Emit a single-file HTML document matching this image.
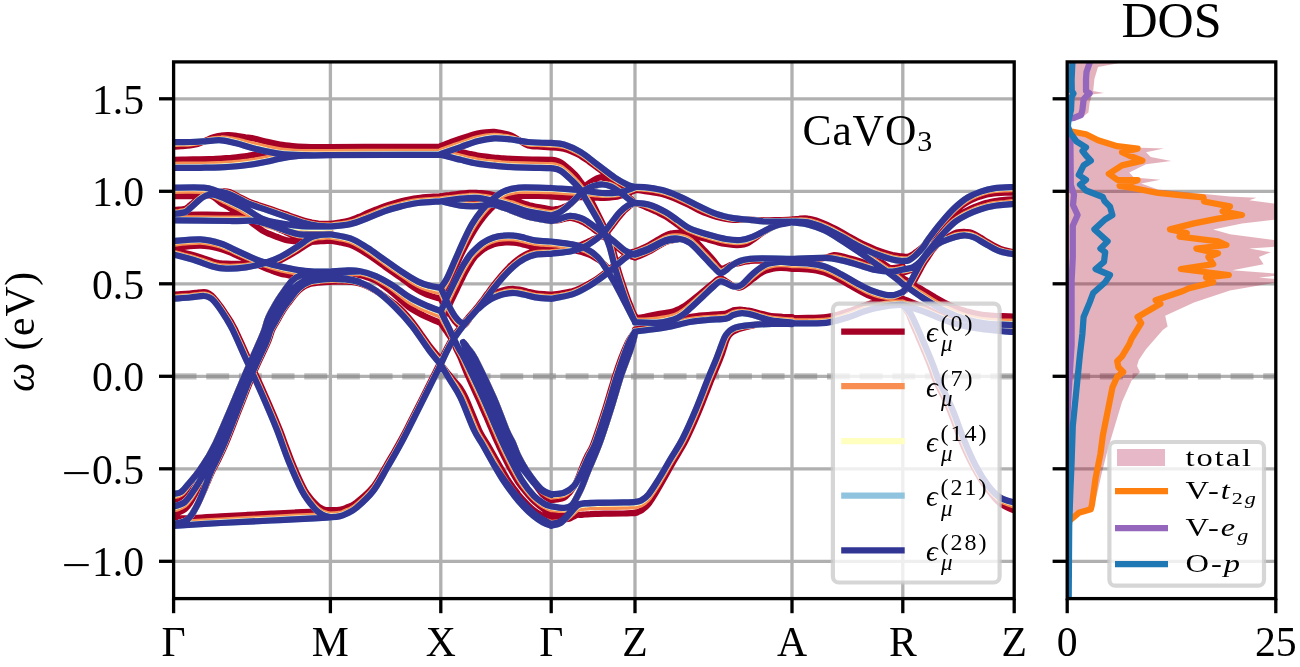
<!DOCTYPE html>
<html lang="en"><head><meta charset="utf-8"><title>CaVO3 band structure and DOS</title>
<style>html,body{margin:0;padding:0;background:#fff}body{width:1300px;height:667px;overflow:hidden}svg{display:block}text{font-family:"Liberation Serif","DejaVu Serif",serif;fill:#000}</style></head><body>
<svg width="1300" height="667" viewBox="0 0 1300 667">
<rect width="1300" height="667" fill="#fff"/>
<defs><clipPath id="ca"><rect x="173.6" y="61.9" width="840.6" height="536.7"/></clipPath><clipPath id="cd"><rect x="1067.2" y="61.9" width="208.6" height="536.7"/></clipPath></defs>
<g stroke="#b0b0b0" stroke-width="3.30" fill="none">
<line x1="330.4" y1="61.9" x2="330.4" y2="598.6"/>
<line x1="440.8" y1="61.9" x2="440.8" y2="598.6"/>
<line x1="551.2" y1="61.9" x2="551.2" y2="598.6"/>
<line x1="635.0" y1="61.9" x2="635.0" y2="598.6"/>
<line x1="792.0" y1="61.9" x2="792.0" y2="598.6"/>
<line x1="902.8" y1="61.9" x2="902.8" y2="598.6"/>
<line x1="173.6" y1="98.8" x2="1014.2" y2="98.8"/>
<line x1="1067.2" y1="98.8" x2="1275.8" y2="98.8"/>
<line x1="173.6" y1="191.3" x2="1014.2" y2="191.3"/>
<line x1="1067.2" y1="191.3" x2="1275.8" y2="191.3"/>
<line x1="173.6" y1="283.8" x2="1014.2" y2="283.8"/>
<line x1="1067.2" y1="283.8" x2="1275.8" y2="283.8"/>
<line x1="173.6" y1="468.8" x2="1014.2" y2="468.8"/>
<line x1="1067.2" y1="468.8" x2="1275.8" y2="468.8"/>
<line x1="173.6" y1="561.3" x2="1014.2" y2="561.3"/>
<line x1="1067.2" y1="561.3" x2="1275.8" y2="561.3"/>
</g>
<line x1="173.6" y1="376.3" x2="1014.2" y2="376.3" stroke="#b0b0b0" stroke-width="3.30"/>
<line x1="1067.2" y1="376.3" x2="1275.8" y2="376.3" stroke="#b0b0b0" stroke-width="3.30"/>
<line x1="173.6" y1="376.3" x2="1014.2" y2="376.3" stroke="#808080" stroke-opacity="0.5" stroke-width="6.25" stroke-dasharray="22.9 9.77"/>
<g clip-path="url(#ca)" fill="none" stroke-linejoin="round" stroke-linecap="round" stroke-width="6.25">
<path stroke="#a50026" d="M173.6 146.8C174.8 146.7 178.1 146.5 180.9 146.2C183.6 146.0 187.2 145.8 190.0 145.4C192.8 145.0 195.0 144.6 197.5 143.9C200.0 143.1 202.4 142.0 205.0 140.9C207.6 139.8 210.3 138.3 212.9 137.4C215.6 136.5 218.3 135.8 221.0 135.5C223.7 135.1 226.2 135.0 228.9 135.1C231.5 135.2 234.2 135.6 237.0 136.0C239.8 136.4 242.4 136.9 245.4 137.4C248.4 137.8 251.4 138.0 255.0 138.8C258.6 139.6 262.9 141.0 267.1 141.9C271.2 142.9 275.8 143.9 280.0 144.6C284.2 145.3 288.3 145.7 292.5 146.1C296.6 146.5 300.5 146.7 305.0 146.9C309.5 147.1 315.0 147.1 319.3 147.1C323.5 147.1 328.5 147.1 330.4 147.1 M173.6 159.8C175.6 159.8 181.1 159.7 185.5 159.6C189.9 159.6 195.8 159.4 200.0 159.4C204.2 159.3 207.5 159.2 211.0 159.1C214.5 158.9 217.7 158.8 221.0 158.6C224.3 158.4 227.7 158.1 230.9 157.9C234.0 157.6 237.2 157.3 240.0 156.9C242.8 156.6 245.4 156.2 247.9 155.9C250.4 155.5 252.7 155.1 255.0 154.7C257.3 154.3 259.5 154.0 261.7 153.6C263.9 153.2 265.9 152.8 268.0 152.4C270.1 152.1 272.1 151.7 274.1 151.5C276.1 151.3 278.0 151.4 280.0 151.2C282.0 151.0 283.9 150.4 285.9 150.0C287.9 149.6 290.0 149.3 292.0 149.0C294.0 148.7 295.5 148.6 297.7 148.4C299.8 148.2 301.5 148.2 305.0 148.0C308.5 147.8 314.3 147.6 318.5 147.5C322.7 147.3 328.4 147.2 330.4 147.1 M173.6 196.2C176.0 196.2 182.9 196.0 188.0 196.0C193.1 196.0 200.1 196.4 204.0 196.2C207.9 196.0 209.4 194.9 211.6 194.5C213.8 194.1 215.1 194.3 217.0 193.8C218.9 193.3 221.0 191.6 223.2 191.4C225.3 191.1 227.4 191.4 230.0 192.3C232.6 193.2 235.8 195.1 238.9 196.7C242.0 198.2 245.4 200.1 248.6 201.5C251.8 202.9 254.8 203.8 257.9 204.9C261.0 205.9 264.1 206.9 267.2 207.9C270.3 208.9 273.4 210.0 276.5 211.1C279.6 212.2 282.7 213.2 285.8 214.3C288.9 215.4 292.3 216.7 295.3 217.7C298.4 218.8 301.6 219.9 304.3 220.7C307.0 221.5 309.4 222.0 311.7 222.5C314.0 222.9 316.0 223.2 318.3 223.5C320.6 223.7 323.2 223.8 325.2 223.8C327.2 223.9 329.5 223.9 330.4 223.9 M173.6 210.0C174.5 210.0 177.0 209.9 178.8 209.7C180.6 209.5 183.2 209.4 184.6 209.0C186.0 208.7 186.6 208.2 187.4 207.6C188.2 207.1 188.7 206.5 189.5 205.8C190.3 205.2 191.1 204.5 192.0 203.9C192.8 203.2 193.6 202.5 194.4 201.8C195.2 201.1 196.0 200.3 196.8 199.7C197.6 199.0 198.4 198.3 199.2 197.7C200.0 197.1 200.8 196.5 201.6 196.0C202.5 195.5 203.3 194.9 204.1 194.6C204.9 194.4 205.7 194.6 206.5 194.6C207.4 194.7 208.2 194.8 209.0 195.0C209.8 195.2 210.5 195.4 211.4 195.8C212.2 196.2 213.0 196.6 214.0 197.3C215.0 198.0 216.1 198.8 217.2 199.8C218.4 200.7 219.7 202.1 221.0 203.0C222.3 203.9 223.8 204.6 225.3 205.4C226.8 206.3 228.4 207.2 230.0 208.2C231.6 209.1 233.4 210.1 235.0 211.1C236.7 212.1 238.5 213.1 240.0 214.1C241.5 215.1 242.6 215.8 244.1 216.9C245.5 217.9 246.7 218.7 248.6 220.1C250.5 221.5 252.9 223.6 255.2 225.3C257.5 227.1 260.2 229.1 262.5 230.6C264.8 232.0 266.9 232.9 269.2 233.9C271.5 234.9 273.7 235.7 276.5 236.8C279.3 237.8 282.7 239.2 285.8 240.0C288.8 240.7 292.3 240.8 295.0 241.2C297.7 241.5 299.5 241.7 301.8 241.8C304.2 241.9 305.9 241.9 309.0 241.8C312.1 241.7 317.0 241.4 320.6 241.2C324.1 241.0 328.8 240.7 330.4 240.6 M173.6 215.3C178.1 215.2 191.0 214.7 200.4 214.7C209.8 214.6 222.7 214.8 230.0 215.0C237.3 215.2 240.3 215.2 244.2 215.6C248.0 216.0 250.3 216.7 253.0 217.4C255.7 218.1 257.9 219.0 260.3 220.0C262.6 221.0 264.3 222.1 267.0 223.4C269.7 224.7 273.3 226.4 276.4 227.9C279.5 229.3 283.0 230.9 285.8 232.1C288.6 233.4 290.7 234.3 293.0 235.2C295.3 236.1 297.4 236.8 299.6 237.4C301.8 238.0 304.1 238.3 306.4 238.6C308.7 238.9 310.9 239.0 313.6 239.2C316.3 239.5 320.1 239.8 322.9 240.0C325.7 240.3 329.1 240.5 330.4 240.6 M173.6 248.0C175.6 247.8 181.3 247.0 185.8 246.6C190.3 246.1 196.3 245.5 200.5 245.6C204.7 245.6 207.9 246.2 211.3 246.7C214.7 247.3 217.8 248.1 220.8 249.0C223.8 249.9 226.6 251.0 229.5 252.2C232.3 253.3 234.9 254.6 237.7 255.8C240.5 257.0 243.7 258.2 246.5 259.4C249.4 260.6 252.3 262.1 254.7 263.2C257.1 264.3 258.9 265.2 260.8 266.1C262.8 266.9 264.5 267.7 266.5 268.5C268.5 269.3 270.7 270.1 272.9 271.0C275.2 271.8 277.4 272.7 280.0 273.4C282.6 274.1 285.4 274.6 288.3 275.2C291.1 275.8 294.1 276.7 297.0 276.8C299.9 276.9 302.7 276.1 305.5 275.9C308.4 275.7 311.0 275.5 314.0 275.5C317.0 275.5 320.5 275.6 323.3 275.6C326.0 275.6 329.2 275.5 330.4 275.5 M173.6 250.5C175.2 250.9 179.8 251.9 183.4 252.8C187.1 253.6 191.9 254.7 195.4 255.7C198.9 256.7 201.5 257.7 204.4 258.7C207.2 259.6 209.9 260.7 212.3 261.4C214.7 262.1 216.6 262.6 218.9 263.0C221.2 263.3 223.1 263.5 225.9 263.6C228.7 263.7 232.4 263.8 235.7 263.8C239.1 263.8 242.9 263.8 246.2 263.6C249.5 263.4 252.7 262.7 255.8 262.8C258.9 262.8 262.0 263.8 264.8 263.9C267.6 264.0 270.0 264.1 272.5 263.5C275.0 262.9 277.3 261.7 280.0 260.4C282.7 259.2 285.8 257.4 288.6 255.8C291.4 254.2 294.4 252.4 297.0 250.8C299.6 249.2 302.0 247.5 304.3 246.1C306.5 244.7 308.7 243.3 310.6 242.4C312.5 241.5 313.9 241.2 315.5 240.9C317.1 240.6 318.3 240.6 320.0 240.5C321.7 240.4 324.1 240.4 325.8 240.4C327.5 240.5 329.6 240.6 330.4 240.6 M173.6 294.6C174.8 294.5 178.2 294.3 180.9 294.1C183.7 294.0 187.2 293.8 190.0 293.5C192.8 293.2 195.3 292.8 197.6 292.6C199.9 292.3 202.2 292.0 203.9 292.0C205.6 292.0 206.6 292.5 207.6 292.9C208.6 293.2 209.2 293.8 210.0 294.3C210.8 294.8 211.4 295.3 212.1 295.9C212.7 296.5 213.2 297.1 214.0 298.0C214.8 298.9 215.6 300.0 216.6 301.2C217.6 302.5 218.7 304.0 220.0 305.7C221.3 307.4 222.8 309.6 224.2 311.6C225.6 313.7 227.2 316.2 228.4 318.0C229.6 319.8 230.2 320.7 231.4 322.7C232.5 324.7 233.5 326.4 235.3 330.0C237.0 333.6 239.5 339.2 241.9 344.4C244.3 349.7 247.1 355.9 249.6 361.5C252.2 367.1 254.6 372.2 257.2 377.8C259.7 383.2 262.2 388.7 264.7 394.5C267.3 400.3 270.0 406.5 272.5 412.4C275.0 418.3 277.6 424.4 279.8 430.0C282.0 435.6 283.8 440.7 285.7 445.8C287.7 451.0 289.3 455.8 291.4 461.0C293.5 466.2 295.9 472.0 298.2 476.9C300.4 481.8 302.8 486.9 304.9 490.5C307.0 494.2 309.0 496.6 310.9 499.0C312.8 501.4 314.8 503.2 316.4 504.7C318.0 506.2 319.3 507.2 320.6 508.0C321.9 508.8 323.1 509.2 324.3 509.6C325.5 510.0 326.7 510.1 327.8 510.2C328.8 510.3 330.0 510.2 330.4 510.2 M173.6 499.9C174.1 499.7 175.5 499.5 176.8 499.0C178.0 498.4 179.6 497.9 181.0 496.7C182.4 495.5 183.7 494.0 185.1 492.0C186.5 490.0 188.0 487.3 189.5 484.9C191.0 482.5 192.4 480.3 194.1 477.8C195.8 475.3 197.6 473.0 199.7 470.0C201.8 467.0 203.9 464.4 206.5 459.9C209.2 455.4 211.8 451.3 215.7 443.0C219.6 434.7 225.4 421.0 230.2 409.9C235.0 398.7 240.7 385.0 244.5 376.0C248.3 367.0 250.8 361.6 253.2 356.1C255.6 350.6 257.5 346.5 259.0 343.0C260.5 339.5 261.5 337.4 262.4 335.2C263.3 333.0 263.8 331.9 264.4 330.0C265.0 328.1 265.6 326.0 266.2 324.0C266.8 322.0 267.3 320.1 268.2 318.0C269.1 315.9 270.3 313.6 271.4 311.4C272.5 309.2 273.9 306.9 275.0 305.0C276.1 303.1 277.1 301.5 278.2 299.7C279.3 298.0 280.4 296.5 281.8 294.4C283.2 292.3 285.1 289.5 286.8 287.3C288.5 285.0 290.5 282.4 292.0 280.8C293.5 279.2 294.6 278.3 296.0 277.5C297.4 276.6 298.6 276.0 300.4 275.6C302.2 275.1 304.4 274.9 306.7 274.8C309.0 274.7 311.4 274.7 314.0 274.8C316.6 275.0 319.4 275.4 322.1 275.7C324.9 276.0 327.8 276.7 330.4 276.8C333.0 276.9 335.4 276.5 337.9 276.3C340.3 276.1 342.5 275.9 345.0 275.8C347.5 275.7 350.5 275.6 352.9 275.6C355.2 275.5 357.9 275.5 358.9 275.5 M173.6 514.0C174.4 513.7 176.7 513.3 178.5 512.5C180.3 511.7 182.7 510.9 184.6 509.4C186.5 507.8 188.1 505.7 189.7 503.4C191.3 501.0 192.9 497.9 194.4 495.2C195.9 492.5 197.3 489.7 198.6 487.2C199.9 484.6 201.3 481.7 202.2 479.9C203.1 478.2 203.2 478.1 203.9 476.7C204.6 475.3 205.1 474.1 206.5 471.4C207.9 468.7 209.9 465.0 212.3 460.3C214.7 455.5 217.3 451.4 221.0 443.0C224.7 434.6 230.0 421.0 234.5 409.9C239.0 398.7 244.3 385.0 248.0 376.0C251.7 367.0 254.2 361.6 256.6 356.1C259.0 350.6 261.0 346.5 262.5 343.0C264.0 339.5 264.8 337.2 265.6 335.1C266.5 332.9 266.8 331.7 267.5 330.0C268.2 328.3 268.9 326.7 269.6 325.0C270.4 323.3 271.1 321.9 272.0 320.0C272.9 318.1 274.1 315.9 275.2 313.7C276.4 311.5 277.7 309.2 279.0 307.0C280.3 304.8 281.8 302.4 283.3 300.3C284.8 298.1 286.4 295.9 288.0 294.0C289.6 292.1 291.1 290.4 292.8 288.8C294.4 287.2 296.2 285.8 298.0 284.5C299.8 283.2 301.6 282.0 303.7 281.1C305.8 280.1 307.8 279.2 310.6 278.6C313.4 278.0 317.1 277.6 320.4 277.4C323.7 277.1 327.5 277.0 330.4 277.0C333.3 277.0 335.6 277.1 338.1 277.4C340.5 277.6 342.5 277.9 345.0 278.3C347.5 278.7 350.5 279.4 352.9 280.0C355.2 280.5 357.9 281.2 358.9 281.5 M173.6 524.0C174.5 523.8 176.9 523.4 178.7 522.9C180.6 522.4 183.1 521.8 184.6 521.2C186.1 520.6 186.8 520.2 187.8 519.3C188.8 518.5 189.6 517.7 190.6 516.3C191.6 514.9 192.9 513.0 194.1 510.9C195.3 508.9 196.5 506.6 197.7 504.1C198.9 501.6 200.1 498.9 201.4 496.1C202.7 493.4 204.1 490.3 205.3 487.5C206.5 484.7 207.4 482.3 208.7 479.4C209.9 476.5 211.3 473.3 212.9 470.0C214.5 466.7 216.2 464.1 218.4 459.6C220.6 455.1 222.5 451.3 226.0 443.0C229.5 434.7 234.7 421.0 239.1 409.9C243.5 398.7 248.8 385.0 252.5 376.0C256.2 367.0 258.9 361.6 261.4 356.1C263.9 350.6 266.0 346.5 267.5 343.0C269.0 339.5 269.7 337.1 270.4 335.0C271.2 332.8 271.4 331.6 272.1 330.0C272.8 328.4 273.6 327.0 274.4 325.6C275.2 324.2 276.0 323.0 277.0 321.4C278.0 319.8 279.1 317.6 280.1 315.7C281.2 313.9 282.4 311.8 283.4 310.2C284.3 308.6 285.1 307.5 286.1 306.1C287.1 304.8 288.1 303.6 289.4 302.0C290.6 300.3 292.2 298.0 293.8 296.0C295.3 294.1 297.1 292.0 298.8 290.4C300.5 288.8 302.1 287.5 304.1 286.4C306.0 285.3 307.7 284.3 310.6 283.6C313.5 283.0 317.9 282.6 321.2 282.3C324.5 282.0 328.9 281.9 330.4 281.8 M173.6 518.5C177.0 518.4 186.2 518.3 194.0 517.9C201.9 517.6 212.1 516.9 220.8 516.4C229.5 515.9 238.0 515.5 246.5 515.0C255.0 514.6 263.5 514.1 271.6 513.7C279.7 513.3 287.9 512.9 294.9 512.5C302.0 512.1 309.0 511.7 314.0 511.5C319.0 511.2 322.1 511.0 324.9 510.8C327.6 510.6 329.5 510.5 330.4 510.4 M330.4 147.1C339.6 147.1 367.2 147.0 385.6 146.9C404.0 146.8 431.6 146.7 440.8 146.7 M330.4 223.9C331.9 223.7 336.0 223.1 339.3 222.5C342.7 221.9 347.1 221.2 350.4 220.2C353.7 219.3 356.2 218.1 359.0 217.0C361.9 215.8 364.5 214.4 367.3 213.2C370.1 212.0 373.0 210.9 375.8 209.7C378.6 208.6 381.5 207.4 384.3 206.4C387.1 205.4 389.9 204.5 392.8 203.7C395.6 202.9 398.4 202.1 401.2 201.4C404.0 200.7 406.5 200.1 409.3 199.5C412.1 198.9 414.6 198.4 418.1 198.0C421.6 197.6 426.7 197.2 430.5 196.9C434.3 196.7 439.1 196.4 440.8 196.3 M330.4 240.6C331.9 240.8 336.0 241.4 339.3 242.1C342.7 242.8 347.1 243.6 350.4 244.8C353.7 245.9 356.2 247.4 359.0 248.9C361.9 250.5 364.5 252.3 367.3 254.1C370.1 255.9 373.0 257.9 375.8 259.9C378.6 261.9 381.5 264.0 384.3 266.1C387.1 268.1 389.9 270.1 392.8 272.1C395.6 274.1 398.3 276.0 401.2 278.0C404.1 280.1 407.1 282.6 410.0 284.6C412.8 286.6 415.7 288.6 418.1 290.1C420.5 291.6 422.4 292.5 424.4 293.4C426.4 294.3 428.0 294.9 430.0 295.6C432.0 296.3 434.3 297.1 436.1 297.6C437.9 298.1 440.0 298.7 440.8 298.9 M330.4 275.5C331.5 275.4 334.4 275.1 336.8 275.0C339.3 274.8 342.5 274.6 345.0 274.5C347.5 274.4 349.5 274.3 351.8 274.4C354.1 274.5 356.3 274.5 358.9 275.0C361.5 275.5 364.3 276.3 367.2 277.2C370.0 278.2 373.0 279.1 375.8 280.6C378.6 282.1 381.4 284.3 384.2 286.3C387.1 288.4 389.9 290.5 392.7 292.9C395.5 295.2 398.4 297.9 401.2 300.4C404.0 302.9 406.8 305.7 409.7 307.8C412.6 309.9 415.5 311.3 418.3 312.8C421.1 314.4 423.9 315.7 426.6 317.0C429.3 318.3 432.4 319.6 434.8 320.6C437.1 321.6 439.8 322.6 440.8 323.0 M330.4 281.8C331.5 281.8 334.4 281.6 336.8 281.6C339.3 281.6 342.5 281.6 345.0 281.6C347.5 281.7 349.5 281.7 351.8 282.0C354.1 282.2 356.4 282.6 358.9 283.3C361.4 284.0 364.2 284.9 367.0 286.1C369.8 287.4 372.7 288.9 375.8 290.8C378.9 292.6 382.2 294.9 385.4 297.1C388.7 299.4 392.1 301.7 395.1 304.2C398.1 306.7 400.9 309.1 403.7 312.1C406.5 315.0 409.1 318.1 412.0 321.7C414.9 325.3 418.0 329.8 420.8 333.8C423.7 337.7 426.5 341.9 429.0 345.3C431.5 348.6 434.0 351.5 436.0 353.9C437.9 356.2 440.0 358.6 440.8 359.5 M330.4 510.2C331.1 510.2 332.9 510.3 334.4 510.2C335.9 510.2 337.8 510.1 339.3 509.9C340.8 509.7 341.8 509.4 343.1 509.0C344.4 508.6 345.7 508.0 347.0 507.5C348.3 507.0 349.5 506.7 351.1 505.9C352.6 505.1 354.1 504.3 356.3 502.6C358.5 500.9 361.7 498.5 364.5 495.9C367.3 493.3 370.6 490.3 373.2 487.0C375.8 483.7 378.0 479.9 380.3 476.1C382.6 472.4 384.7 468.3 387.0 464.3C389.3 460.2 391.8 456.1 394.2 452.0C396.5 447.9 399.0 443.6 401.2 439.5C403.4 435.4 405.5 431.4 407.6 427.3C409.7 423.1 411.8 419.1 414.0 414.7C416.2 410.3 418.7 405.4 421.0 400.8C423.3 396.2 425.6 391.6 428.0 386.8C430.4 382.1 433.1 376.7 435.3 372.4C437.4 368.2 439.9 363.3 440.8 361.5 M440.8 145.9C442.3 145.4 446.3 143.9 449.6 142.6C452.9 141.4 457.2 139.7 460.5 138.6C463.8 137.5 466.3 136.7 469.1 135.9C471.9 135.0 474.6 134.2 477.4 133.6C480.2 133.0 483.0 132.6 485.8 132.3C488.7 132.0 491.5 131.7 494.3 131.9C497.1 132.1 500.0 132.8 502.8 133.4C505.6 134.0 508.5 134.3 511.3 135.5C514.1 136.7 516.6 138.8 519.4 140.5C522.2 142.1 524.6 144.4 528.2 145.4C531.8 146.4 536.9 146.3 540.8 146.6C544.6 146.9 549.5 147.3 551.2 147.4 M440.8 146.7C442.3 147.1 446.3 148.1 449.6 149.0C452.9 149.8 457.2 150.9 460.5 151.7C463.8 152.6 466.3 153.2 469.1 153.9C471.9 154.5 474.6 155.1 477.4 155.6C480.2 156.1 483.0 156.4 485.8 156.7C488.7 157.1 491.7 157.3 494.3 157.6C496.9 157.8 498.5 158.1 501.4 158.3C504.2 158.5 506.1 158.7 511.3 158.9C516.5 159.1 525.7 159.3 532.3 159.5C539.0 159.7 548.1 159.8 551.2 159.9 M440.8 196.3C442.3 196.1 446.3 195.5 449.6 195.1C452.9 194.6 457.2 194.1 460.5 193.7C463.8 193.3 466.3 193.1 469.1 192.9C471.9 192.8 474.6 192.7 477.4 192.9C480.2 193.0 483.0 193.3 485.8 193.7C488.7 194.1 491.5 194.7 494.3 195.3C497.1 195.8 500.0 196.4 502.8 197.0C505.6 197.6 508.5 198.2 511.3 199.0C514.1 199.8 516.6 201.0 519.4 202.0C522.2 203.0 524.6 204.0 528.2 204.9C531.8 205.9 536.9 206.8 540.8 207.6C544.6 208.3 549.5 209.2 551.2 209.5 M440.8 196.3C442.3 196.8 446.3 198.1 449.6 199.0C452.9 199.9 457.2 201.1 460.5 201.6C463.8 202.1 466.7 202.2 469.5 202.3C472.4 202.4 475.1 202.3 477.4 202.2C479.7 202.1 481.4 201.6 483.1 201.5C484.8 201.5 486.4 201.7 487.6 201.8C488.8 202.0 489.4 202.1 490.5 202.5C491.6 202.9 492.4 203.6 494.3 204.4C496.2 205.2 499.3 206.2 502.2 207.2C505.0 208.2 508.4 209.4 511.3 210.5C514.2 211.6 516.6 212.7 519.4 213.8C522.2 214.8 524.6 215.9 528.2 216.8C531.8 217.7 536.9 218.6 540.8 219.3C544.6 220.0 549.5 220.7 551.2 221.0 M440.8 298.9C441.2 298.0 442.3 295.8 443.3 293.6C444.3 291.5 445.5 288.9 446.8 286.2C448.1 283.5 449.4 280.6 450.8 277.5C452.2 274.4 453.8 271.0 455.2 267.8C456.6 264.5 458.0 261.3 459.4 258.2C460.8 255.2 462.2 252.3 463.6 249.6C465.0 246.8 466.3 244.4 467.7 241.8C469.1 239.2 470.4 236.6 472.0 234.0C473.6 231.3 475.4 228.4 477.1 225.8C478.9 223.1 480.7 220.6 482.5 218.3C484.3 216.0 486.0 213.8 487.8 211.9C489.5 209.9 491.2 208.1 493.0 206.6C494.8 205.0 496.5 203.8 498.2 202.7C500.0 201.5 501.8 200.6 503.5 199.8C505.2 198.9 507.0 198.3 508.8 197.7C510.5 197.2 512.4 197.0 514.0 196.7C515.6 196.5 516.5 196.4 518.2 196.2C520.0 196.1 521.1 195.9 524.5 195.9C527.9 195.8 534.1 195.9 538.5 195.9C543.0 196.0 549.1 196.2 551.2 196.3 M440.8 323.0C441.1 322.5 441.8 321.1 442.4 319.8C443.1 318.5 443.9 316.8 444.7 315.2C445.4 313.5 446.2 311.7 447.1 309.9C447.9 308.0 448.8 306.0 449.7 304.1C450.6 302.2 451.5 300.3 452.4 298.4C453.3 296.6 454.2 294.9 455.0 293.1C455.8 291.4 456.6 289.8 457.4 288.1C458.2 286.3 459.1 284.5 460.0 282.7C460.9 280.9 461.8 278.9 462.8 277.0C463.7 275.2 464.6 273.3 465.5 271.6C466.4 270.0 467.2 268.6 468.0 267.2C468.8 265.8 469.7 264.5 470.5 263.2C471.3 261.9 472.0 260.6 472.9 259.4C473.8 258.2 474.5 257.1 475.7 255.9C476.9 254.7 478.4 253.2 479.9 252.0C481.4 250.8 483.1 249.5 484.6 248.5C486.2 247.5 487.6 246.8 489.1 246.1C490.6 245.4 492.1 244.7 493.7 244.2C495.3 243.8 496.8 243.5 498.4 243.2C500.1 242.9 501.8 242.7 503.5 242.6C505.2 242.5 507.0 242.3 508.8 242.3C510.5 242.3 512.2 242.4 514.0 242.6C515.8 242.8 517.5 243.1 519.2 243.5C521.0 243.8 522.8 244.3 524.5 244.7C526.2 245.1 527.6 245.6 529.4 246.1C531.1 246.5 532.6 247.0 535.0 247.3C537.4 247.6 541.1 247.9 543.8 248.1C546.5 248.3 550.0 248.4 551.2 248.5 M440.8 361.5C441.2 360.7 442.2 358.4 443.0 356.5C443.9 354.6 445.0 352.1 446.0 350.2C447.0 348.2 447.8 346.5 448.8 344.7C449.8 342.9 450.8 341.2 451.9 339.4C453.0 337.6 454.2 335.8 455.4 334.0C456.7 332.2 458.0 330.4 459.3 328.6C460.6 326.8 462.0 325.1 463.5 323.3C464.9 321.5 466.4 319.8 468.0 317.9C469.6 316.1 471.2 314.3 472.9 312.3C474.5 310.4 476.2 308.5 477.9 306.4C479.6 304.3 481.4 301.9 483.0 299.8C484.6 297.6 486.3 295.3 487.5 293.6C488.7 292.0 489.3 291.1 490.2 289.9C491.1 288.6 491.7 287.8 493.0 286.2C494.3 284.5 496.2 282.1 497.9 280.0C499.7 277.8 501.7 275.4 503.5 273.4C505.3 271.3 507.0 269.5 508.8 267.7C510.5 265.9 512.2 264.2 514.0 262.7C515.8 261.2 517.5 259.8 519.2 258.6C521.0 257.3 522.8 256.2 524.5 255.2C526.2 254.3 527.6 253.5 529.4 252.8C531.1 252.1 532.6 251.5 535.0 251.1C537.4 250.6 541.1 250.4 543.8 250.2C546.5 250.0 550.0 249.9 551.2 249.8 M478.0 309.0C478.3 308.6 479.2 307.5 479.9 306.5C480.7 305.5 481.6 304.3 482.5 303.2C483.4 302.1 484.3 301.1 485.2 300.1C486.1 299.0 487.2 297.8 488.0 297.0C488.8 296.2 489.4 296.0 490.2 295.5C491.0 295.0 491.7 294.6 493.0 294.0C494.3 293.4 496.2 292.6 497.9 292.0C499.7 291.4 501.7 290.7 503.5 290.2C505.3 289.7 507.0 289.4 508.8 289.2C510.5 289.1 512.2 288.9 514.0 289.0C515.8 289.1 517.5 289.4 519.2 289.7C521.0 290.0 522.8 290.4 524.5 290.8C526.2 291.2 527.6 291.7 529.4 292.1C531.1 292.5 532.6 292.9 535.0 293.3C537.4 293.7 541.1 294.0 543.8 294.2C546.5 294.5 550.0 294.7 551.2 294.8 M440.8 298.9C441.1 299.5 442.1 301.2 442.9 302.5C443.7 303.9 444.7 305.7 445.5 307.0C446.3 308.4 446.9 309.4 447.7 310.6C448.4 311.7 449.2 312.6 450.0 313.9C450.8 315.2 451.8 316.9 452.7 318.3C453.7 319.6 454.7 321.0 455.6 322.1C456.5 323.2 457.4 324.1 458.3 324.8C459.2 325.5 460.1 326.0 461.0 326.1C461.9 326.2 462.8 325.8 463.6 325.4C464.4 325.0 465.2 324.4 466.0 323.6C466.8 322.8 467.6 321.4 468.3 320.4C469.0 319.4 469.7 318.0 470.0 317.5 M440.8 323.0C441.0 323.4 441.7 324.4 442.2 325.2C442.7 326.0 443.4 327.1 444.0 327.9C444.5 328.7 444.9 329.2 445.5 329.9C446.0 330.6 446.5 331.2 447.2 332.2C447.8 333.3 448.7 334.7 449.6 335.9C450.4 337.2 451.3 338.4 452.1 339.8C453.0 341.3 453.7 343.0 454.5 344.7C455.3 346.4 456.2 348.7 456.8 350.0C457.5 351.3 457.6 351.2 458.3 352.8C459.0 354.2 459.5 354.9 461.2 359.0C462.9 363.1 465.7 370.6 468.6 377.1C471.4 383.6 475.2 391.6 478.1 398.0C481.0 404.4 483.5 410.3 485.9 415.6C488.2 421.0 490.4 426.4 492.0 430.0C493.6 433.6 494.3 435.3 495.2 437.5C496.2 439.7 496.7 440.9 497.7 443.0C498.7 445.1 499.8 447.7 501.1 450.3C502.4 453.0 503.7 455.6 505.3 458.8C506.9 462.1 508.9 466.1 511.0 469.8C513.1 473.6 515.4 477.8 517.8 481.4C520.1 484.9 522.8 488.3 525.3 491.3C527.7 494.4 530.2 497.1 532.5 499.5C534.8 501.9 537.3 503.8 539.2 505.5C541.2 507.1 542.7 508.4 544.2 509.4C545.7 510.5 547.2 511.3 548.3 512.0C549.5 512.6 550.7 513.1 551.2 513.3 M464.0 343.0C464.3 343.4 465.1 344.4 465.8 345.4C466.6 346.4 467.6 347.9 468.5 349.0C469.4 350.1 469.9 350.3 471.0 351.9C472.2 353.6 473.1 354.8 475.3 359.0C477.5 363.2 481.1 370.6 484.2 377.1C487.3 383.6 491.1 391.6 493.9 398.0C496.7 404.4 498.9 410.3 501.0 415.6C503.1 421.0 505.0 426.3 506.5 430.0C508.0 433.7 509.1 435.6 510.2 437.7C511.3 439.9 512.1 441.1 513.0 443.0C513.9 444.9 514.6 447.1 515.4 449.2C516.3 451.2 517.0 453.2 518.0 455.4C519.0 457.6 520.3 460.0 521.6 462.2C522.9 464.5 524.2 466.8 525.6 469.0C527.0 471.2 528.3 473.0 529.7 475.2C531.1 477.4 532.6 479.9 534.0 482.1C535.4 484.4 536.8 486.7 538.2 488.7C539.6 490.7 541.0 492.7 542.5 494.3C544.0 495.8 545.9 497.1 547.4 498.1C548.8 499.1 550.6 499.9 551.2 500.2 M440.8 364.5C441.7 365.6 444.1 368.6 446.1 371.1C448.2 373.7 450.9 377.2 453.2 380.0C455.5 382.8 457.9 384.8 460.0 387.8C462.0 390.7 463.4 393.3 465.5 397.7C467.6 402.1 470.1 408.7 472.4 414.0C474.6 419.4 477.2 426.0 479.0 430.0C480.8 434.0 482.0 435.6 483.4 438.1C484.8 440.5 485.9 441.8 487.5 444.5C489.1 447.2 491.1 450.9 492.9 454.1C494.7 457.3 496.7 460.9 498.4 463.9C500.1 466.9 501.6 469.5 503.2 472.2C504.7 474.8 506.1 477.1 507.7 479.6C509.3 482.1 511.2 484.7 512.9 487.2C514.6 489.6 516.5 492.0 518.0 494.1C519.6 496.1 521.0 497.7 522.4 499.3C523.8 501.0 525.1 502.3 526.6 503.8C528.1 505.3 529.7 506.8 531.1 508.1C532.6 509.4 534.1 510.6 535.5 511.6C536.9 512.6 538.2 513.4 539.5 514.1C540.8 514.8 541.9 515.4 543.3 515.9C544.6 516.4 546.3 516.9 547.7 517.3C549.0 517.6 550.6 518.0 551.2 518.2 M551.2 147.4C552.1 147.4 554.4 147.4 556.5 147.6C558.6 147.8 561.3 148.1 563.9 148.7C566.5 149.4 569.3 150.5 572.1 151.7C574.9 152.9 577.9 154.2 580.8 155.9C583.7 157.5 586.4 159.6 589.2 161.6C592.1 163.6 594.8 165.7 597.7 167.9C600.6 170.0 603.6 172.4 606.4 174.5C609.2 176.6 612.1 178.7 614.7 180.5C617.3 182.3 619.8 183.7 622.1 185.0C624.3 186.3 626.5 187.4 628.2 188.1C629.9 188.8 631.3 189.1 632.4 189.4C633.6 189.7 634.6 189.7 635.0 189.8 M551.2 159.9C551.9 160.0 553.5 160.0 555.1 160.4C556.7 160.8 558.5 161.0 560.6 162.3C562.8 163.6 565.6 166.1 568.1 168.2C570.5 170.3 573.3 172.9 575.3 175.0C577.3 177.1 578.6 178.9 580.0 180.8C581.4 182.6 582.8 184.6 583.8 186.2C584.8 187.9 585.3 189.0 586.1 190.7C587.0 192.5 587.5 193.8 588.9 196.7C590.3 199.5 592.7 203.9 594.7 207.7C596.6 211.5 598.9 216.1 600.5 219.3C602.1 222.6 603.1 224.7 604.2 227.0C605.3 229.4 606.2 231.3 607.1 233.4C608.0 235.5 608.8 237.2 609.6 239.4C610.5 241.7 611.2 243.7 612.1 246.9C613.1 250.1 614.2 254.6 615.3 258.9C616.4 263.1 617.6 267.9 618.9 272.3C620.2 276.7 621.7 281.3 623.1 285.5C624.5 289.8 626.0 294.1 627.3 297.7C628.6 301.3 629.9 304.5 631.0 307.3C632.1 310.2 633.2 312.7 634.1 314.7C635.0 316.7 635.7 318.1 636.2 319.3C636.8 320.5 637.3 321.4 637.5 321.8 M583.0 188.0C584.2 187.1 587.7 184.1 590.0 182.5C592.3 180.9 594.8 179.2 597.0 178.3C599.2 177.4 600.8 176.9 603.0 176.8C605.2 176.8 607.7 177.2 610.0 178.0C612.3 178.8 614.5 180.1 617.0 181.5C619.5 182.9 622.7 185.2 625.0 186.5C627.3 187.8 630.0 189.0 631.0 189.5 M551.2 196.3C553.6 196.5 560.5 197.3 565.4 197.4C570.4 197.6 577.3 197.4 580.8 197.2C584.3 197.1 585.0 196.8 586.5 196.8C588.0 196.8 588.5 197.0 590.0 197.2C591.5 197.3 593.8 197.5 595.8 197.6C597.8 197.7 599.9 197.9 602.0 197.9C604.1 197.9 606.3 197.8 608.5 197.7C610.6 197.5 612.8 197.3 614.7 197.0C616.6 196.7 618.3 196.2 620.0 195.7C621.7 195.2 623.2 194.6 625.0 194.0C626.8 193.4 629.0 192.6 630.6 192.0C632.3 191.4 634.3 190.6 635.0 190.3 M551.2 209.5C551.8 209.5 553.5 209.4 554.8 209.3C556.2 209.1 558.0 209.0 559.2 208.7C560.4 208.5 561.3 208.0 562.3 207.7C563.3 207.3 564.1 207.0 565.0 206.6C565.9 206.3 566.7 205.9 567.5 205.5C568.4 205.1 569.1 204.8 570.0 204.2C570.9 203.6 571.8 202.5 572.7 201.7C573.6 200.8 574.6 199.9 575.5 199.0C576.4 198.1 577.2 197.2 578.0 196.3C578.9 195.4 579.7 194.5 580.8 193.6C581.9 192.7 583.2 191.7 584.4 190.8C585.6 189.9 586.9 189.0 588.0 188.3C589.1 187.6 589.9 187.2 590.9 186.8C591.9 186.4 592.8 186.1 594.0 185.8C595.2 185.5 596.8 185.2 598.3 184.9C599.7 184.5 601.3 183.9 602.8 183.6C604.3 183.2 605.6 182.9 607.0 182.8C608.4 182.7 609.7 182.5 611.0 182.8C612.3 183.1 613.5 183.9 614.6 184.6C615.8 185.3 617.0 186.2 618.1 187.0C619.2 187.8 620.4 188.7 621.5 189.5C622.6 190.4 623.6 191.0 624.8 192.1C626.0 193.2 627.3 194.9 628.4 196.2C629.5 197.5 630.7 198.9 631.6 199.8C632.5 200.8 633.2 201.3 633.7 201.9C634.3 202.4 634.8 202.7 635.0 202.9 M551.2 249.8C552.8 249.7 557.4 249.3 560.9 249.0C564.4 248.6 569.2 248.1 572.3 247.5C575.4 247.0 577.4 246.3 579.7 245.6C581.9 244.8 583.8 243.9 585.9 242.9C588.0 241.9 590.1 240.7 592.2 239.7C594.3 238.8 596.7 238.1 598.5 237.3C600.4 236.5 601.8 235.9 603.3 235.0C604.8 234.0 606.0 233.0 607.4 231.7C608.7 230.4 609.9 228.7 611.2 227.1C612.4 225.5 613.7 223.7 615.0 222.0C616.3 220.3 617.6 218.5 619.0 216.8C620.3 215.1 621.7 213.4 623.0 212.0C624.3 210.6 625.9 209.4 627.1 208.3C628.2 207.2 629.1 206.2 630.1 205.5C631.1 204.8 632.1 204.2 632.9 203.8C633.7 203.4 634.6 203.0 635.0 202.9 M551.2 221.0C551.8 220.9 553.5 220.8 555.0 220.6C556.4 220.4 558.4 220.3 560.0 219.9C561.6 219.6 563.2 218.9 564.9 218.6C566.5 218.2 568.2 217.7 570.0 217.8C571.8 217.8 573.8 218.4 575.6 219.0C577.4 219.5 579.3 220.4 580.8 221.0C582.3 221.6 583.3 222.0 584.5 222.7C585.7 223.4 586.6 224.0 588.0 225.0C589.4 226.0 591.3 227.3 592.9 228.4C594.5 229.6 596.3 231.0 597.7 232.0C599.1 233.0 599.9 233.7 601.1 234.6C602.2 235.4 603.1 236.2 604.5 237.2C605.9 238.2 607.7 239.6 609.4 240.9C611.1 242.1 613.0 243.5 614.7 244.9C616.4 246.3 618.1 247.9 619.8 249.3C621.4 250.7 623.0 252.2 624.8 253.3C626.6 254.4 628.8 255.3 630.5 256.0C632.2 256.7 634.3 257.3 635.0 257.6 M551.2 248.5C552.8 248.6 557.4 248.8 560.9 249.1C564.4 249.4 569.2 249.8 572.3 250.2C575.4 250.5 577.4 250.9 579.7 251.5C581.9 252.0 583.8 252.7 585.9 253.4C588.0 254.2 590.0 254.9 592.1 255.9C594.2 257.0 596.4 258.2 598.4 259.6C600.4 260.9 602.3 262.6 604.1 264.3C605.9 266.0 607.6 267.8 609.2 269.8C610.8 271.7 612.0 273.5 613.5 275.7C614.9 278.0 616.3 280.5 617.7 283.0C619.1 285.5 620.5 288.2 621.9 290.8C623.3 293.5 624.6 296.2 626.1 299.0C627.6 301.8 629.2 305.1 630.7 307.9C632.1 310.6 633.6 313.5 634.6 315.5C635.6 317.5 636.3 318.6 636.8 319.7C637.4 320.7 637.8 321.4 638.0 321.8 M551.2 294.8C552.8 294.6 557.2 294.1 560.7 293.5C564.2 292.9 568.9 292.2 572.3 291.3C575.7 290.3 578.2 289.1 581.1 287.8C583.9 286.5 586.5 285.1 589.3 283.5C592.1 281.8 595.3 279.9 598.1 278.0C600.9 276.1 603.8 273.9 606.2 272.0C608.6 270.1 610.6 268.4 612.6 266.7C614.6 265.0 616.3 263.5 618.1 261.9C619.9 260.3 621.8 258.7 623.5 257.4C625.2 256.0 626.7 254.7 628.2 253.8C629.7 252.9 631.1 252.5 632.2 252.1C633.4 251.8 634.5 251.6 635.0 251.5 M551.2 500.2C552.2 500.1 554.8 499.9 556.9 499.5C559.0 499.1 561.8 498.9 563.9 497.8C566.0 496.7 567.6 494.7 569.3 492.8C571.0 490.9 572.7 488.4 574.0 486.4C575.3 484.4 576.1 482.8 577.0 480.7C578.0 478.6 578.7 476.7 579.8 474.0C580.8 471.3 582.0 467.8 583.3 464.7C584.6 461.6 586.3 457.8 587.5 455.4C588.7 453.0 589.3 452.4 590.4 450.3C591.4 448.3 592.2 447.1 593.7 443.0C595.2 438.9 597.6 431.9 599.7 425.7C601.7 419.6 604.2 412.0 606.0 406.2C607.8 400.4 609.1 395.7 610.6 390.7C612.2 385.6 613.5 381.1 615.2 375.7C616.9 370.3 619.1 363.8 621.1 358.4C623.1 353.1 625.5 347.3 627.3 343.5C629.1 339.7 630.7 337.6 632.0 335.6C633.3 333.6 634.5 332.3 635.0 331.7 M551.2 513.3C552.2 513.3 554.9 513.5 557.0 513.5C559.1 513.4 562.0 513.5 563.9 513.1C565.8 512.6 567.0 511.8 568.4 510.6C569.8 509.4 570.9 508.0 572.3 505.9C573.7 503.7 575.2 500.5 576.6 497.8C578.1 495.0 579.6 492.0 580.8 489.3C582.0 486.6 582.8 484.5 584.0 481.7C585.1 478.8 586.0 476.1 587.6 472.3C589.2 468.5 591.3 463.8 593.3 458.9C595.3 454.0 597.6 448.7 599.7 443.0C601.8 437.3 603.9 430.8 605.9 424.7C607.9 418.5 610.0 411.9 611.8 406.2C613.6 400.5 614.9 395.6 616.5 390.5C618.0 385.4 619.3 380.8 621.0 375.7C622.7 370.6 625.0 364.7 626.8 359.8C628.6 354.8 630.6 349.7 631.8 346.0C633.0 342.3 633.5 339.8 634.1 337.6C634.6 335.5 634.8 333.8 635.0 333.0 M551.2 518.2C551.9 518.3 553.8 518.9 555.3 519.1C556.9 519.3 558.9 519.4 560.5 519.4C562.1 519.4 563.4 519.2 564.8 519.1C566.2 519.0 567.6 519.1 569.0 518.7C570.4 518.3 571.9 517.2 573.3 516.6C574.7 516.0 576.1 515.1 577.4 514.8C578.7 514.6 579.7 515.0 580.9 514.9C582.2 514.9 583.4 514.6 585.0 514.5C586.6 514.4 588.1 514.2 590.2 514.1C592.4 513.9 594.3 513.9 597.7 513.8C601.1 513.7 606.2 513.7 610.5 513.6C614.7 513.6 619.7 513.6 623.1 513.5C626.5 513.4 628.7 513.3 630.6 513.2C632.6 513.1 634.3 513.0 635.0 513.0 M635.0 189.8C635.9 189.9 638.4 190.1 640.7 190.4C642.9 190.7 645.8 191.2 648.5 191.6C651.2 192.0 654.0 192.4 656.8 193.0C659.6 193.5 662.6 194.2 665.5 195.0C668.4 195.8 671.1 196.9 674.0 198.1C676.8 199.2 679.6 200.5 682.4 201.8C685.2 203.1 688.0 204.6 690.8 206.0C693.7 207.4 696.5 209.0 699.3 210.3C702.1 211.6 705.0 212.8 707.8 213.8C710.6 214.9 713.5 216.0 716.3 216.8C719.1 217.6 721.9 218.2 724.8 218.7C727.6 219.2 730.4 219.6 733.2 219.8C736.0 220.0 738.9 219.9 741.7 219.9C744.5 219.9 747.4 219.8 750.0 219.8C752.6 219.8 754.5 220.0 757.1 220.0C759.7 220.1 761.6 220.3 765.4 220.3C769.2 220.3 775.2 220.1 779.7 220.0C784.1 219.9 789.9 219.6 792.0 219.5 M635.0 202.9C635.9 203.2 638.4 203.9 640.7 204.8C642.9 205.7 645.8 207.0 648.5 208.2C651.2 209.4 654.2 210.7 657.1 212.0C659.9 213.4 663.0 214.9 665.5 216.3C668.0 217.7 670.0 219.2 672.1 220.7C674.1 222.1 676.1 223.6 678.0 225.1C679.9 226.5 681.7 228.0 683.7 229.3C685.7 230.7 687.5 232.1 690.0 233.3C692.5 234.5 695.6 235.7 698.6 236.7C701.6 237.7 704.9 238.6 708.0 239.5C711.1 240.4 714.2 241.3 717.2 242.1C720.2 242.8 723.3 243.5 726.0 244.0C728.7 244.5 731.1 244.8 733.5 245.0C735.9 245.2 738.2 245.2 740.4 245.0C742.6 244.8 744.4 244.5 746.5 243.6C748.6 242.7 750.4 241.3 753.0 239.6C755.6 237.8 759.2 235.0 762.2 233.0C765.2 231.0 768.7 229.0 771.0 227.7C773.3 226.4 774.4 225.9 775.9 225.2C777.4 224.5 778.2 224.2 780.0 223.6C781.8 223.0 784.6 222.3 786.6 221.7C788.6 221.2 791.1 220.5 792.0 220.3 M635.0 251.5C635.9 251.1 638.4 250.1 640.7 249.1C642.9 248.1 645.8 246.9 648.5 245.4C651.2 244.0 654.3 241.9 657.1 240.3C659.9 238.7 663.1 236.7 665.5 235.6C667.9 234.4 669.7 233.8 671.7 233.4C673.6 232.9 675.3 232.8 677.3 232.8C679.3 232.8 681.4 232.9 683.5 233.4C685.6 233.9 687.7 234.4 690.0 236.0C692.3 237.6 695.0 240.5 697.4 242.9C699.8 245.3 702.3 248.2 704.4 250.4C706.5 252.6 708.1 254.2 709.7 256.0C711.3 257.8 712.7 259.4 714.0 261.0C715.3 262.6 716.3 264.2 717.3 265.3C718.3 266.5 719.1 267.5 720.0 268.0C720.9 268.5 721.7 268.6 722.5 268.6C723.3 268.6 724.1 268.2 725.0 267.9C725.9 267.5 726.8 267.1 727.8 266.6C728.8 266.1 729.8 265.5 731.0 265.0C732.2 264.5 733.8 264.1 735.2 263.7C736.8 263.4 738.4 263.3 740.0 263.0C741.6 262.7 743.1 262.0 744.8 261.7C746.5 261.4 748.3 261.2 750.0 261.0C751.7 260.8 752.8 260.7 754.8 260.7C756.8 260.6 758.2 260.6 762.0 260.7C765.8 260.8 772.8 261.1 777.8 261.3C782.8 261.5 789.6 261.8 792.0 261.9 M635.0 257.6C635.9 257.2 638.4 256.3 640.7 255.3C642.9 254.4 645.8 253.2 648.5 251.8C651.2 250.4 654.3 248.4 657.1 246.8C659.9 245.2 662.9 243.3 665.5 242.2C668.1 241.1 670.5 240.7 672.5 240.2C674.4 239.8 676.5 239.6 677.3 239.5 M635.0 318.3C636.7 318.0 641.3 317.4 644.9 316.8C648.6 316.1 653.4 315.1 657.0 314.4C660.6 313.7 663.5 313.3 666.3 312.8C669.1 312.3 671.9 311.8 674.0 311.2C676.1 310.6 677.6 309.9 679.1 309.2C680.6 308.4 681.8 307.7 683.0 306.9C684.2 306.2 685.2 305.6 686.4 304.7C687.7 303.8 688.7 303.0 690.5 301.6C692.3 300.2 695.0 298.1 697.3 296.3C699.6 294.4 702.3 292.2 704.4 290.4C706.5 288.7 708.1 287.3 709.7 285.9C711.3 284.6 712.7 283.4 714.0 282.4C715.3 281.4 716.2 280.5 717.2 279.8C718.2 279.2 719.0 278.6 720.0 278.5C721.0 278.4 722.0 278.9 723.0 279.4C724.0 279.8 725.0 280.5 726.0 281.2C727.0 281.9 728.1 282.7 729.1 283.4C730.1 284.1 731.1 284.9 732.0 285.4C732.9 285.9 733.7 286.2 734.5 286.5C735.4 286.8 736.2 287.0 737.0 287.2C737.8 287.3 738.4 287.6 739.2 287.6C740.1 287.5 740.9 287.5 742.2 286.8C743.5 286.1 745.3 284.8 747.1 283.5C748.9 282.1 751.0 280.3 753.0 278.8C755.0 277.3 757.0 275.6 759.1 274.2C761.2 272.8 763.3 271.5 765.6 270.6C767.9 269.7 770.4 269.1 772.8 268.6C775.2 268.2 777.7 268.0 780.0 267.9C782.3 267.8 784.9 268.0 786.9 268.2C788.9 268.3 791.1 268.7 792.0 268.8 M635.0 329.6C637.3 329.2 643.6 328.0 648.7 327.0C653.8 326.0 660.5 324.7 665.5 323.5C670.5 322.3 674.4 320.8 678.5 319.7C682.6 318.6 686.5 317.7 690.0 317.0C693.5 316.3 696.4 316.1 699.4 315.7C702.4 315.4 705.0 315.2 708.0 315.0C711.0 314.8 714.7 314.6 717.7 314.4C720.7 314.2 723.9 314.0 726.0 313.6C728.1 313.2 729.0 312.4 730.2 311.8C731.4 311.3 732.0 310.8 733.2 310.4C734.4 310.1 736.0 309.9 737.5 309.8C739.0 309.7 740.6 309.7 742.2 309.8C743.8 310.0 745.2 310.3 747.0 310.5C748.8 310.8 750.6 311.0 753.0 311.6C755.4 312.1 758.4 313.1 761.4 313.8C764.4 314.6 767.5 315.5 771.0 316.0C774.5 316.5 779.1 316.6 782.6 316.8C786.1 316.9 790.4 317.0 792.0 317.0 M635.0 513.0C635.5 512.9 636.7 512.6 637.7 512.1C638.8 511.7 640.2 511.1 641.5 510.3C642.7 509.5 643.9 508.7 645.2 507.4C646.6 506.1 648.0 504.6 649.6 502.5C651.2 500.3 653.0 497.4 654.8 494.4C656.6 491.4 658.6 487.9 660.6 484.4C662.6 481.0 664.7 477.3 666.8 473.5C668.9 469.8 671.1 465.8 673.1 462.2C675.2 458.6 677.2 455.6 679.2 452.0C681.3 448.5 683.2 445.2 685.4 441.0C687.6 436.8 689.9 431.6 692.2 426.6C694.5 421.6 696.8 416.2 699.0 411.0C701.2 405.8 703.3 400.4 705.2 395.4C707.2 390.5 709.1 385.4 710.8 381.1C712.5 376.9 714.0 373.3 715.5 369.9C716.9 366.6 718.2 363.6 719.3 360.8C720.4 358.0 721.3 355.6 722.2 353.3C723.0 351.0 723.6 349.0 724.2 347.1C724.8 345.2 725.2 343.4 725.8 341.7C726.4 340.1 727.0 338.6 727.8 337.2C728.6 335.8 729.5 334.5 730.7 333.4C731.9 332.3 732.9 331.6 735.0 330.6C737.1 329.6 740.4 328.5 743.4 327.7C746.4 326.8 749.9 326.1 753.0 325.4C756.1 324.7 758.8 324.1 761.8 323.5C764.8 322.9 767.5 322.5 771.0 321.9C774.5 321.4 779.1 320.8 782.6 320.3C786.1 319.8 790.4 319.2 792.0 319.0 M792.0 219.5C793.1 219.4 796.2 218.9 798.8 218.8C801.4 218.6 804.8 218.2 807.7 218.6C810.6 218.9 813.3 219.7 816.1 220.6C819.0 221.5 821.9 222.7 824.7 223.9C827.5 225.1 830.3 226.5 833.2 227.9C836.0 229.3 838.8 230.8 841.6 232.3C844.4 233.9 847.2 235.5 850.0 237.1C852.9 238.6 855.7 240.3 858.5 241.7C861.3 243.2 864.2 244.6 867.0 245.9C869.8 247.3 872.6 248.5 875.5 249.6C878.4 250.8 881.5 251.9 884.4 252.8C887.2 253.7 890.0 254.5 892.4 255.1C894.8 255.6 896.9 255.9 898.7 256.1C900.4 256.4 902.1 256.4 902.8 256.5 M792.0 220.3C793.1 220.4 796.2 220.7 798.8 221.0C801.4 221.4 804.8 221.8 807.7 222.5C810.6 223.2 813.5 224.1 816.3 225.1C819.2 226.1 822.2 227.4 824.7 228.5C827.2 229.6 829.2 230.8 831.5 231.9C833.7 233.1 835.7 234.1 838.4 235.4C841.1 236.8 844.5 238.5 847.6 240.2C850.7 242.0 854.1 244.1 856.9 245.9C859.7 247.7 861.9 249.2 864.3 250.8C866.7 252.4 868.8 253.9 871.2 255.5C873.6 257.1 876.1 258.8 878.5 260.3C880.8 261.9 883.2 263.5 885.4 265.0C887.6 266.5 889.7 268.0 891.6 269.4C893.5 270.7 895.3 272.0 896.8 273.2C898.3 274.3 899.5 275.4 900.5 276.2C901.5 277.0 902.4 277.9 902.8 278.2 M792.0 261.9C794.5 261.6 801.8 260.5 807.3 259.9C812.7 259.2 820.2 258.7 824.7 257.9C829.2 257.1 831.3 255.4 834.1 255.1C837.0 254.9 838.9 255.8 841.6 256.4C844.3 257.0 847.2 257.8 850.0 258.5C852.9 259.3 855.7 260.1 858.5 261.0C861.3 261.9 864.2 262.9 867.0 263.7C869.8 264.5 872.6 265.4 875.5 266.0C878.4 266.6 881.5 267.0 884.4 267.4C887.2 267.7 890.0 268.0 892.4 268.0C894.8 268.0 896.9 267.7 898.7 267.4C900.4 267.2 902.1 266.7 902.8 266.5 M792.0 268.8C793.1 268.8 796.2 268.8 798.8 268.9C801.4 268.9 804.8 269.0 807.7 269.3C810.6 269.6 813.3 269.9 816.1 270.4C819.0 271.0 821.8 271.5 824.7 272.5C827.6 273.5 830.4 274.8 833.3 276.1C836.1 277.5 838.9 279.0 841.6 280.5C844.3 282.0 846.9 283.5 849.4 285.0C852.0 286.4 854.4 287.9 856.9 289.3C859.4 290.7 861.7 291.9 864.1 293.1C866.5 294.3 868.8 295.4 871.2 296.4C873.6 297.4 876.3 298.4 878.7 299.0C881.0 299.5 883.5 299.6 885.4 299.6C887.3 299.7 888.6 299.5 890.0 299.3C891.5 299.1 892.5 298.9 894.0 298.2C895.5 297.5 897.5 296.0 898.9 295.0C900.4 294.0 902.2 292.5 902.8 292.0 M792.0 318.0C794.6 318.0 802.1 318.1 807.8 317.9C813.5 317.8 821.2 317.7 826.2 317.1C831.2 316.6 834.2 315.7 837.7 314.8C841.3 313.9 844.2 312.8 847.7 311.6C851.2 310.5 854.9 309.0 858.4 307.7C862.0 306.4 865.5 305.0 869.2 304.0C872.9 302.9 877.0 302.0 880.6 301.3C884.2 300.6 887.9 299.9 890.8 299.6C893.7 299.2 896.1 299.1 898.1 299.0C900.1 298.8 902.0 298.9 902.8 298.9 M902.8 256.5C903.2 256.5 904.4 256.8 905.4 256.8C906.4 256.8 907.7 256.8 908.8 256.5C909.9 256.2 910.9 255.7 912.0 255.0C913.1 254.4 914.2 253.5 915.4 252.6C916.6 251.7 918.1 250.8 919.4 249.8C920.7 248.7 922.2 247.5 923.2 246.5C924.2 245.4 924.6 244.7 925.5 243.6C926.4 242.4 927.0 241.4 928.5 239.6C930.0 237.7 932.3 235.0 934.5 232.6C936.7 230.1 939.2 227.3 941.5 224.9C943.8 222.6 945.9 220.5 948.0 218.4C950.2 216.2 952.4 214.0 954.6 212.0C956.8 210.0 959.0 208.1 961.1 206.4C963.3 204.7 965.5 203.2 967.7 201.9C969.9 200.6 972.1 199.6 974.3 198.7C976.4 197.7 978.7 197.0 980.8 196.3C982.9 195.6 984.7 195.0 986.8 194.5C989.0 194.0 990.8 193.6 993.8 193.3C996.8 193.0 1001.4 192.9 1004.8 192.7C1008.2 192.6 1012.6 192.5 1014.2 192.5 M902.8 272.5C903.6 272.3 905.6 271.9 907.3 271.3C909.0 270.8 911.2 270.1 912.8 269.3C914.4 268.5 915.5 267.4 916.8 266.3C918.1 265.1 919.4 263.7 920.6 262.2C921.8 260.7 922.9 259.2 924.2 257.3C925.5 255.5 926.8 253.6 928.5 251.2C930.2 248.7 932.5 245.5 934.7 242.4C936.8 239.4 939.3 236.0 941.5 233.1C943.7 230.2 945.9 227.2 948.0 224.8C950.2 222.3 952.4 220.1 954.6 218.2C956.8 216.4 959.0 215.1 961.1 213.7C963.3 212.4 965.5 211.3 967.7 210.2C969.9 209.1 972.1 208.1 974.3 207.2C976.4 206.3 978.7 205.4 980.8 204.7C982.9 204.0 984.7 203.4 986.8 202.8C989.0 202.3 990.8 201.8 993.8 201.3C996.8 200.8 1001.4 200.3 1004.8 199.9C1008.2 199.6 1012.6 199.2 1014.2 199.0 M902.8 292.0C903.5 291.5 905.4 290.3 906.9 289.1C908.4 287.9 910.4 286.4 911.8 284.7C913.2 283.0 914.0 281.0 915.1 279.1C916.2 277.1 917.3 274.9 918.4 272.9C919.5 270.9 920.6 268.8 921.6 266.9C922.7 264.9 923.8 262.9 924.9 261.2C926.0 259.5 927.2 258.0 928.2 256.5C929.1 255.1 929.9 253.8 930.8 252.5C931.7 251.2 932.5 250.0 933.4 249.0C934.3 247.9 935.2 246.8 936.0 246.0C936.8 245.2 937.4 244.6 938.3 243.9C939.2 243.2 939.9 242.7 941.5 241.6C943.1 240.5 945.6 238.8 947.8 237.4C950.0 236.0 952.6 234.2 954.6 233.3C956.6 232.4 958.4 232.3 960.1 232.1C961.9 231.8 963.5 231.7 965.1 231.8C966.7 231.8 968.0 232.0 969.5 232.3C971.0 232.7 972.4 233.2 974.2 234.0C976.0 234.9 978.3 236.4 980.5 237.7C982.7 239.0 985.1 240.6 987.3 241.9C989.5 243.3 991.6 244.5 993.8 245.7C996.0 246.9 998.0 248.0 1000.4 248.9C1002.8 249.8 1005.8 250.5 1008.1 251.0C1010.4 251.6 1013.2 252.0 1014.2 252.2 M902.8 278.2C903.5 278.6 905.2 279.6 906.7 280.5C908.2 281.4 910.3 282.7 912.0 283.7C913.7 284.7 914.9 285.5 916.7 286.6C918.6 287.7 920.3 288.6 923.0 290.2C925.7 291.8 929.5 294.2 933.1 296.3C936.7 298.4 940.9 300.9 944.6 302.8C948.3 304.7 951.8 306.2 955.4 307.6C958.9 309.0 962.6 310.2 966.1 311.3C969.6 312.3 973.0 313.1 976.6 313.8C980.2 314.5 983.4 315.0 987.7 315.4C992.0 315.9 997.9 316.1 1002.3 316.2C1006.7 316.4 1012.2 316.5 1014.2 316.5 M902.8 298.9C904.4 299.5 908.6 301.1 912.3 302.6C916.0 304.1 920.8 305.9 925.0 307.8C929.2 309.7 933.2 312.0 937.3 313.9C941.5 315.7 945.8 317.7 950.0 319.1C954.2 320.6 958.3 321.7 962.5 322.7C966.7 323.8 970.7 324.7 975.0 325.5C979.3 326.3 984.0 326.9 988.2 327.5C992.3 328.0 996.6 328.5 1000.0 328.8C1003.4 329.2 1006.3 329.4 1008.7 329.6C1011.0 329.8 1013.3 329.9 1014.2 330.0 M902.8 305.5C903.2 306.0 904.3 307.2 905.2 308.4C906.1 309.7 907.3 311.2 908.3 313.1C909.3 315.0 910.0 317.3 911.0 319.6C911.9 322.0 913.0 324.7 914.0 327.0C915.0 329.3 915.8 331.1 916.9 333.4C917.9 335.8 918.7 337.9 920.1 341.1C921.5 344.3 923.4 348.9 925.1 352.9C926.7 356.8 928.7 361.5 930.0 364.8C931.3 368.1 932.0 370.4 932.9 372.9C933.8 375.4 934.5 377.5 935.5 380.0C936.5 382.5 937.9 385.1 939.1 387.7C940.4 390.3 941.8 392.9 943.0 395.5C944.2 398.1 945.3 400.2 946.6 403.0C947.8 405.7 949.0 408.3 950.5 412.0C952.0 415.7 953.7 420.7 955.5 425.4C957.2 430.1 959.1 435.3 961.0 440.0C962.9 444.7 964.8 449.1 966.9 453.7C969.1 458.3 971.6 463.3 973.9 467.5C976.2 471.7 978.5 475.6 980.8 479.2C983.1 482.8 985.5 486.1 987.7 489.1C989.9 492.1 991.8 494.7 993.9 497.0C995.9 499.4 997.7 501.4 1000.0 503.2C1002.3 504.9 1005.5 506.5 1007.9 507.7C1010.2 508.9 1013.1 510.0 1014.2 510.5"/>
<path stroke="#f88e52" d="M173.6 143.8C174.8 143.8 178.1 143.7 180.9 143.6C183.6 143.5 187.2 143.5 190.0 143.3C192.8 143.1 195.0 142.9 197.5 142.5C200.0 142.2 202.4 141.7 205.0 141.2C207.6 140.6 210.3 139.8 212.9 139.3C215.6 138.9 218.3 138.5 221.0 138.5C223.7 138.4 226.2 138.7 228.9 139.1C231.5 139.4 234.2 140.0 237.0 140.6C239.8 141.3 242.4 142.0 245.4 142.7C248.4 143.5 251.4 144.1 255.0 145.0C258.6 145.9 262.9 147.0 267.1 147.9C271.2 148.8 275.8 149.8 280.0 150.4C284.2 151.0 288.3 151.2 292.5 151.5C296.6 151.8 300.5 151.9 305.0 152.0C309.5 152.2 315.0 152.2 319.3 152.2C323.5 152.2 328.5 152.1 330.4 152.1 M173.6 164.8C175.6 164.8 181.1 164.7 185.5 164.7C189.9 164.7 195.8 164.6 200.0 164.6C204.2 164.5 207.5 164.5 211.0 164.4C214.5 164.3 217.7 164.2 221.0 164.1C224.3 163.9 227.7 163.7 230.9 163.4C234.0 163.1 237.2 162.9 240.0 162.5C242.8 162.2 245.4 161.9 247.9 161.6C250.4 161.2 252.7 160.8 255.0 160.5C257.3 160.1 259.5 159.7 261.7 159.3C263.9 158.9 265.9 158.5 268.0 158.1C270.1 157.6 272.1 157.2 274.1 156.8C276.1 156.5 278.0 156.3 280.0 155.9C282.0 155.6 283.9 155.1 285.9 154.7C287.9 154.3 290.0 154.0 292.0 153.7C294.0 153.4 295.5 153.3 297.7 153.1C299.8 152.9 301.5 152.8 305.0 152.7C308.5 152.6 314.3 152.4 318.5 152.3C322.7 152.3 328.4 152.2 330.4 152.1 M173.6 190.9C176.0 190.8 182.9 190.7 188.0 190.7C193.1 190.7 200.1 190.8 204.0 190.9C207.9 191.0 209.4 191.0 211.6 191.2C213.8 191.4 215.1 191.9 217.0 192.1C218.9 192.2 221.0 191.7 223.2 191.9C225.3 192.2 227.4 192.5 230.0 193.5C232.6 194.5 235.8 196.4 238.9 198.0C242.0 199.5 245.4 201.4 248.6 202.8C251.8 204.2 254.8 205.1 257.9 206.2C261.0 207.3 264.1 208.2 267.2 209.3C270.3 210.3 273.4 211.4 276.5 212.5C279.6 213.6 282.7 214.6 285.8 215.7C288.9 216.8 292.3 218.1 295.3 219.2C298.4 220.3 301.6 221.4 304.3 222.2C307.0 223.0 309.4 223.5 311.7 224.0C314.0 224.4 316.0 224.7 318.3 225.0C320.6 225.2 323.2 225.3 325.2 225.4C327.2 225.5 329.5 225.4 330.4 225.5 M173.6 212.5C174.5 212.4 177.0 212.2 178.8 212.0C180.6 211.7 183.2 211.5 184.6 211.1C186.0 210.6 186.6 210.1 187.4 209.5C188.2 209.0 188.7 208.3 189.5 207.7C190.3 207.0 191.1 206.3 192.0 205.6C192.8 204.9 193.6 204.1 194.4 203.4C195.2 202.7 196.0 201.9 196.8 201.2C197.6 200.5 198.4 199.8 199.2 199.1C200.0 198.5 200.8 197.9 201.6 197.3C202.5 196.8 203.3 196.2 204.1 195.9C204.9 195.5 205.7 195.3 206.5 195.2C207.4 195.0 208.2 194.9 209.0 194.9C209.8 194.9 210.5 194.9 211.4 195.0C212.2 195.2 213.0 195.4 214.0 195.8C215.0 196.1 216.1 196.6 217.2 197.2C218.4 197.8 219.7 198.6 221.0 199.3C222.3 200.0 223.8 200.6 225.3 201.3C226.8 202.1 228.4 202.9 230.0 203.7C231.6 204.5 233.4 205.4 235.0 206.2C236.7 207.1 238.5 208.0 240.0 208.8C241.5 209.7 242.6 210.4 244.1 211.3C245.5 212.1 246.7 212.9 248.6 214.2C250.5 215.4 252.9 217.2 255.2 218.7C257.5 220.3 260.2 222.1 262.5 223.3C264.8 224.5 266.9 225.1 269.2 225.9C271.5 226.7 273.7 227.3 276.5 228.0C279.3 228.7 282.7 229.6 285.8 230.2C288.8 230.7 292.3 231.1 295.0 231.4C297.7 231.7 299.5 231.9 301.8 232.0C304.2 232.2 305.9 232.3 309.0 232.3C312.1 232.3 317.0 232.2 320.6 232.1C324.1 232.0 328.8 231.8 330.4 231.8 M173.6 218.4C178.1 218.4 191.0 218.3 200.4 218.4C209.8 218.4 222.7 218.7 230.0 218.7C237.3 218.8 240.3 218.6 244.2 218.8C248.0 218.9 250.3 219.1 253.0 219.5C255.7 219.9 257.9 220.5 260.3 221.2C262.6 222.0 264.3 222.7 267.0 223.8C269.7 224.8 273.3 226.2 276.4 227.5C279.5 228.7 283.0 230.1 285.8 231.1C288.6 232.2 290.7 233.0 293.0 233.7C295.3 234.4 297.4 235.1 299.6 235.5C301.8 235.9 304.1 236.0 306.4 236.2C308.7 236.4 310.9 236.4 313.6 236.4C316.3 236.5 320.1 236.6 322.9 236.6C325.7 236.7 329.1 236.7 330.4 236.7 M173.6 243.7C175.6 243.5 181.3 242.8 185.8 242.4C190.3 242.1 196.3 241.6 200.5 241.7C204.7 241.8 207.9 242.4 211.3 243.1C214.7 243.7 217.8 244.6 220.8 245.6C223.8 246.6 226.6 247.8 229.5 249.0C232.3 250.3 234.9 251.7 237.7 253.0C240.5 254.2 243.7 255.6 246.5 256.8C249.4 258.1 252.3 259.4 254.7 260.5C257.1 261.5 258.9 262.3 260.8 263.0C262.8 263.8 264.5 264.4 266.5 265.1C268.5 265.8 270.7 266.4 272.9 267.1C275.2 267.8 277.4 268.4 280.0 269.1C282.6 269.7 285.4 270.3 288.3 270.9C291.1 271.4 294.1 272.1 297.0 272.5C299.9 272.8 302.7 272.7 305.5 272.8C308.4 272.9 311.0 273.0 314.0 273.0C317.0 273.1 320.5 273.1 323.3 273.1C326.0 273.1 329.2 273.0 330.4 273.0 M173.6 253.0C175.2 253.4 179.8 254.5 183.4 255.5C187.1 256.4 191.9 257.6 195.4 258.7C198.9 259.7 201.5 260.8 204.4 261.8C207.2 262.8 209.9 263.8 212.3 264.5C214.7 265.2 216.6 265.7 218.9 266.1C221.2 266.4 223.1 266.6 225.9 266.7C228.7 266.8 232.4 266.8 235.7 266.6C239.1 266.5 242.9 266.3 246.2 265.9C249.5 265.5 252.7 264.8 255.8 264.4C258.9 264.0 262.0 263.8 264.8 263.3C267.6 262.9 270.0 262.4 272.5 261.6C275.0 260.8 277.3 259.7 280.0 258.4C282.7 257.0 285.8 255.3 288.6 253.6C291.4 251.9 294.4 250.1 297.0 248.4C299.6 246.7 302.0 244.9 304.3 243.4C306.5 241.9 308.7 240.4 310.6 239.4C312.5 238.5 313.9 238.1 315.5 237.7C317.1 237.3 318.3 237.3 320.0 237.1C321.7 236.9 324.1 236.8 325.8 236.7C327.5 236.7 329.6 236.7 330.4 236.7 M173.6 297.1C174.8 297.0 178.2 296.8 180.9 296.6C183.7 296.4 187.2 296.2 190.0 296.0C192.8 295.7 195.3 295.3 197.6 295.0C199.9 294.8 202.2 294.5 203.9 294.5C205.6 294.5 206.6 294.8 207.6 295.2C208.6 295.5 209.2 296.0 210.0 296.5C210.8 296.9 211.4 297.3 212.1 297.9C212.7 298.5 213.3 299.1 214.0 299.9C214.7 300.7 215.5 301.7 216.4 302.9C217.3 304.0 218.3 305.3 219.4 306.8C220.5 308.4 221.8 310.2 223.0 312.1C224.3 314.0 225.7 316.2 226.9 318.0C228.0 319.8 228.7 320.7 229.8 322.7C230.9 324.7 231.9 326.4 233.7 330.0C235.4 333.6 237.9 339.2 240.3 344.4C242.7 349.7 245.5 355.9 248.0 361.5C250.5 367.1 253.0 372.2 255.5 377.8C258.0 383.2 260.5 388.7 263.0 394.5C265.6 400.3 268.3 406.5 270.8 412.4C273.3 418.3 275.9 424.4 278.1 430.0C280.3 435.6 282.0 440.7 283.9 445.8C285.9 451.0 287.5 455.8 289.6 461.0C291.7 466.2 294.1 471.9 296.3 476.9C298.6 481.9 300.9 486.9 303.1 490.8C305.3 494.7 307.3 497.5 309.3 500.2C311.3 502.8 313.2 505.0 314.9 506.7C316.6 508.4 317.9 509.6 319.3 510.6C320.6 511.6 321.8 512.2 323.1 512.8C324.5 513.3 326.0 513.7 327.2 514.0C328.5 514.3 329.9 514.5 330.4 514.5 M173.6 496.2C174.1 496.1 175.5 496.0 176.8 495.6C178.0 495.2 179.6 494.8 181.0 493.8C182.4 492.8 183.7 491.2 185.1 489.5C186.5 487.8 188.0 485.5 189.5 483.5C191.0 481.5 192.4 479.8 194.1 477.6C195.8 475.3 197.6 472.9 199.7 470.0C201.8 467.1 203.9 464.4 206.5 459.9C209.2 455.4 211.8 451.3 215.7 443.0C219.6 434.7 225.4 421.0 230.2 409.9C235.0 398.7 240.7 385.0 244.5 376.0C248.3 367.0 250.8 361.6 253.2 356.1C255.6 350.6 257.5 346.5 259.0 343.0C260.5 339.5 261.5 337.4 262.4 335.2C263.3 333.0 263.8 331.9 264.4 330.0C265.0 328.1 265.6 326.0 266.2 324.0C266.8 322.0 267.3 320.1 268.2 318.0C269.1 315.9 270.3 313.6 271.4 311.4C272.5 309.2 273.9 306.9 275.0 305.0C276.1 303.1 277.1 301.5 278.2 299.7C279.3 298.0 280.4 296.5 281.8 294.4C283.2 292.3 285.1 289.5 286.8 287.3C288.5 285.0 290.5 282.4 292.0 280.8C293.5 279.2 294.6 278.3 296.0 277.5C297.4 276.6 298.6 276.1 300.4 275.5C302.2 275.0 304.4 274.6 306.7 274.3C309.0 274.0 311.4 273.8 314.0 273.7C316.6 273.6 319.4 273.8 322.1 273.9C324.9 274.0 327.8 274.3 330.4 274.3C333.0 274.3 335.4 274.0 337.9 273.8C340.3 273.7 342.5 273.4 345.0 273.3C347.5 273.2 350.5 273.2 352.9 273.1C355.2 273.1 357.9 273.0 358.9 273.0 M173.6 509.4C174.4 509.1 176.7 508.7 178.5 507.9C180.3 507.2 182.7 506.4 184.6 504.9C186.5 503.4 188.1 501.2 189.7 499.0C191.3 496.8 192.9 494.1 194.4 491.7C195.9 489.2 197.3 486.7 198.6 484.5C199.9 482.2 201.3 479.5 202.2 478.0C203.1 476.4 203.2 476.5 203.9 475.2C204.6 474.0 205.1 473.0 206.5 470.5C207.9 468.0 209.9 464.9 212.3 460.3C214.7 455.7 217.3 451.4 221.0 443.0C224.7 434.6 230.0 421.0 234.5 409.9C239.0 398.7 244.3 385.0 248.0 376.0C251.7 367.0 254.2 361.6 256.6 356.1C259.0 350.6 261.0 346.5 262.5 343.0C264.0 339.5 264.8 337.2 265.6 335.1C266.5 332.9 266.8 331.7 267.5 330.0C268.2 328.3 268.9 326.7 269.6 325.0C270.4 323.3 271.1 321.9 272.0 320.0C272.9 318.1 274.1 315.9 275.2 313.7C276.4 311.5 277.7 309.2 279.0 307.0C280.3 304.8 281.8 302.4 283.3 300.3C284.8 298.1 286.4 295.9 288.0 294.0C289.6 292.1 291.1 290.4 292.8 288.8C294.4 287.2 296.2 285.8 298.0 284.5C299.8 283.2 301.6 282.0 303.7 281.1C305.8 280.1 307.8 279.2 310.6 278.6C313.4 278.0 317.1 277.6 320.4 277.4C323.7 277.1 327.5 277.0 330.4 277.0C333.3 277.0 335.6 277.1 338.1 277.4C340.5 277.6 342.5 277.9 345.0 278.3C347.5 278.7 350.5 279.4 352.9 280.0C355.2 280.5 357.9 281.2 358.9 281.5 M173.6 524.0C174.5 523.8 176.9 523.4 178.7 522.9C180.6 522.4 183.1 521.8 184.6 521.2C186.1 520.6 186.8 520.2 187.8 519.3C188.8 518.5 189.6 517.7 190.6 516.3C191.6 514.9 192.9 513.0 194.1 510.9C195.3 508.9 196.5 506.6 197.7 504.1C198.9 501.6 200.1 498.9 201.3 496.1C202.5 493.4 203.8 490.3 205.0 487.5C206.1 484.7 207.0 482.3 208.2 479.4C209.4 476.5 210.6 473.3 212.1 470.0C213.7 466.7 215.3 464.1 217.4 459.6C219.6 455.1 221.6 451.3 225.1 443.0C228.5 434.7 233.8 421.0 238.2 409.9C242.6 398.7 247.9 385.0 251.6 376.0C255.3 367.0 257.9 361.6 260.4 356.1C262.9 350.6 265.1 346.5 266.6 343.0C268.1 339.5 268.7 337.1 269.5 335.0C270.3 332.8 270.5 331.6 271.2 330.0C271.8 328.4 272.7 327.0 273.5 325.6C274.3 324.2 275.1 323.0 276.1 321.4C277.0 319.8 278.1 317.6 279.2 315.7C280.3 313.8 281.5 311.7 282.5 310.1C283.6 308.4 284.4 307.3 285.4 305.8C286.5 304.4 287.5 303.2 288.8 301.4C290.2 299.7 291.8 297.2 293.5 295.2C295.1 293.2 297.0 290.9 298.7 289.2C300.5 287.5 302.1 286.2 304.1 285.1C306.0 283.9 307.7 282.9 310.6 282.2C313.5 281.5 317.9 281.0 321.2 280.6C324.5 280.3 328.9 280.1 330.4 279.9 M173.6 523.1C177.0 523.0 186.2 522.5 194.0 522.1C201.9 521.7 212.1 521.0 220.8 520.5C229.5 520.0 238.0 519.6 246.5 519.2C255.0 518.7 263.5 518.3 271.6 517.9C279.7 517.5 287.9 517.1 294.9 516.7C302.0 516.4 309.0 516.0 314.0 515.8C319.0 515.5 322.1 515.3 324.9 515.1C327.6 514.9 329.5 514.8 330.4 514.7 M330.4 152.1C339.6 152.1 367.2 152.0 385.6 151.9C404.0 151.8 431.6 151.7 440.8 151.7 M330.4 225.5C331.9 225.3 336.0 224.9 339.3 224.4C342.7 224.0 347.1 223.4 350.4 222.6C353.7 221.8 356.2 220.8 359.0 219.7C361.9 218.7 364.5 217.4 367.3 216.3C370.1 215.2 373.0 214.0 375.8 212.8C378.6 211.7 381.5 210.5 384.3 209.5C387.1 208.5 389.9 207.6 392.8 206.8C395.6 206.0 398.4 205.2 401.2 204.5C404.0 203.8 406.5 203.2 409.3 202.6C412.1 202.0 414.6 201.5 418.1 201.1C421.6 200.7 426.7 200.3 430.5 200.0C434.3 199.8 439.1 199.5 440.8 199.4 M330.4 236.7C331.9 236.9 336.0 237.5 339.3 238.2C342.7 238.9 347.1 239.7 350.4 240.8C353.7 242.0 356.2 243.4 359.0 245.0C361.9 246.5 364.5 248.3 367.3 250.1C370.1 252.0 373.0 254.0 375.8 255.9C378.6 257.9 381.5 260.0 384.3 262.1C387.1 264.1 389.9 266.1 392.8 268.1C395.6 270.0 398.3 272.0 401.2 273.9C404.1 275.9 407.1 278.0 410.0 279.9C412.8 281.7 415.7 283.5 418.1 284.8C420.5 286.1 422.4 286.9 424.4 287.7C426.4 288.5 428.0 289.0 430.0 289.5C432.0 290.1 434.3 290.7 436.1 291.1C437.9 291.5 440.0 291.9 440.8 292.1 M330.4 273.0C331.5 272.9 334.4 272.7 336.8 272.5C339.3 272.3 342.5 272.1 345.0 272.0C347.5 271.9 349.5 271.8 351.8 271.9C354.1 272.0 356.3 272.1 358.9 272.5C361.5 273.0 364.3 273.7 367.2 274.6C370.0 275.5 373.0 276.5 375.8 277.8C378.6 279.1 381.4 280.9 384.2 282.6C387.1 284.3 389.9 286.2 392.7 288.2C395.5 290.3 398.4 292.7 401.2 294.8C404.0 297.0 406.8 299.4 409.7 301.3C412.6 303.2 415.5 304.6 418.3 306.1C421.1 307.5 423.9 308.8 426.6 310.0C429.3 311.2 432.4 312.4 434.8 313.3C437.1 314.3 439.8 315.2 440.8 315.6 M330.4 279.9C331.5 279.9 334.4 279.9 336.8 280.0C339.3 280.0 342.5 280.2 345.0 280.3C347.5 280.5 349.5 280.5 351.8 280.9C354.1 281.3 356.4 281.7 358.9 282.5C361.4 283.3 364.2 284.3 367.0 285.7C369.8 287.0 372.7 288.6 375.8 290.6C378.9 292.6 382.2 295.2 385.4 297.8C388.7 300.4 392.1 303.3 395.1 306.1C398.1 308.9 400.9 311.5 403.7 314.6C406.5 317.6 409.1 320.7 412.0 324.4C414.9 328.0 418.0 332.6 420.8 336.6C423.7 340.5 426.5 344.8 429.0 348.2C431.5 351.6 434.0 354.5 436.0 356.9C437.9 359.3 440.0 361.6 440.8 362.6 M330.4 514.5C331.1 514.5 332.9 514.5 334.4 514.4C335.9 514.3 337.8 514.2 339.3 513.9C340.8 513.7 341.8 513.3 343.1 512.9C344.4 512.4 345.7 511.8 347.0 511.2C348.3 510.6 349.5 510.3 351.1 509.4C352.6 508.5 354.1 507.7 356.3 505.9C358.5 504.1 361.7 501.5 364.5 498.8C367.3 496.0 370.6 492.9 373.2 489.5C375.8 486.1 378.0 482.4 380.3 478.5C382.6 474.7 384.7 470.6 387.0 466.6C389.3 462.5 391.8 458.4 394.2 454.3C396.5 450.1 399.0 445.8 401.2 441.7C403.4 437.5 405.5 433.5 407.6 429.4C409.7 425.2 411.8 421.2 414.0 416.7C416.2 412.3 418.7 407.5 421.0 402.8C423.3 398.1 425.6 393.5 428.0 388.8C430.4 384.1 433.1 378.6 435.3 374.3C437.4 370.1 439.9 365.2 440.8 363.4 M440.8 150.9C442.3 150.3 446.3 148.9 449.6 147.7C452.9 146.6 457.2 145.0 460.5 143.9C463.8 142.7 466.3 141.8 469.1 140.9C471.9 139.9 474.6 139.0 477.4 138.3C480.2 137.6 483.0 137.1 485.8 136.6C488.7 136.2 491.5 135.9 494.3 135.9C497.1 135.9 500.0 136.2 502.8 136.6C505.6 136.9 508.5 137.3 511.3 138.0C514.1 138.7 516.6 139.8 519.4 140.7C522.2 141.5 524.6 142.7 528.2 143.3C531.8 143.9 536.9 143.9 540.8 144.1C544.6 144.3 549.5 144.5 551.2 144.6 M440.8 151.7C442.3 152.0 446.3 153.1 449.6 154.0C452.9 154.8 457.2 155.9 460.5 156.7C463.8 157.6 466.3 158.2 469.1 158.9C471.9 159.5 474.6 160.1 477.4 160.6C480.2 161.1 483.0 161.4 485.8 161.8C488.7 162.1 491.7 162.3 494.3 162.6C496.9 162.9 498.5 163.1 501.4 163.4C504.2 163.6 506.1 163.8 511.3 164.0C516.5 164.2 525.7 164.4 532.3 164.6C539.0 164.8 548.1 165.0 551.2 165.0 M440.8 199.4C442.3 199.2 446.3 198.6 449.6 198.2C452.9 197.7 457.2 197.2 460.5 196.8C463.8 196.4 466.3 196.2 469.1 196.0C471.9 195.9 474.6 195.8 477.4 196.0C480.2 196.2 483.0 196.7 485.8 197.2C488.7 197.7 491.5 198.4 494.3 199.0C497.1 199.7 500.0 200.3 502.8 201.0C505.6 201.8 508.5 202.5 511.3 203.3C514.1 204.2 516.6 205.3 519.4 206.2C522.2 207.2 524.6 208.1 528.2 209.0C531.8 209.9 536.9 210.8 540.8 211.5C544.6 212.2 549.5 212.9 551.2 213.2 M440.8 199.4C442.3 199.8 446.3 201.0 449.6 201.7C452.9 202.5 457.2 203.6 460.5 204.1C463.8 204.6 466.7 204.6 469.5 204.7C472.4 204.8 475.1 204.8 477.4 204.7C479.7 204.6 481.4 204.2 483.1 204.0C484.8 203.9 486.4 203.7 487.6 203.7C488.8 203.6 489.4 203.5 490.5 203.6C491.6 203.8 492.4 204.0 494.3 204.6C496.2 205.2 499.3 206.2 502.2 207.2C505.0 208.2 508.4 209.4 511.3 210.5C514.2 211.6 516.6 212.7 519.4 213.8C522.2 214.8 524.6 215.9 528.2 216.8C531.8 217.7 536.9 218.6 540.8 219.3C544.6 220.0 549.5 220.7 551.2 221.0 M440.8 291.8C441.2 291.2 442.3 289.6 443.3 287.8C444.3 286.1 445.5 284.0 446.8 281.5C448.1 279.0 449.4 275.9 450.8 272.8C452.2 269.7 453.8 266.1 455.2 262.8C456.6 259.6 458.0 256.4 459.4 253.3C460.8 250.2 462.2 247.1 463.6 244.2C465.0 241.3 466.3 238.6 467.7 235.9C469.1 233.1 470.4 230.5 472.0 227.9C473.6 225.2 475.4 222.4 477.1 219.9C478.9 217.4 480.7 215.0 482.5 212.8C484.3 210.6 486.0 208.6 487.8 206.8C489.5 205.0 491.2 203.3 493.0 201.8C494.8 200.3 496.5 198.9 498.2 197.8C500.0 196.6 501.8 195.5 503.5 194.6C505.2 193.8 507.0 193.2 508.8 192.7C510.5 192.1 512.4 191.8 514.0 191.6C515.6 191.3 516.5 191.1 518.2 190.9C520.0 190.8 521.1 190.7 524.5 190.6C527.9 190.6 534.1 190.7 538.5 190.8C543.0 190.9 549.1 191.1 551.2 191.2 M440.8 315.6C441.0 315.1 441.6 314.0 442.1 312.9C442.6 311.9 443.3 310.5 443.9 309.2C444.6 307.8 445.2 306.3 445.9 304.8C446.6 303.3 447.3 301.6 448.0 300.0C448.8 298.4 449.5 296.9 450.2 295.4C451.0 293.8 451.7 292.3 452.5 290.7C453.3 289.1 454.1 287.4 454.9 285.7C455.8 284.0 456.6 282.2 457.5 280.4C458.4 278.6 459.4 276.6 460.3 274.8C461.2 273.0 462.1 271.1 463.0 269.5C463.9 267.9 464.7 266.5 465.5 265.1C466.4 263.8 467.2 262.5 468.0 261.2C468.8 259.9 469.5 258.7 470.4 257.5C471.3 256.3 472.1 255.2 473.4 253.8C474.7 252.4 476.4 250.7 478.1 249.3C479.7 247.8 481.6 246.3 483.3 245.1C485.0 243.9 486.6 243.1 488.3 242.2C489.9 241.4 491.6 240.7 493.3 240.2C494.9 239.6 496.6 239.3 498.3 238.9C500.0 238.6 501.8 238.4 503.5 238.3C505.2 238.1 507.0 238.0 508.8 238.0C510.5 238.0 512.2 238.1 514.0 238.3C515.8 238.5 517.5 238.8 519.2 239.1C521.0 239.5 522.8 239.9 524.5 240.4C526.2 240.8 527.6 241.3 529.4 241.7C531.1 242.1 532.6 242.6 535.0 243.0C537.4 243.3 541.1 243.5 543.8 243.7C546.5 243.9 550.0 244.1 551.2 244.2 M440.8 363.4C441.2 362.5 442.2 360.2 443.0 358.3C443.9 356.4 445.0 353.9 446.0 351.9C447.0 349.9 447.8 348.3 448.8 346.4C449.8 344.6 450.8 342.8 451.9 341.0C453.0 339.2 454.2 337.4 455.4 335.6C456.7 333.7 458.0 331.9 459.3 330.1C460.6 328.3 462.0 326.5 463.5 324.7C464.9 322.9 466.4 321.0 468.0 319.2C469.6 317.4 471.2 315.6 472.9 313.7C474.5 311.8 476.2 309.9 477.9 307.9C479.6 305.8 481.4 303.5 483.0 301.4C484.6 299.3 486.3 297.0 487.5 295.4C488.7 293.8 489.3 293.0 490.2 291.7C491.1 290.5 491.7 289.7 493.0 288.0C494.3 286.4 496.2 284.0 497.9 281.9C499.7 279.8 501.7 277.4 503.5 275.4C505.3 273.4 507.0 271.5 508.8 269.8C510.5 268.0 512.2 266.3 514.0 264.8C515.8 263.3 517.5 261.9 519.2 260.7C521.0 259.5 522.8 258.4 524.5 257.4C526.2 256.5 527.6 255.7 529.4 255.0C531.1 254.3 532.6 253.8 535.0 253.4C537.4 253.0 541.1 252.8 543.8 252.6C546.5 252.4 550.0 252.3 551.2 252.3 M478.0 309.0C478.3 308.7 479.2 307.7 479.9 307.0C480.7 306.2 481.6 305.2 482.5 304.3C483.4 303.5 484.3 302.6 485.2 301.8C486.1 301.0 487.2 300.1 488.0 299.5C488.8 298.8 489.4 298.5 490.2 298.0C491.0 297.5 491.7 297.1 493.0 296.5C494.3 295.9 496.2 295.1 497.9 294.5C499.7 293.8 501.7 293.1 503.5 292.7C505.3 292.2 507.0 291.9 508.8 291.7C510.5 291.5 512.2 291.4 514.0 291.5C515.8 291.5 517.5 291.8 519.2 292.1C521.0 292.4 522.8 292.9 524.5 293.3C526.2 293.7 527.6 294.1 529.4 294.5C531.1 295.0 532.6 295.4 535.0 295.8C537.4 296.1 541.1 296.4 543.8 296.7C546.5 296.9 550.0 297.2 551.2 297.3 M440.8 292.1C441.1 292.8 442.1 294.8 442.9 296.4C443.7 298.0 444.7 300.2 445.5 301.8C446.3 303.4 446.9 304.7 447.7 306.1C448.4 307.5 449.2 308.7 450.0 310.2C450.8 311.6 451.8 313.4 452.7 314.9C453.7 316.4 454.7 317.8 455.6 319.1C456.5 320.3 457.4 321.3 458.3 322.1C459.2 322.9 460.1 323.6 461.0 323.9C461.9 324.2 462.8 324.0 463.6 323.8C464.4 323.6 465.2 323.3 466.0 322.6C466.8 322.0 467.6 320.8 468.3 320.0C469.0 319.1 469.7 317.9 470.0 317.5 M440.8 315.6C441.1 316.1 441.7 317.4 442.3 318.6C442.9 319.7 443.7 321.3 444.3 322.4C444.9 323.5 445.3 324.2 445.9 325.3C446.5 326.3 447.1 327.3 447.8 328.7C448.6 330.1 449.5 332.0 450.4 333.8C451.4 335.6 452.4 337.5 453.3 339.3C454.2 341.1 455.1 342.9 455.9 344.7C456.8 346.5 457.8 348.7 458.5 350.0C459.2 351.3 459.3 351.2 460.1 352.8C460.9 354.2 461.4 354.9 463.3 359.0C465.2 363.1 468.5 370.6 471.5 377.1C474.5 383.6 478.3 391.6 481.2 398.0C484.1 404.4 486.6 410.3 489.0 415.6C491.3 421.0 493.5 426.4 495.1 430.0C496.7 433.6 497.4 435.3 498.3 437.5C499.3 439.7 499.8 440.9 500.8 443.0C501.8 445.1 502.9 447.7 504.2 450.3C505.5 453.0 506.8 455.6 508.4 458.8C510.0 462.1 512.1 466.1 514.1 469.8C516.1 473.5 518.3 477.6 520.5 481.0C522.7 484.4 524.9 487.4 527.1 490.1C529.2 492.8 531.4 495.3 533.4 497.3C535.5 499.4 537.5 501.1 539.3 502.5C541.1 503.9 542.7 505.0 544.2 505.9C545.7 506.8 547.2 507.4 548.3 507.9C549.5 508.5 550.7 508.8 551.2 509.0 M464.0 343.0C464.3 343.4 465.1 344.4 465.8 345.4C466.6 346.4 467.6 347.9 468.5 349.0C469.4 350.1 469.9 350.3 471.0 351.9C472.2 353.6 473.1 354.8 475.3 359.0C477.5 363.2 481.1 370.6 484.2 377.1C487.3 383.6 491.1 391.6 493.9 398.0C496.7 404.4 498.9 410.3 501.0 415.6C503.1 421.0 505.0 426.3 506.5 430.0C508.0 433.7 509.1 435.6 510.2 437.7C511.3 439.9 512.1 441.1 513.0 443.0C513.9 444.9 514.6 447.1 515.4 449.2C516.3 451.2 517.0 453.2 518.0 455.4C519.0 457.6 520.3 460.0 521.6 462.2C522.9 464.5 524.2 466.8 525.6 469.0C527.0 471.2 528.3 473.1 529.7 475.2C531.1 477.2 532.6 479.3 534.0 481.3C535.4 483.3 536.8 485.2 538.2 487.0C539.6 488.7 541.0 490.4 542.5 491.7C544.0 493.0 545.9 494.0 547.4 494.8C548.8 495.6 550.6 496.2 551.2 496.5 M440.8 364.5C441.5 365.6 443.5 368.6 445.3 371.1C447.0 373.7 449.3 377.2 451.2 380.0C453.2 382.8 455.0 384.8 456.9 387.8C458.7 390.7 460.3 393.3 462.4 397.7C464.5 402.1 467.0 408.7 469.3 414.0C471.5 419.4 474.1 426.0 475.9 430.0C477.7 434.0 478.9 435.6 480.3 438.1C481.7 440.5 482.8 441.8 484.4 444.5C486.0 447.2 488.0 450.9 489.8 454.1C491.6 457.3 493.6 460.9 495.3 463.9C497.0 466.9 498.5 469.5 500.1 472.2C501.6 474.8 503.1 477.2 504.8 479.8C506.5 482.5 508.5 485.3 510.3 487.9C512.2 490.4 514.2 493.1 515.8 495.3C517.5 497.4 519.0 499.2 520.5 500.9C522.0 502.7 523.4 504.2 525.0 505.8C526.5 507.4 528.2 509.1 529.8 510.5C531.4 512.0 533.0 513.4 534.6 514.6C536.1 515.8 537.5 516.8 538.9 517.7C540.4 518.6 541.6 519.3 543.1 520.0C544.6 520.7 546.3 521.3 547.7 521.7C549.0 522.2 550.6 522.7 551.2 522.9 M551.2 144.6C552.1 144.7 554.4 144.6 556.5 144.9C558.6 145.1 561.3 145.4 563.9 146.1C566.5 146.8 569.3 147.9 572.1 149.1C574.9 150.4 577.9 151.8 580.8 153.5C583.7 155.2 586.4 157.4 589.2 159.4C592.1 161.5 594.8 163.8 597.7 166.0C600.6 168.2 603.6 170.5 606.4 172.6C609.2 174.7 612.1 176.9 614.7 178.6C617.3 180.4 619.8 181.9 622.1 183.1C624.3 184.4 626.5 185.5 628.2 186.2C629.9 187.0 631.3 187.3 632.4 187.6C633.6 187.8 634.6 187.9 635.0 187.9 M551.2 165.0C551.9 165.1 553.6 165.2 555.1 165.6C556.7 166.0 558.6 166.3 560.5 167.5C562.5 168.7 564.9 170.8 567.1 172.7C569.2 174.5 571.6 176.8 573.4 178.6C575.3 180.5 576.7 182.1 578.1 183.8C579.5 185.4 580.9 187.2 581.9 188.7C583.0 190.2 583.4 191.2 584.3 192.9C585.1 194.5 585.6 195.8 587.0 198.4C588.5 201.1 590.9 205.2 592.8 208.7C594.8 212.3 597.1 216.6 598.8 219.6C600.4 222.7 601.4 224.7 602.5 227.0C603.7 229.3 604.6 231.3 605.5 233.4C606.4 235.5 607.2 237.2 608.0 239.4C608.9 241.7 609.6 243.7 610.6 246.9C611.5 250.1 612.6 254.6 613.7 258.9C614.9 263.1 616.0 267.9 617.4 272.3C618.7 276.7 620.2 281.3 621.6 285.5C623.0 289.8 624.4 294.1 625.8 297.7C627.1 301.3 628.3 304.5 629.5 307.3C630.6 310.2 631.7 312.7 632.6 314.7C633.4 316.7 634.1 318.1 634.7 319.3C635.2 320.5 635.7 321.4 636.0 321.8 M551.2 191.2C553.6 191.3 560.5 191.9 565.4 192.2C570.4 192.5 577.3 192.7 580.8 192.9C584.3 193.0 585.0 193.0 586.5 193.1C588.0 193.3 588.5 193.5 590.0 193.7C591.5 193.9 593.8 194.1 595.8 194.3C597.8 194.5 599.9 194.8 602.0 194.8C604.1 194.9 606.3 195.0 608.5 194.9C610.6 194.9 612.8 194.8 614.7 194.5C616.6 194.3 618.3 194.0 620.0 193.6C621.7 193.2 623.2 192.7 625.0 192.1C626.8 191.6 629.0 190.8 630.6 190.2C632.3 189.5 634.3 188.7 635.0 188.4 M551.2 213.2C551.8 213.1 553.5 212.7 554.8 212.4C556.2 212.0 558.0 211.5 559.2 211.1C560.4 210.6 561.3 210.0 562.3 209.5C563.3 208.9 564.1 208.4 565.0 207.8C565.9 207.2 566.7 206.7 567.5 206.1C568.4 205.5 569.1 204.9 570.0 204.2C570.9 203.5 571.8 202.5 572.7 201.7C573.6 200.8 574.6 199.9 575.5 199.0C576.4 198.1 577.2 197.2 578.0 196.3C578.9 195.4 579.7 194.5 580.8 193.6C581.9 192.7 583.2 191.7 584.4 190.8C585.6 189.9 586.9 189.0 588.0 188.3C589.1 187.6 589.9 187.2 590.9 186.8C591.9 186.4 592.8 186.1 594.0 185.8C595.2 185.5 596.8 185.1 598.3 184.9C599.7 184.6 601.3 184.2 602.8 184.1C604.3 184.0 605.6 184.1 607.0 184.3C608.4 184.4 609.7 184.6 611.0 185.1C612.3 185.6 613.5 186.3 614.6 187.0C615.8 187.8 617.0 188.7 618.1 189.5C619.2 190.3 620.4 191.1 621.5 192.0C622.6 192.8 623.6 193.6 624.8 194.6C626.0 195.6 627.3 196.8 628.4 197.9C629.5 198.9 630.7 200.0 631.6 200.7C632.5 201.4 633.2 201.8 633.7 202.2C634.3 202.5 634.8 202.8 635.0 202.9 M551.2 252.3C552.8 252.1 557.4 251.7 560.9 251.3C564.4 250.9 569.2 250.3 572.3 249.7C575.4 249.1 577.4 248.4 579.7 247.6C581.9 246.8 583.8 245.9 585.9 244.8C588.0 243.8 590.2 242.4 592.2 241.2C594.2 240.0 596.4 238.8 598.0 237.7C599.7 236.7 600.8 236.0 602.1 235.0C603.4 233.9 604.4 233.0 605.6 231.7C606.8 230.4 608.1 228.7 609.3 227.1C610.6 225.5 611.8 223.7 613.1 222.0C614.4 220.3 615.8 218.5 617.1 216.8C618.4 215.1 619.8 213.4 621.1 212.0C622.5 210.6 623.9 209.4 625.2 208.3C626.5 207.2 627.6 206.2 628.8 205.5C630.0 204.8 631.3 204.2 632.3 203.8C633.4 203.4 634.6 203.0 635.0 202.9 M551.2 221.0C551.8 220.9 553.5 220.6 555.0 220.3C556.4 220.1 558.4 219.8 560.0 219.3C561.6 218.9 563.2 218.1 564.9 217.7C566.5 217.2 568.2 216.6 570.0 216.5C571.8 216.5 573.8 217.0 575.6 217.4C577.4 217.8 579.3 218.6 580.8 219.1C582.3 219.7 583.3 220.2 584.5 220.8C585.7 221.5 586.6 222.2 588.0 223.1C589.4 224.1 591.3 225.4 592.9 226.6C594.5 227.7 596.3 229.1 597.7 230.1C599.1 231.2 599.9 231.8 601.1 232.7C602.2 233.6 603.1 234.3 604.5 235.3C605.9 236.4 607.7 237.7 609.4 239.0C611.1 240.3 613.0 241.6 614.7 243.0C616.4 244.5 618.1 246.1 619.8 247.5C621.4 248.9 623.0 250.3 624.8 251.4C626.6 252.6 628.8 253.4 630.5 254.1C632.2 254.8 634.3 255.5 635.0 255.7 M551.2 244.2C552.8 244.3 557.4 244.7 560.9 245.1C564.4 245.5 569.2 246.1 572.3 246.6C575.4 247.1 577.4 247.5 579.7 248.2C581.9 248.8 583.8 249.5 585.9 250.4C588.0 251.4 590.1 252.5 592.1 253.7C594.1 255.0 596.2 256.4 598.0 258.0C599.8 259.6 601.3 261.4 602.9 263.3C604.5 265.2 605.9 267.2 607.3 269.3C608.8 271.4 610.2 273.5 611.6 275.7C613.0 278.0 614.4 280.5 615.8 283.0C617.2 285.5 618.6 288.2 620.0 290.8C621.4 293.5 622.8 296.2 624.2 299.0C625.7 301.8 627.4 305.1 628.8 307.9C630.2 310.6 631.7 313.5 632.7 315.5C633.8 317.5 634.4 318.6 635.0 319.7C635.5 320.7 635.9 321.4 636.1 321.8 M551.2 297.3C552.8 297.0 557.2 296.4 560.7 295.8C564.2 295.1 568.9 294.2 572.3 293.2C575.7 292.2 578.2 290.9 581.1 289.6C583.9 288.2 586.5 286.7 589.3 285.0C592.1 283.3 595.3 281.2 598.1 279.3C600.9 277.3 603.8 275.1 606.2 273.2C608.6 271.4 610.6 269.6 612.6 268.0C614.6 266.3 616.3 264.7 618.1 263.1C619.9 261.6 621.8 260.0 623.5 258.6C625.2 257.3 626.7 255.9 628.2 255.0C629.7 254.2 631.1 253.8 632.2 253.4C633.4 253.0 634.5 252.8 635.0 252.7 M551.2 496.5C552.2 496.4 554.8 496.3 556.9 496.0C559.0 495.7 561.8 495.5 563.9 494.6C566.0 493.8 567.6 492.5 569.3 491.0C571.0 489.6 572.7 487.8 574.0 486.1C575.3 484.4 576.3 482.7 577.3 480.7C578.4 478.7 579.2 476.7 580.4 474.0C581.6 471.3 583.0 467.8 584.4 464.7C585.8 461.6 587.4 457.8 588.6 455.4C589.8 453.0 590.4 452.4 591.5 450.3C592.5 448.3 593.3 447.1 594.8 443.0C596.4 438.9 598.7 431.9 600.8 425.7C602.8 419.6 605.3 412.0 607.1 406.2C608.9 400.4 610.2 395.7 611.8 390.7C613.3 385.6 614.6 381.1 616.3 375.7C618.1 370.3 620.3 363.8 622.2 358.4C624.2 353.1 626.4 347.3 628.1 343.5C629.7 339.7 631.1 337.6 632.3 335.6C633.5 333.6 634.5 332.3 635.0 331.7 M551.2 509.0C552.2 509.1 554.9 509.5 557.0 509.7C559.1 509.8 562.0 510.1 563.9 509.9C565.8 509.7 567.0 509.3 568.4 508.5C569.8 507.7 570.9 506.8 572.3 505.0C573.7 503.2 575.2 500.4 576.6 497.8C578.1 495.1 579.6 492.0 580.8 489.3C582.0 486.6 582.8 484.5 584.0 481.7C585.1 478.8 586.0 476.1 587.6 472.3C589.2 468.5 591.3 463.8 593.3 458.9C595.3 454.0 597.6 448.7 599.7 443.0C601.8 437.3 603.9 430.8 605.9 424.7C607.9 418.5 610.0 411.9 611.8 406.2C613.6 400.5 614.9 395.6 616.5 390.5C618.0 385.4 619.3 380.8 621.0 375.7C622.7 370.6 625.0 364.7 626.8 359.8C628.6 354.8 630.6 349.7 631.8 346.0C633.0 342.3 633.5 339.8 634.1 337.6C634.6 335.5 634.8 333.8 635.0 333.0 M551.2 522.9C551.9 522.8 553.8 522.9 555.3 522.7C556.9 522.5 558.9 522.2 560.5 521.6C562.1 521.0 563.4 520.1 564.8 519.2C566.2 518.3 567.6 517.4 569.0 516.2C570.4 515.1 571.9 513.5 573.3 512.3C574.7 511.1 576.1 509.7 577.4 509.0C578.7 508.3 579.7 508.3 580.9 508.1C582.2 507.9 583.4 507.8 585.0 507.7C586.6 507.5 588.1 507.3 590.2 507.2C592.4 507.1 594.3 507.0 597.7 507.0C601.1 506.9 606.2 506.9 610.5 506.8C614.7 506.8 619.7 506.7 623.1 506.7C626.5 506.6 628.7 506.5 630.6 506.4C632.6 506.3 634.3 506.2 635.0 506.2 M635.0 187.9C635.9 188.0 638.4 188.1 640.7 188.3C642.9 188.5 645.8 188.8 648.5 189.2C651.2 189.5 654.0 189.9 656.8 190.5C659.6 191.1 662.6 191.7 665.5 192.5C668.4 193.4 671.1 194.5 674.0 195.6C676.8 196.7 679.6 198.0 682.4 199.3C685.2 200.6 688.0 202.1 690.8 203.5C693.7 204.9 696.5 206.5 699.3 207.8C702.1 209.2 705.0 210.5 707.8 211.7C710.6 212.9 713.5 214.1 716.3 215.0C719.1 215.9 721.9 216.6 724.8 217.3C727.6 217.9 730.4 218.4 733.2 218.7C736.0 219.1 738.9 219.2 741.7 219.4C744.5 219.6 747.4 219.6 750.0 219.8C752.6 220.0 754.5 220.3 757.1 220.5C759.7 220.7 761.6 221.0 765.4 221.1C769.2 221.1 775.2 221.0 779.7 221.0C784.1 220.9 789.9 220.8 792.0 220.7 M635.0 202.9C635.9 203.1 638.4 203.4 640.7 203.9C642.9 204.4 645.8 205.0 648.5 206.0C651.2 206.9 654.2 208.2 657.1 209.4C659.9 210.7 663.0 212.2 665.5 213.6C668.0 215.0 670.0 216.5 672.1 217.9C674.1 219.3 676.1 220.8 678.0 222.2C679.9 223.7 681.7 225.1 683.7 226.4C685.7 227.8 687.5 229.1 690.0 230.3C692.5 231.5 695.6 232.6 698.6 233.6C701.6 234.6 704.9 235.5 708.0 236.4C711.1 237.3 714.2 238.2 717.2 239.0C720.2 239.7 723.3 240.4 726.0 240.9C728.7 241.4 731.1 241.7 733.5 241.9C735.9 242.1 738.2 242.1 740.4 241.9C742.6 241.7 744.4 241.4 746.5 240.7C748.6 240.0 750.4 239.2 753.0 237.8C755.6 236.4 759.2 234.2 762.2 232.5C765.2 230.8 768.7 228.9 771.0 227.7C773.3 226.5 774.4 226.1 775.9 225.5C777.4 224.9 778.2 224.6 780.0 224.2C781.8 223.7 784.6 223.1 786.6 222.6C788.6 222.2 791.1 221.7 792.0 221.5 M635.0 252.7C635.9 252.4 638.4 251.5 640.7 250.6C642.9 249.7 645.8 248.7 648.5 247.4C651.2 246.1 654.3 244.2 657.1 242.7C659.9 241.2 663.1 239.5 665.5 238.4C667.9 237.4 669.7 236.9 671.7 236.6C673.6 236.2 675.3 236.2 677.3 236.3C679.3 236.4 681.4 236.7 683.5 237.3C685.6 238.0 687.7 238.7 690.0 240.3C692.3 242.0 695.0 244.8 697.4 247.2C699.8 249.6 702.3 252.5 704.4 254.7C706.5 256.9 708.1 258.6 709.7 260.3C711.3 262.1 712.7 263.6 714.0 265.0C715.3 266.4 716.3 267.8 717.3 268.8C718.3 269.9 719.1 270.7 720.0 271.1C720.9 271.5 721.7 271.3 722.5 271.1C723.3 270.9 724.1 270.3 725.0 269.8C725.9 269.3 726.8 268.6 727.8 267.9C728.8 267.2 729.8 266.4 731.0 265.6C732.2 264.9 733.8 264.1 735.2 263.5C736.8 262.8 738.4 262.3 740.0 261.8C741.6 261.2 743.1 260.8 744.8 260.4C746.5 260.1 748.3 259.8 750.0 259.6C751.7 259.4 752.8 259.3 754.8 259.2C756.8 259.2 758.2 259.2 762.0 259.2C765.8 259.3 772.8 259.5 777.8 259.6C782.8 259.7 789.6 260.0 792.0 260.0 M635.0 255.7C635.9 255.4 638.4 254.6 640.7 253.7C642.9 252.8 645.8 251.9 648.5 250.6C651.2 249.3 654.3 247.4 657.1 246.0C659.9 244.5 662.9 242.7 665.5 241.7C668.1 240.7 670.5 240.4 672.5 240.0C674.4 239.7 676.5 239.6 677.3 239.5 M635.0 320.8C636.7 320.7 641.3 320.7 644.9 320.5C648.6 320.3 653.4 320.0 657.0 319.6C660.6 319.2 663.5 318.7 666.3 318.2C669.1 317.7 671.9 317.0 674.0 316.3C676.1 315.7 677.6 314.9 679.1 314.1C680.6 313.4 681.8 312.5 683.0 311.6C684.2 310.8 685.2 310.1 686.4 309.1C687.7 308.1 688.7 307.1 690.5 305.6C692.3 304.0 695.0 301.7 697.3 299.6C699.6 297.6 702.3 295.1 704.4 293.3C706.5 291.4 708.1 289.9 709.7 288.4C711.3 287.0 712.7 285.7 714.0 284.6C715.3 283.5 716.2 282.6 717.2 281.8C718.2 281.1 719.0 280.5 720.0 280.4C721.0 280.2 722.0 280.5 723.0 280.9C724.0 281.2 725.0 281.8 726.0 282.3C727.0 282.9 728.1 283.5 729.1 284.1C730.1 284.7 731.1 285.4 732.0 285.8C732.9 286.2 733.7 286.4 734.5 286.5C735.4 286.7 736.2 286.7 737.0 286.8C737.8 286.8 738.4 286.9 739.2 286.7C740.1 286.5 740.9 286.3 742.2 285.3C743.5 284.4 745.3 282.6 747.1 281.0C748.9 279.3 751.0 277.3 753.0 275.6C755.0 273.9 757.0 272.2 759.1 270.7C761.2 269.3 763.3 267.8 765.6 266.9C767.9 265.9 770.4 265.4 772.8 264.9C775.2 264.5 777.7 264.3 780.0 264.2C782.3 264.1 784.9 264.3 786.9 264.5C788.9 264.6 791.1 265.0 792.0 265.1 M635.0 330.8C637.3 330.5 643.6 329.6 648.7 328.8C653.8 328.0 660.5 327.0 665.5 326.0C670.5 325.0 674.4 323.7 678.5 322.8C682.6 321.8 686.5 320.8 690.0 320.1C693.5 319.4 696.4 319.2 699.4 318.8C702.4 318.5 705.0 318.3 708.0 318.1C711.0 317.9 714.7 317.7 717.7 317.5C720.7 317.3 723.9 317.1 726.0 316.7C728.1 316.3 729.0 315.5 730.2 314.9C731.4 314.4 732.0 313.7 733.2 313.3C734.4 312.8 736.0 312.5 737.5 312.2C739.0 312.0 740.6 311.9 742.2 311.9C743.8 312.0 745.2 312.2 747.0 312.5C748.8 312.8 750.6 313.1 753.0 313.7C755.4 314.3 758.4 315.4 761.4 316.2C764.4 317.0 767.5 318.1 771.0 318.7C774.5 319.3 779.1 319.6 782.6 319.9C786.1 320.2 790.4 320.3 792.0 320.4 M635.0 506.2C635.4 506.1 636.6 505.9 637.6 505.6C638.6 505.3 640.0 504.9 641.2 504.2C642.4 503.6 643.5 502.9 644.8 501.8C646.1 500.6 647.4 499.4 648.9 497.5C650.4 495.5 652.1 492.9 653.9 490.2C655.6 487.5 657.5 484.4 659.4 481.1C661.3 477.9 663.4 474.4 665.4 470.9C667.4 467.4 669.5 463.5 671.6 460.1C673.6 456.7 675.5 453.9 677.5 450.5C679.5 447.1 681.4 443.9 683.5 439.8C685.7 435.6 688.1 430.4 690.3 425.4C692.6 420.4 695.0 415.0 697.1 409.8C699.3 404.6 701.4 399.2 703.4 394.2C705.3 389.2 707.2 384.1 708.9 379.9C710.6 375.6 712.2 372.1 713.6 368.7C715.0 365.3 716.3 362.3 717.4 359.6C718.6 356.8 719.4 354.3 720.3 352.0C721.1 349.7 721.8 347.7 722.5 345.8C723.2 343.8 723.7 342.0 724.4 340.3C725.1 338.7 725.7 337.1 726.7 335.7C727.6 334.3 728.7 332.9 730.1 331.7C731.4 330.6 732.8 329.6 735.0 328.7C737.2 327.9 740.4 327.2 743.4 326.5C746.4 325.9 749.9 325.5 753.0 325.1C756.1 324.7 758.8 324.3 761.8 324.0C764.8 323.7 767.5 323.5 771.0 323.2C774.5 323.0 779.1 322.7 782.6 322.5C786.1 322.4 790.4 322.2 792.0 322.1 M792.0 220.7C793.1 220.7 796.2 220.5 798.8 220.5C801.4 220.5 804.8 220.4 807.7 220.9C810.6 221.3 813.3 222.2 816.1 223.1C819.0 224.1 821.9 225.2 824.7 226.4C827.5 227.7 830.3 229.0 833.2 230.4C836.0 231.9 838.8 233.4 841.6 234.9C844.4 236.5 847.2 238.1 850.0 239.7C852.9 241.3 855.7 242.9 858.5 244.4C861.3 245.9 864.2 247.3 867.0 248.6C869.8 249.9 872.6 251.2 875.5 252.3C878.4 253.5 881.5 254.6 884.4 255.5C887.2 256.4 890.0 257.2 892.4 257.8C894.8 258.4 896.9 258.6 898.7 258.9C900.4 259.1 902.1 259.2 902.8 259.3 M792.0 221.5C793.1 221.7 796.2 221.9 798.8 222.3C801.4 222.6 804.8 223.1 807.7 223.7C810.6 224.4 813.5 225.4 816.3 226.4C819.2 227.4 822.2 228.6 824.7 229.7C827.2 230.9 829.2 232.0 831.5 233.3C833.7 234.6 835.7 235.8 838.4 237.3C841.1 238.9 844.5 240.9 847.6 242.8C850.7 244.7 854.1 247.0 856.9 248.8C859.7 250.7 861.9 252.2 864.3 253.9C866.7 255.5 868.8 257.0 871.2 258.7C873.6 260.3 876.1 262.0 878.5 263.6C880.8 265.3 883.2 266.9 885.4 268.4C887.6 270.0 889.7 271.5 891.6 272.9C893.5 274.3 895.3 275.6 896.8 276.8C898.3 278.0 899.5 279.0 900.5 279.9C901.5 280.7 902.4 281.6 902.8 281.9 M792.0 260.0C794.5 259.8 801.8 259.2 807.3 258.9C812.7 258.5 820.2 258.2 824.7 257.9C829.2 257.7 831.3 257.2 834.1 257.4C837.0 257.6 838.9 258.3 841.6 258.9C844.3 259.5 847.2 260.3 850.0 261.0C852.9 261.8 855.7 262.6 858.5 263.5C861.3 264.3 864.2 265.3 867.0 266.2C869.8 267.0 872.6 267.9 875.5 268.5C878.4 269.1 881.5 269.5 884.4 269.7C887.2 270.0 890.0 270.2 892.4 270.2C894.8 270.1 896.9 269.7 898.7 269.4C900.4 269.1 902.1 268.5 902.8 268.4 M792.0 265.1C793.1 265.1 796.2 265.0 798.8 265.1C801.4 265.2 804.8 265.3 807.7 265.6C810.6 265.8 813.3 266.2 816.1 266.7C819.0 267.2 821.8 267.8 824.7 268.8C827.6 269.7 830.4 271.1 833.3 272.4C836.1 273.8 838.9 275.3 841.6 276.8C844.3 278.2 846.9 279.8 849.4 281.2C852.0 282.7 854.4 284.2 856.9 285.6C859.4 286.9 861.7 288.2 864.1 289.4C866.5 290.6 868.8 291.7 871.2 292.7C873.6 293.7 876.3 294.6 878.7 295.3C881.0 295.9 883.5 296.3 885.4 296.6C887.3 296.8 888.6 296.9 890.0 296.8C891.5 296.8 892.5 296.7 894.0 296.2C895.5 295.8 897.5 294.8 898.9 294.1C900.4 293.4 902.2 292.3 902.8 292.0 M792.0 321.4C794.6 321.4 802.1 321.5 807.8 321.4C813.5 321.2 821.2 321.2 826.2 320.7C831.2 320.2 834.2 319.3 837.7 318.4C841.3 317.5 844.2 316.4 847.7 315.2C851.2 314.0 854.9 312.6 858.4 311.3C862.0 310.1 865.5 308.6 869.2 307.6C872.9 306.5 877.0 305.7 880.6 305.0C884.2 304.2 887.9 303.6 890.8 303.2C893.7 302.9 896.1 302.8 898.1 302.7C900.1 302.6 902.0 302.6 902.8 302.6 M902.8 259.3C903.2 259.3 904.4 259.4 905.4 259.4C906.4 259.3 907.7 259.2 908.8 258.9C909.9 258.5 910.9 257.9 912.0 257.1C913.1 256.4 914.2 255.5 915.4 254.4C916.6 253.4 918.1 252.1 919.4 250.8C920.7 249.5 922.2 248.0 923.2 246.8C924.2 245.6 924.6 244.8 925.5 243.5C926.4 242.3 927.0 241.2 928.5 239.2C930.0 237.2 932.3 234.3 934.5 231.6C936.7 229.0 939.2 225.9 941.5 223.3C943.8 220.7 945.9 218.4 948.0 216.1C950.2 213.8 952.4 211.5 954.6 209.5C956.8 207.4 959.0 205.5 961.1 203.8C963.3 202.1 965.5 200.5 967.7 199.2C969.9 197.9 972.1 196.8 974.3 195.8C976.4 194.9 978.7 194.1 980.8 193.4C982.9 192.7 984.7 192.0 986.8 191.5C989.0 191.0 990.8 190.6 993.8 190.2C996.8 189.9 1001.4 189.6 1004.8 189.5C1008.2 189.3 1012.6 189.2 1014.2 189.1 M902.8 270.6C903.6 270.5 905.6 270.2 907.3 269.8C909.0 269.4 911.2 268.9 912.8 268.1C914.4 267.4 915.5 266.4 916.8 265.4C918.1 264.3 919.4 263.0 920.6 261.6C921.8 260.2 922.9 258.7 924.2 256.9C925.5 255.2 926.8 253.4 928.5 251.1C930.2 248.7 932.5 245.8 934.7 243.0C936.8 240.3 939.3 237.2 941.5 234.5C943.7 231.9 945.9 229.3 948.0 227.0C950.2 224.7 952.4 222.5 954.6 220.8C956.8 219.0 959.0 217.6 961.1 216.3C963.3 215.0 965.5 213.9 967.7 212.9C969.9 211.8 972.1 210.8 974.3 209.9C976.4 209.0 978.7 208.2 980.8 207.5C982.9 206.8 984.7 206.2 986.8 205.7C989.0 205.1 990.8 204.7 993.8 204.2C996.8 203.8 1001.4 203.3 1004.8 203.0C1008.2 202.6 1012.6 202.2 1014.2 202.1 M902.8 292.0C903.3 291.5 904.8 290.3 906.0 289.1C907.1 287.9 908.7 286.4 909.9 284.7C911.1 283.0 912.1 281.0 913.2 279.1C914.3 277.1 915.4 274.9 916.5 272.9C917.6 270.9 918.7 268.8 919.8 266.9C920.9 264.9 922.0 262.9 923.0 261.2C924.1 259.5 925.3 258.0 926.3 256.5C927.4 255.1 928.4 253.8 929.4 252.5C930.4 251.2 931.4 250.0 932.4 249.0C933.4 247.9 934.4 246.8 935.4 246.0C936.3 245.2 937.0 244.6 938.0 243.9C939.0 243.2 939.9 242.7 941.5 241.8C943.1 241.0 945.6 239.7 947.8 238.7C950.0 237.6 952.6 236.4 954.6 235.7C956.6 235.0 958.4 234.7 960.1 234.5C961.9 234.2 963.5 234.1 965.1 234.1C966.7 234.1 968.0 234.2 969.5 234.6C971.0 234.9 972.4 235.3 974.2 236.2C976.0 237.0 978.3 238.5 980.5 239.7C982.7 241.0 985.1 242.5 987.3 243.8C989.5 245.1 991.6 246.4 993.8 247.5C996.0 248.6 998.0 249.7 1000.4 250.5C1002.8 251.3 1005.8 251.9 1008.1 252.4C1010.4 252.9 1013.2 253.3 1014.2 253.4 M902.8 281.9C903.5 282.3 905.2 283.5 906.7 284.5C908.2 285.5 910.3 286.8 912.0 287.9C913.7 289.0 914.9 289.9 916.7 291.1C918.6 292.3 920.3 293.3 923.0 295.0C925.7 296.7 929.5 299.2 933.1 301.3C936.7 303.5 940.9 305.9 944.6 307.8C948.3 309.7 951.8 311.2 955.4 312.6C958.9 314.1 962.6 315.3 966.1 316.4C969.6 317.4 973.0 318.3 976.6 319.0C980.2 319.7 983.4 320.2 987.7 320.6C992.0 321.0 997.9 321.3 1002.3 321.5C1006.7 321.7 1012.2 321.7 1014.2 321.8 M902.8 302.6C904.4 303.2 908.6 304.5 912.3 305.8C916.0 307.1 920.8 308.7 925.0 310.4C929.2 312.1 933.2 314.1 937.3 315.8C941.5 317.6 945.8 319.5 950.0 320.9C954.2 322.3 958.3 323.4 962.5 324.4C966.7 325.4 970.7 326.3 975.0 327.0C979.3 327.8 984.0 328.4 988.2 328.9C992.3 329.4 996.6 329.8 1000.0 330.2C1003.4 330.5 1006.3 330.7 1008.7 330.9C1011.0 331.1 1013.3 331.2 1014.2 331.2 M902.8 305.5C903.3 306.0 904.6 307.2 905.7 308.4C906.8 309.7 908.3 311.2 909.4 313.1C910.6 315.0 911.5 317.3 912.6 319.6C913.7 322.0 914.8 324.7 915.9 327.0C916.9 329.3 917.7 331.1 918.7 333.4C919.7 335.8 920.6 337.9 922.0 341.1C923.3 344.3 925.3 348.9 926.9 352.9C928.6 356.8 930.6 361.5 931.9 364.8C933.2 368.1 933.8 370.4 934.8 372.9C935.7 375.4 936.3 377.5 937.4 380.0C938.4 382.5 939.7 385.1 941.0 387.7C942.2 390.3 943.6 392.9 944.9 395.5C946.1 398.1 947.2 400.2 948.4 403.0C949.7 405.7 950.9 408.3 952.4 412.0C953.8 415.7 955.6 420.7 957.3 425.4C959.1 430.1 961.0 435.3 962.9 440.0C964.8 444.7 966.7 449.2 968.8 453.7C970.8 458.2 973.1 462.8 975.2 466.8C977.3 470.8 979.4 474.4 981.5 477.7C983.7 481.1 985.8 484.1 987.9 486.9C989.9 489.6 991.8 492.0 993.9 494.2C995.9 496.3 997.7 498.1 1000.0 499.6C1002.3 501.2 1005.5 502.4 1007.9 503.4C1010.2 504.4 1013.1 505.2 1014.2 505.5"/>
<path stroke="#ffffbf" d="M173.6 142.4C174.8 142.4 178.1 142.4 180.9 142.4C183.6 142.4 187.2 142.4 190.0 142.3C192.8 142.2 195.0 142.1 197.5 141.9C200.0 141.7 202.4 141.5 205.0 141.3C207.6 141.0 210.3 140.5 212.9 140.3C215.6 140.0 218.3 139.8 221.0 139.9C223.7 140.0 226.2 140.4 228.9 140.9C231.5 141.4 234.2 142.1 237.0 142.8C239.8 143.5 242.4 144.4 245.4 145.3C248.4 146.1 251.4 147.0 255.0 147.9C258.6 148.8 262.9 149.9 267.1 150.7C271.2 151.6 275.8 152.5 280.0 153.1C284.2 153.6 288.3 153.8 292.5 154.1C296.6 154.3 300.5 154.4 305.0 154.5C309.5 154.5 315.0 154.5 319.3 154.5C323.5 154.5 328.5 154.5 330.4 154.5 M173.6 167.1C175.6 167.1 181.1 167.1 185.5 167.1C189.9 167.1 195.8 167.1 200.0 167.0C204.2 167.0 207.5 167.0 211.0 166.9C214.5 166.8 217.7 166.8 221.0 166.6C224.3 166.5 227.7 166.2 230.9 166.0C234.0 165.8 237.2 165.5 240.0 165.2C242.8 164.9 245.4 164.6 247.9 164.2C250.4 163.9 252.7 163.5 255.0 163.2C257.3 162.8 259.5 162.4 261.7 162.0C263.9 161.6 265.9 161.1 268.0 160.7C270.1 160.2 272.1 159.8 274.1 159.4C276.1 158.9 278.0 158.5 280.0 158.1C282.0 157.7 283.9 157.3 285.9 156.9C287.9 156.5 290.0 156.2 292.0 155.9C294.0 155.6 295.5 155.5 297.7 155.3C299.8 155.1 301.5 155.0 305.0 154.9C308.5 154.8 314.3 154.7 318.5 154.6C322.7 154.6 328.4 154.5 330.4 154.5 M173.6 188.4C176.0 188.3 182.9 188.2 188.0 188.2C193.1 188.2 200.1 188.1 204.0 188.4C207.9 188.6 209.4 189.1 211.6 189.6C213.8 190.1 215.1 190.8 217.0 191.3C218.9 191.7 221.0 191.7 223.2 192.2C225.3 192.7 227.4 193.1 230.0 194.1C232.6 195.2 235.8 197.0 238.9 198.6C242.0 200.1 245.4 202.0 248.6 203.4C251.8 204.8 254.8 205.7 257.9 206.8C261.0 207.9 264.1 208.8 267.2 209.9C270.3 211.0 273.4 212.1 276.5 213.1C279.6 214.2 282.7 215.3 285.8 216.4C288.9 217.5 292.3 218.8 295.3 219.9C298.4 221.0 301.6 222.1 304.3 222.9C307.0 223.7 309.4 224.2 311.7 224.7C314.0 225.1 316.0 225.4 318.3 225.7C320.6 225.9 323.2 226.0 325.2 226.1C327.2 226.2 329.5 226.2 330.4 226.2 M173.6 213.6C174.5 213.5 177.0 213.3 178.8 213.0C180.6 212.8 183.2 212.4 184.6 212.0C186.0 211.6 186.6 211.0 187.4 210.4C188.2 209.9 188.7 209.2 189.5 208.5C190.3 207.9 191.1 207.1 192.0 206.4C192.8 205.7 193.6 204.9 194.4 204.2C195.2 203.4 196.0 202.6 196.8 201.9C197.6 201.2 198.4 200.5 199.2 199.8C200.0 199.1 200.8 198.5 201.6 197.9C202.5 197.4 203.3 196.8 204.1 196.4C204.9 196.0 205.7 195.7 206.5 195.4C207.4 195.1 208.2 194.9 209.0 194.8C209.8 194.7 210.5 194.6 211.4 194.7C212.2 194.7 213.0 194.8 214.0 195.0C215.0 195.3 216.1 195.6 217.2 196.0C218.4 196.4 219.7 197.0 221.0 197.5C222.3 198.1 223.8 198.8 225.3 199.4C226.8 200.1 228.4 200.9 230.0 201.6C231.6 202.4 233.4 203.2 235.0 203.9C236.7 204.7 238.5 205.6 240.0 206.4C241.5 207.1 242.6 207.8 244.1 208.6C245.5 209.5 246.7 210.2 248.6 211.4C250.5 212.5 252.9 214.3 255.2 215.7C257.5 217.1 260.2 218.8 262.5 219.9C264.8 220.9 266.9 221.5 269.2 222.2C271.5 222.9 273.7 223.3 276.5 223.9C279.3 224.4 282.7 225.1 285.8 225.6C288.8 226.1 292.3 226.5 295.0 226.8C297.7 227.1 299.5 227.3 301.8 227.5C304.2 227.7 305.9 227.7 309.0 227.8C312.1 227.8 317.0 227.8 320.6 227.8C324.1 227.8 328.8 227.7 330.4 227.7 M173.6 219.9C178.1 219.9 191.0 220.0 200.4 220.1C209.8 220.2 222.7 220.4 230.0 220.5C237.3 220.5 240.3 220.3 244.2 220.3C248.0 220.3 250.3 220.2 253.0 220.5C255.7 220.7 257.9 221.2 260.3 221.8C262.6 222.4 264.3 223.0 267.0 223.9C269.7 224.9 273.3 226.2 276.4 227.3C279.5 228.4 283.0 229.7 285.8 230.6C288.6 231.6 290.7 232.3 293.0 233.0C295.3 233.7 297.4 234.2 299.6 234.6C301.8 234.9 304.1 235.0 306.4 235.1C308.7 235.2 310.9 235.1 313.6 235.1C316.3 235.1 320.1 235.1 322.9 235.0C325.7 235.0 329.1 234.9 330.4 234.9 M173.6 241.6C175.6 241.4 181.3 240.8 185.8 240.5C190.3 240.2 196.3 239.7 200.5 239.9C204.7 240.0 207.9 240.7 211.3 241.3C214.7 242.0 217.8 243.0 220.8 244.0C223.8 245.0 226.6 246.3 229.5 247.6C232.3 248.9 234.9 250.3 237.7 251.6C240.5 252.9 243.7 254.3 246.5 255.6C249.4 256.9 252.3 258.2 254.7 259.2C257.1 260.2 258.9 260.9 260.8 261.6C262.8 262.3 264.5 262.9 266.5 263.5C268.5 264.1 270.7 264.7 272.9 265.3C275.2 265.9 277.4 266.4 280.0 267.0C282.6 267.6 285.4 268.3 288.3 268.8C291.1 269.4 294.1 270.0 297.0 270.4C299.9 270.8 302.7 271.1 305.5 271.3C308.4 271.6 311.0 271.8 314.0 271.9C317.0 272.0 320.5 272.0 323.3 272.0C326.0 272.0 329.2 271.9 330.4 271.9 M173.6 254.1C175.2 254.6 179.8 255.8 183.4 256.7C187.1 257.7 191.9 259.0 195.4 260.1C198.9 261.1 201.5 262.3 204.4 263.2C207.2 264.2 209.9 265.2 212.3 265.9C214.7 266.7 216.6 267.1 218.9 267.5C221.2 267.9 223.1 268.1 225.9 268.2C228.7 268.2 232.4 268.1 235.7 267.9C239.1 267.8 242.9 267.4 246.2 267.0C249.5 266.5 252.7 265.8 255.8 265.2C258.9 264.5 262.0 263.8 264.8 263.1C267.6 262.3 270.0 261.6 272.5 260.7C275.0 259.7 277.3 258.8 280.0 257.4C282.7 256.0 285.8 254.2 288.6 252.5C291.4 250.8 294.4 249.0 297.0 247.3C299.6 245.5 302.0 243.7 304.3 242.2C306.5 240.6 308.7 239.0 310.6 238.0C312.5 237.0 313.9 236.7 315.5 236.2C317.1 235.8 318.3 235.7 320.0 235.5C321.7 235.3 324.1 235.1 325.8 235.0C327.5 234.9 329.6 234.9 330.4 234.9 M173.6 298.2C174.8 298.2 178.2 298.0 180.9 297.8C183.7 297.6 187.2 297.4 190.0 297.1C192.8 296.9 195.3 296.5 197.6 296.2C199.9 296.0 202.2 295.6 203.9 295.6C205.6 295.6 206.6 296.0 207.6 296.3C208.6 296.6 209.2 297.1 210.0 297.5C210.8 297.9 211.4 298.3 212.1 298.9C212.7 299.4 213.3 300.0 214.0 300.8C214.7 301.6 215.5 302.5 216.3 303.6C217.2 304.7 218.1 305.9 219.1 307.3C220.1 308.8 221.3 310.6 222.5 312.3C223.7 314.1 225.0 316.3 226.1 318.0C227.2 319.7 227.9 320.7 229.1 322.7C230.2 324.7 231.2 326.4 232.9 330.0C234.7 333.6 237.2 339.2 239.6 344.4C242.0 349.7 244.7 355.9 247.2 361.5C249.8 367.1 252.2 372.2 254.7 377.8C257.2 383.2 259.7 388.7 262.2 394.5C264.8 400.3 267.5 406.5 270.0 412.4C272.5 418.3 275.1 424.4 277.3 430.0C279.4 435.6 281.2 440.7 283.1 445.8C285.0 451.0 286.7 455.8 288.8 461.0C290.8 466.2 293.2 471.9 295.5 476.9C297.7 481.9 300.1 487.0 302.3 491.0C304.4 494.9 306.6 498.0 308.6 500.7C310.5 503.5 312.5 505.8 314.2 507.6C315.9 509.5 317.3 510.7 318.6 511.8C320.0 512.9 321.2 513.6 322.6 514.2C324.0 514.9 325.7 515.4 327.0 515.8C328.3 516.2 329.8 516.4 330.4 516.6 M173.6 494.4C174.1 494.4 175.5 494.4 176.8 494.0C178.0 493.7 179.6 493.4 181.0 492.4C182.4 491.5 183.7 490.0 185.1 488.4C186.5 486.8 188.0 484.7 189.5 482.9C191.0 481.1 192.4 479.6 194.1 477.5C195.8 475.3 197.6 472.9 199.7 470.0C201.8 467.1 203.9 464.4 206.5 459.9C209.2 455.4 211.8 451.3 215.7 443.0C219.6 434.7 225.4 421.0 230.2 409.9C235.0 398.7 240.7 385.0 244.5 376.0C248.3 367.0 250.8 361.6 253.2 356.1C255.6 350.6 257.5 346.5 259.0 343.0C260.5 339.5 261.5 337.4 262.4 335.2C263.3 333.0 263.8 331.9 264.4 330.0C265.0 328.1 265.6 326.0 266.2 324.0C266.8 322.0 267.3 320.1 268.2 318.0C269.1 315.9 270.3 313.6 271.4 311.4C272.5 309.2 273.9 306.9 275.0 305.0C276.1 303.1 277.1 301.5 278.2 299.7C279.3 298.0 280.4 296.5 281.8 294.4C283.2 292.3 285.1 289.5 286.8 287.3C288.5 285.0 290.5 282.4 292.0 280.8C293.5 279.2 294.6 278.3 296.0 277.5C297.4 276.6 298.6 276.1 300.4 275.5C302.2 274.9 304.4 274.4 306.7 274.0C309.0 273.6 311.4 273.3 314.0 273.2C316.6 273.0 319.4 273.1 322.1 273.1C324.9 273.1 327.8 273.2 330.4 273.2C333.0 273.1 335.4 272.8 337.9 272.7C340.3 272.5 342.5 272.3 345.0 272.2C347.5 272.0 350.5 272.0 352.9 271.9C355.2 271.9 357.9 271.9 358.9 271.9 M173.6 507.2C174.4 506.9 176.7 506.5 178.5 505.8C180.3 505.1 182.7 504.3 184.6 502.8C186.5 501.4 188.1 499.1 189.7 497.0C191.3 494.9 192.9 492.3 194.4 490.0C195.9 487.7 197.3 485.3 198.6 483.2C199.9 481.0 201.3 478.5 202.2 477.1C203.1 475.6 203.2 475.7 203.9 474.5C204.6 473.4 205.1 472.5 206.5 470.1C207.9 467.8 209.9 464.8 212.3 460.3C214.7 455.7 217.3 451.4 221.0 443.0C224.7 434.6 230.0 421.0 234.5 409.9C239.0 398.7 244.3 385.0 248.0 376.0C251.7 367.0 254.2 361.6 256.6 356.1C259.0 350.6 261.0 346.5 262.5 343.0C264.0 339.5 264.8 337.2 265.6 335.1C266.5 332.9 266.8 331.7 267.5 330.0C268.2 328.3 268.9 326.7 269.6 325.0C270.4 323.3 271.1 321.9 272.0 320.0C272.9 318.1 274.1 315.9 275.2 313.7C276.4 311.5 277.7 309.2 279.0 307.0C280.3 304.8 281.8 302.4 283.3 300.3C284.8 298.1 286.4 295.9 288.0 294.0C289.6 292.1 291.1 290.4 292.8 288.8C294.4 287.2 296.2 285.8 298.0 284.5C299.8 283.2 301.6 282.0 303.7 281.1C305.8 280.1 307.8 279.2 310.6 278.6C313.4 278.0 317.1 277.6 320.4 277.4C323.7 277.1 327.5 277.0 330.4 277.0C333.3 277.0 335.6 277.1 338.1 277.4C340.5 277.6 342.5 277.9 345.0 278.3C347.5 278.7 350.5 279.4 352.9 280.0C355.2 280.5 357.9 281.2 358.9 281.5 M173.6 524.0C174.5 523.8 176.9 523.4 178.7 522.9C180.6 522.4 183.1 521.8 184.6 521.2C186.1 520.6 186.8 520.2 187.8 519.3C188.8 518.5 189.6 517.7 190.6 516.3C191.6 514.9 192.9 513.0 194.1 510.9C195.3 508.9 196.5 506.6 197.7 504.1C198.9 501.6 200.1 498.9 201.3 496.1C202.5 493.4 203.7 490.3 204.8 487.5C206.0 484.7 206.8 482.3 208.0 479.4C209.1 476.5 210.3 473.3 211.8 470.0C213.3 466.7 214.9 464.1 217.0 459.6C219.1 455.1 221.2 451.3 224.6 443.0C228.1 434.7 233.3 421.0 237.7 409.9C242.2 398.7 247.4 385.0 251.1 376.0C254.8 367.0 257.5 361.6 260.0 356.1C262.5 350.6 264.6 346.5 266.1 343.0C267.6 339.5 268.3 337.1 269.1 335.0C269.8 332.8 270.1 331.6 270.7 330.0C271.4 328.4 272.2 327.0 273.1 325.6C273.9 324.2 274.7 323.0 275.6 321.4C276.6 319.8 277.7 317.6 278.8 315.7C279.9 313.8 281.1 311.7 282.1 310.0C283.2 308.3 284.0 307.1 285.1 305.7C286.2 304.2 287.2 303.0 288.6 301.2C289.9 299.4 291.6 296.9 293.3 294.8C295.0 292.7 296.9 290.4 298.7 288.7C300.5 286.9 302.1 285.7 304.1 284.5C306.0 283.3 307.7 282.3 310.6 281.5C313.5 280.7 317.9 280.2 321.2 279.8C324.5 279.4 328.9 279.2 330.4 279.1 M173.6 525.3C177.0 525.1 186.2 524.5 194.0 524.1C201.9 523.6 212.1 522.9 220.8 522.4C229.5 521.9 238.0 521.5 246.5 521.1C255.0 520.7 263.5 520.3 271.6 519.9C279.7 519.5 287.9 519.1 294.9 518.7C302.0 518.4 309.0 518.0 314.0 517.8C319.0 517.5 322.1 517.3 324.9 517.1C327.6 517.0 329.5 516.8 330.4 516.8 M330.4 154.5C339.6 154.4 367.2 154.3 385.6 154.2C404.0 154.1 431.6 154.0 440.8 154.0 M330.4 226.2C331.9 226.0 336.0 225.7 339.3 225.3C342.7 224.9 347.1 224.5 350.4 223.8C353.7 223.0 356.2 222.0 359.0 221.0C361.9 220.0 364.5 218.9 367.3 217.8C370.1 216.6 373.0 215.4 375.8 214.3C378.6 213.2 381.5 212.0 384.3 211.0C387.1 209.9 389.9 209.1 392.8 208.2C395.6 207.4 398.4 206.6 401.2 206.0C404.0 205.3 406.5 204.6 409.3 204.0C412.1 203.5 414.6 203.0 418.1 202.6C421.6 202.1 426.7 201.8 430.5 201.5C434.3 201.2 439.1 201.0 440.8 200.9 M330.4 234.9C331.9 235.1 336.0 235.7 339.3 236.3C342.7 237.0 347.1 237.8 350.4 239.0C353.7 240.1 356.2 241.6 359.0 243.1C361.9 244.7 364.5 246.5 367.3 248.3C370.1 250.1 373.0 252.1 375.8 254.1C378.6 256.1 381.5 258.2 384.3 260.2C387.1 262.2 389.9 264.2 392.8 266.2C395.6 268.2 398.3 270.1 401.2 272.0C404.1 273.9 407.1 275.9 410.0 277.7C412.8 279.4 415.7 281.1 418.1 282.4C420.5 283.6 422.4 284.3 424.4 285.0C426.4 285.8 428.0 286.2 430.0 286.7C432.0 287.2 434.3 287.7 436.1 288.1C437.9 288.4 440.0 288.8 440.8 288.9 M330.4 271.9C331.5 271.8 334.4 271.5 336.8 271.3C339.3 271.2 342.5 271.0 345.0 270.9C347.5 270.8 349.5 270.6 351.8 270.7C354.1 270.8 356.3 270.9 358.9 271.4C361.5 271.8 364.3 272.5 367.2 273.4C370.0 274.2 373.0 275.3 375.8 276.5C378.6 277.8 381.4 279.3 384.2 280.9C387.1 282.5 389.9 284.2 392.7 286.1C395.5 288.0 398.4 290.2 401.2 292.2C404.0 294.2 406.8 296.5 409.7 298.2C412.6 300.0 415.5 301.5 418.3 302.9C421.1 304.3 423.9 305.5 426.6 306.7C429.3 307.9 432.4 309.0 434.8 309.9C437.1 310.8 439.8 311.7 440.8 312.1 M330.4 279.1C331.5 279.1 334.4 279.1 336.8 279.2C339.3 279.3 342.5 279.5 345.0 279.7C347.5 279.9 349.5 280.0 351.8 280.4C354.1 280.8 356.4 281.3 358.9 282.1C361.4 283.0 364.2 284.0 367.0 285.4C369.8 286.8 372.7 288.4 375.8 290.5C378.9 292.6 382.2 295.4 385.4 298.1C388.7 300.8 392.1 304.0 395.1 306.9C398.1 309.9 400.9 312.7 403.7 315.8C406.5 318.9 409.1 321.9 412.0 325.6C414.9 329.3 418.0 333.9 420.8 337.9C423.7 341.9 426.5 346.2 429.0 349.6C431.5 353.0 434.0 355.9 436.0 358.3C437.9 360.7 440.0 363.1 440.8 364.1 M330.4 516.6C331.1 516.5 332.9 516.5 334.4 516.4C335.9 516.2 337.8 516.1 339.3 515.8C340.8 515.5 341.8 515.2 343.1 514.7C344.4 514.2 345.7 513.6 347.0 513.0C348.3 512.4 349.5 512.0 351.1 511.1C352.6 510.1 354.1 509.2 356.3 507.4C358.5 505.6 361.7 502.9 364.5 500.1C367.3 497.3 370.6 494.1 373.2 490.6C375.8 487.2 378.0 483.5 380.3 479.7C382.6 475.8 384.7 471.7 387.0 467.7C389.3 463.6 391.8 459.5 394.2 455.3C396.5 451.1 399.0 446.8 401.2 442.7C403.4 438.5 405.5 434.5 407.6 430.4C409.7 426.2 411.8 422.1 414.0 417.7C416.2 413.3 418.7 408.4 421.0 403.7C423.3 399.1 425.6 394.5 428.0 389.7C430.4 385.0 433.1 379.5 435.3 375.2C437.4 371.0 439.9 366.1 440.8 364.2 M440.8 153.2C442.3 152.7 446.3 151.3 449.6 150.1C452.9 149.0 457.2 147.5 460.5 146.3C463.8 145.2 466.3 144.2 469.1 143.2C471.9 142.2 474.6 141.3 477.4 140.5C480.2 139.8 483.0 139.1 485.8 138.7C488.7 138.2 491.5 137.8 494.3 137.7C497.1 137.6 500.0 137.9 502.8 138.1C505.6 138.3 508.5 138.7 511.3 139.1C514.1 139.6 516.6 140.2 519.4 140.7C522.2 141.3 524.6 141.9 528.2 142.3C531.8 142.7 536.9 142.8 540.8 143.0C544.6 143.1 549.5 143.2 551.2 143.3 M440.8 154.0C442.3 154.4 446.3 155.4 449.6 156.3C452.9 157.1 457.2 158.3 460.5 159.1C463.8 159.9 466.3 160.6 469.1 161.2C471.9 161.9 474.6 162.5 477.4 163.0C480.2 163.5 483.0 163.8 485.8 164.1C488.7 164.5 491.7 164.7 494.3 165.0C496.9 165.2 498.5 165.5 501.4 165.7C504.2 166.0 506.1 166.2 511.3 166.4C516.5 166.6 525.7 166.8 532.3 167.0C539.0 167.2 548.1 167.4 551.2 167.5 M440.8 200.9C442.3 200.6 446.3 200.0 449.6 199.6C452.9 199.2 457.2 198.6 460.5 198.2C463.8 197.9 466.3 197.6 469.1 197.5C471.9 197.3 474.6 197.2 477.4 197.4C480.2 197.7 483.0 198.2 485.8 198.8C488.7 199.3 491.5 200.1 494.3 200.8C497.1 201.5 500.0 202.2 502.8 202.9C505.6 203.7 508.5 204.5 511.3 205.4C514.1 206.2 516.6 207.3 519.4 208.2C522.2 209.1 524.6 210.1 528.2 210.9C531.8 211.8 536.9 212.6 540.8 213.3C544.6 214.0 549.5 214.7 551.2 215.0 M440.8 200.9C442.3 201.2 446.3 202.3 449.6 203.0C452.9 203.7 457.2 204.8 460.5 205.2C463.8 205.7 466.7 205.8 469.5 205.9C472.4 206.0 475.1 206.0 477.4 205.8C479.7 205.7 481.4 205.4 483.1 205.2C484.8 205.0 486.4 204.7 487.6 204.5C488.8 204.4 489.4 204.1 490.5 204.1C491.6 204.2 492.4 204.2 494.3 204.7C496.2 205.2 499.3 206.2 502.2 207.2C505.0 208.2 508.4 209.4 511.3 210.5C514.2 211.6 516.6 212.7 519.4 213.8C522.2 214.8 524.6 215.9 528.2 216.8C531.8 217.7 536.9 218.6 540.8 219.3C544.6 220.0 549.5 220.7 551.2 221.0 M440.8 288.5C441.2 288.0 442.3 286.6 443.3 285.1C444.3 283.6 445.5 281.8 446.8 279.4C448.1 276.9 449.4 273.7 450.8 270.6C452.2 267.4 453.8 263.8 455.2 260.5C456.6 257.2 458.0 254.1 459.4 250.9C460.8 247.8 462.2 244.7 463.6 241.7C465.0 238.7 466.3 235.9 467.7 233.1C469.1 230.3 470.4 227.6 472.0 225.0C473.6 222.3 475.4 219.7 477.1 217.2C478.9 214.7 480.7 212.3 482.5 210.2C484.3 208.1 486.0 206.2 487.8 204.4C489.5 202.7 491.2 201.1 493.0 199.6C494.8 198.1 496.5 196.7 498.2 195.5C500.0 194.2 501.8 193.1 503.5 192.2C505.2 191.4 507.0 190.8 508.8 190.3C510.5 189.8 512.4 189.5 514.0 189.1C515.6 188.8 516.5 188.6 518.2 188.4C520.0 188.3 521.1 188.2 524.5 188.2C527.9 188.2 534.1 188.3 538.5 188.4C543.0 188.5 549.1 188.7 551.2 188.7 M440.8 312.1C441.0 311.7 441.5 310.7 442.0 309.7C442.4 308.8 443.0 307.6 443.6 306.4C444.2 305.1 444.7 303.8 445.3 302.4C445.9 301.0 446.6 299.5 447.2 298.1C447.9 296.7 448.5 295.4 449.2 293.9C449.9 292.5 450.6 291.1 451.4 289.6C452.1 288.0 452.9 286.3 453.8 284.6C454.6 282.9 455.5 281.1 456.4 279.3C457.3 277.5 458.2 275.6 459.1 273.8C460.0 272.0 461.0 270.1 461.9 268.5C462.7 266.9 463.5 265.6 464.4 264.2C465.2 262.8 466.0 261.5 466.9 260.3C467.7 259.0 468.4 257.9 469.3 256.6C470.2 255.4 471.0 254.2 472.3 252.8C473.7 251.4 475.5 249.6 477.2 248.0C478.9 246.5 480.9 244.8 482.7 243.5C484.5 242.2 486.1 241.3 487.9 240.4C489.6 239.6 491.3 238.9 493.1 238.3C494.8 237.7 496.5 237.3 498.3 236.9C500.0 236.6 501.8 236.4 503.5 236.2C505.2 236.1 507.0 236.0 508.8 236.0C510.5 236.0 512.2 236.0 514.0 236.2C515.8 236.4 517.5 236.8 519.2 237.1C521.0 237.5 522.8 237.9 524.5 238.3C526.2 238.8 527.6 239.3 529.4 239.7C531.1 240.1 532.6 240.6 535.0 240.9C537.4 241.3 541.1 241.5 543.8 241.7C546.5 241.9 550.0 242.1 551.2 242.1 M440.8 364.2C441.2 363.4 442.2 361.1 443.0 359.2C443.9 357.3 445.0 354.7 446.0 352.7C447.0 350.8 447.8 349.1 448.8 347.2C449.8 345.4 450.8 343.6 451.9 341.8C453.0 339.9 454.2 338.1 455.4 336.3C456.7 334.4 458.0 332.6 459.3 330.8C460.6 329.0 462.0 327.1 463.5 325.3C464.9 323.5 466.4 321.7 468.0 319.8C469.6 318.0 471.2 316.2 472.9 314.3C474.5 312.4 476.2 310.6 477.9 308.6C479.6 306.6 481.4 304.2 483.0 302.2C484.6 300.1 486.3 297.8 487.5 296.2C488.7 294.6 489.3 293.8 490.2 292.6C491.1 291.4 491.7 290.6 493.0 288.9C494.3 287.3 496.2 284.9 497.9 282.8C499.7 280.7 501.7 278.3 503.5 276.3C505.3 274.3 507.0 272.5 508.8 270.7C510.5 269.0 512.2 267.3 514.0 265.8C515.8 264.3 517.5 262.9 519.2 261.7C521.0 260.5 522.8 259.4 524.5 258.5C526.2 257.5 527.6 256.7 529.4 256.1C531.1 255.4 532.6 254.9 535.0 254.5C537.4 254.1 541.1 253.9 543.8 253.7C546.5 253.5 550.0 253.5 551.2 253.4 M478.0 309.0C478.3 308.7 479.2 307.9 479.9 307.2C480.7 306.5 481.6 305.6 482.5 304.8C483.4 304.1 484.3 303.4 485.2 302.7C486.1 302.0 487.2 301.2 488.0 300.6C488.8 300.0 489.4 299.6 490.2 299.1C491.0 298.6 491.7 298.2 493.0 297.6C494.3 297.1 496.2 296.3 497.9 295.6C499.7 295.0 501.7 294.3 503.5 293.8C505.3 293.4 507.0 293.1 508.8 292.9C510.5 292.7 512.2 292.6 514.0 292.6C515.8 292.7 517.5 293.0 519.2 293.3C521.0 293.6 522.8 294.0 524.5 294.4C526.2 294.8 527.6 295.3 529.4 295.7C531.1 296.1 532.6 296.6 535.0 296.9C537.4 297.3 541.1 297.6 543.8 297.8C546.5 298.1 550.0 298.3 551.2 298.4 M440.8 288.9C441.1 289.7 442.1 291.8 442.9 293.6C443.7 295.3 444.7 297.6 445.5 299.4C446.3 301.1 446.9 302.5 447.7 304.0C448.4 305.5 449.2 306.9 450.0 308.4C450.8 310.0 451.8 311.8 452.7 313.3C453.7 314.8 454.7 316.4 455.6 317.6C456.5 318.9 457.4 320.0 458.3 320.9C459.2 321.7 460.1 322.5 461.0 322.8C461.9 323.2 462.8 323.2 463.6 323.1C464.4 323.0 465.2 322.7 466.0 322.1C466.8 321.6 467.6 320.6 468.3 319.8C469.0 319.0 469.7 317.9 470.0 317.5 M440.8 312.1C441.1 312.6 441.8 314.2 442.4 315.5C443.0 316.8 443.8 318.5 444.5 319.8C445.1 321.1 445.5 321.9 446.2 323.1C446.8 324.3 447.3 325.4 448.1 327.0C448.9 328.6 449.9 330.8 450.9 332.8C451.8 334.8 452.9 337.1 453.8 339.1C454.8 341.1 455.7 342.9 456.6 344.7C457.5 346.5 458.5 348.7 459.3 350.0C460.0 351.3 460.1 351.2 461.0 352.8C461.8 354.2 462.3 354.9 464.3 359.0C466.3 363.1 469.8 370.6 472.9 377.1C475.9 383.6 479.7 391.6 482.7 398.0C485.6 404.4 488.1 410.3 490.4 415.6C492.7 421.0 495.0 426.4 496.6 430.0C498.1 433.6 498.8 435.3 499.8 437.5C500.7 439.7 501.3 440.9 502.2 443.0C503.2 445.1 504.4 447.7 505.7 450.3C506.9 453.0 508.2 455.6 509.9 458.8C511.5 462.1 513.5 466.2 515.5 469.8C517.5 473.5 519.7 477.6 521.8 480.8C523.9 484.1 525.9 486.9 527.9 489.5C530.0 492.1 532.0 494.4 533.9 496.3C535.8 498.2 537.7 499.8 539.4 501.1C541.1 502.4 542.7 503.4 544.2 504.2C545.7 505.0 547.2 505.6 548.3 506.1C549.5 506.5 550.7 506.8 551.2 506.9 M464.0 343.0C464.3 343.4 465.1 344.4 465.8 345.4C466.6 346.4 467.6 347.9 468.5 349.0C469.4 350.1 469.9 350.3 471.0 351.9C472.2 353.6 473.1 354.8 475.3 359.0C477.5 363.2 481.1 370.6 484.2 377.1C487.3 383.6 491.1 391.6 493.9 398.0C496.7 404.4 498.9 410.3 501.0 415.6C503.1 421.0 505.0 426.3 506.5 430.0C508.0 433.7 509.1 435.6 510.2 437.7C511.3 439.9 512.1 441.1 513.0 443.0C513.9 444.9 514.6 447.1 515.4 449.2C516.3 451.2 517.0 453.2 518.0 455.4C519.0 457.6 520.3 460.0 521.6 462.2C522.9 464.5 524.2 466.8 525.6 469.0C527.0 471.2 528.3 473.2 529.7 475.2C531.1 477.2 532.6 479.1 534.0 480.9C535.4 482.8 536.8 484.6 538.2 486.2C539.6 487.8 541.0 489.3 542.5 490.5C544.0 491.6 545.9 492.5 547.4 493.2C548.8 493.9 550.6 494.5 551.2 494.7 M440.8 364.5C441.5 365.6 443.3 368.6 444.9 371.1C446.5 373.7 448.5 377.2 450.3 380.0C452.1 382.8 453.7 384.8 455.4 387.8C457.2 390.7 458.9 393.3 460.9 397.7C463.0 402.1 465.6 408.7 467.8 414.0C470.1 419.4 472.6 426.0 474.4 430.0C476.3 434.0 477.4 435.6 478.9 438.1C480.3 440.5 481.4 441.8 482.9 444.5C484.5 447.2 486.5 450.9 488.3 454.1C490.1 457.3 492.1 460.9 493.8 463.9C495.6 466.9 497.0 469.5 498.6 472.2C500.2 474.8 501.7 477.3 503.4 480.0C505.2 482.6 507.2 485.6 509.1 488.2C511.0 490.9 513.1 493.6 514.8 495.8C516.6 498.1 518.1 499.9 519.6 501.7C521.2 503.5 522.6 505.0 524.2 506.7C525.8 508.4 527.6 510.1 529.2 511.7C530.9 513.2 532.6 514.7 534.1 516.0C535.7 517.2 537.2 518.3 538.7 519.3C540.2 520.3 541.5 521.2 543.0 521.9C544.5 522.7 546.3 523.3 547.7 523.8C549.0 524.4 550.6 524.8 551.2 525.0 M551.2 143.3C552.1 143.4 554.4 143.4 556.5 143.6C558.6 143.9 561.3 144.2 563.9 144.9C566.5 145.6 569.3 146.7 572.1 148.0C574.9 149.2 577.9 150.7 580.8 152.4C583.7 154.2 586.4 156.3 589.2 158.4C592.1 160.5 594.8 162.9 597.7 165.1C600.6 167.3 603.6 169.6 606.4 171.7C609.2 173.9 612.1 176.0 614.7 177.8C617.3 179.5 619.8 181.0 622.1 182.3C624.3 183.5 626.5 184.6 628.2 185.4C629.9 186.1 631.3 186.4 632.4 186.7C633.6 187.0 634.6 187.0 635.0 187.1 M551.2 167.5C551.9 167.6 553.6 167.6 555.1 168.1C556.7 168.5 558.6 168.8 560.5 169.9C562.4 171.1 564.6 173.0 566.6 174.7C568.6 176.5 570.8 178.6 572.6 180.4C574.3 182.1 575.8 183.6 577.2 185.2C578.7 186.7 580.0 188.4 581.1 189.8C582.1 191.3 582.6 192.3 583.4 193.9C584.3 195.4 584.7 196.7 586.2 199.2C587.6 201.8 590.0 205.8 592.0 209.2C593.9 212.7 596.3 216.8 598.0 219.8C599.6 222.7 600.6 224.8 601.8 227.0C602.9 229.3 603.8 231.3 604.7 233.4C605.7 235.5 606.4 237.2 607.3 239.4C608.1 241.7 608.9 243.7 609.8 246.9C610.8 250.1 611.9 254.6 613.0 258.9C614.2 263.1 615.3 267.9 616.6 272.3C617.9 276.7 619.4 281.3 620.8 285.5C622.2 289.8 623.7 294.1 625.0 297.7C626.3 301.3 627.6 304.5 628.7 307.3C629.9 310.2 631.0 312.7 631.8 314.7C632.7 316.7 633.4 318.1 634.0 319.3C634.5 320.5 635.0 321.4 635.2 321.8 M551.2 188.7C553.6 188.9 560.5 189.4 565.4 189.8C570.4 190.1 577.3 190.6 580.8 190.8C584.3 191.1 585.0 191.2 586.5 191.4C588.0 191.6 588.5 191.8 590.0 192.0C591.5 192.2 593.8 192.6 595.8 192.8C597.8 193.0 599.9 193.3 602.0 193.4C604.1 193.6 606.3 193.6 608.5 193.6C610.6 193.6 612.8 193.5 614.7 193.4C616.6 193.2 618.3 192.9 620.0 192.5C621.7 192.2 623.2 191.8 625.0 191.3C626.8 190.7 629.0 189.9 630.6 189.3C632.3 188.7 634.3 187.9 635.0 187.6 M551.2 215.0C551.8 214.8 553.5 214.3 554.8 213.8C556.2 213.3 558.0 212.7 559.2 212.2C560.4 211.6 561.3 211.0 562.3 210.3C563.3 209.7 564.1 209.0 565.0 208.3C565.9 207.7 566.7 207.0 567.5 206.3C568.4 205.7 569.1 205.0 570.0 204.2C570.9 203.4 571.8 202.5 572.7 201.7C573.6 200.8 574.6 199.9 575.5 199.0C576.4 198.1 577.2 197.2 578.0 196.3C578.9 195.4 579.7 194.5 580.8 193.6C581.9 192.7 583.2 191.7 584.4 190.8C585.6 189.9 586.9 189.0 588.0 188.3C589.1 187.6 589.9 187.2 590.9 186.8C591.9 186.4 592.8 186.1 594.0 185.8C595.2 185.5 596.8 185.1 598.3 184.9C599.7 184.6 601.3 184.4 602.8 184.4C604.3 184.4 605.6 184.6 607.0 184.9C608.4 185.2 609.7 185.6 611.0 186.2C612.3 186.7 613.5 187.5 614.6 188.2C615.8 188.9 617.0 189.8 618.1 190.6C619.2 191.5 620.4 192.3 621.5 193.2C622.6 194.0 623.6 194.8 624.8 195.7C626.0 196.7 627.3 197.7 628.4 198.6C629.5 199.5 630.7 200.5 631.6 201.1C632.5 201.7 633.2 202.0 633.7 202.3C634.3 202.6 634.8 202.8 635.0 202.9 M551.2 253.4C552.8 253.3 557.4 252.8 560.9 252.4C564.4 251.9 569.2 251.3 572.3 250.7C575.4 250.0 577.4 249.4 579.7 248.5C581.9 247.7 583.8 246.8 585.9 245.7C588.0 244.6 590.2 243.2 592.2 241.9C594.2 240.6 596.2 239.1 597.8 237.9C599.3 236.8 600.4 236.0 601.5 235.0C602.7 233.9 603.6 233.0 604.8 231.7C605.9 230.4 607.2 228.7 608.4 227.1C609.7 225.5 611.0 223.7 612.3 222.0C613.6 220.3 614.9 218.5 616.2 216.8C617.6 215.1 618.9 213.4 620.3 212.0C621.6 210.6 623.0 209.4 624.3 208.3C625.7 207.2 626.9 206.2 628.2 205.5C629.5 204.8 630.9 204.2 632.1 203.8C633.2 203.4 634.5 203.0 635.0 202.9 M551.2 221.0C551.8 220.9 553.5 220.6 555.0 220.2C556.4 219.9 558.4 219.6 560.0 219.1C561.6 218.6 563.2 217.8 564.9 217.3C566.5 216.7 568.2 216.1 570.0 216.0C571.8 215.9 573.8 216.3 575.6 216.7C577.4 217.1 579.3 217.7 580.8 218.3C582.3 218.8 583.3 219.3 584.5 220.0C585.7 220.6 586.6 221.3 588.0 222.3C589.4 223.2 591.3 224.5 592.9 225.7C594.5 226.9 596.3 228.2 597.7 229.3C599.1 230.3 599.9 231.0 601.1 231.8C602.2 232.7 603.1 233.4 604.5 234.5C605.9 235.5 607.7 236.8 609.4 238.1C611.1 239.4 613.0 240.8 614.7 242.2C616.4 243.6 618.1 245.2 619.8 246.6C621.4 248.0 623.0 249.5 624.8 250.6C626.6 251.7 628.8 252.5 630.5 253.2C632.2 254.0 634.3 254.6 635.0 254.9 M551.2 242.1C552.8 242.3 557.4 242.8 560.9 243.3C564.4 243.7 569.2 244.4 572.3 244.9C575.4 245.5 577.4 245.9 579.7 246.6C581.9 247.3 583.8 248.0 585.9 249.0C588.0 250.0 590.1 251.3 592.1 252.7C594.1 254.1 596.1 255.6 597.8 257.3C599.5 259.0 600.9 260.9 602.3 262.8C603.8 264.8 605.1 266.9 606.5 269.1C607.9 271.2 609.3 273.4 610.7 275.7C612.1 278.1 613.6 280.5 615.0 283.0C616.4 285.5 617.8 288.2 619.2 290.8C620.6 293.5 621.9 296.2 623.4 299.0C624.8 301.8 626.5 305.1 627.9 307.9C629.3 310.6 630.8 313.5 631.9 315.5C632.9 317.5 633.5 318.6 634.1 319.7C634.7 320.7 635.1 321.4 635.3 321.8 M551.2 298.4C552.8 298.2 557.2 297.5 560.7 296.8C564.2 296.1 568.9 295.2 572.3 294.1C575.7 293.0 578.2 291.8 581.1 290.4C583.9 289.0 586.5 287.4 589.3 285.7C592.1 283.9 595.3 281.8 598.1 279.9C600.9 277.9 603.8 275.7 606.2 273.8C608.6 271.9 610.6 270.2 612.6 268.5C614.6 266.8 616.3 265.3 618.1 263.7C619.9 262.2 621.8 260.5 623.5 259.2C625.2 257.8 626.7 256.5 628.2 255.6C629.7 254.8 631.1 254.3 632.2 254.0C633.4 253.6 634.5 253.4 635.0 253.3 M551.2 494.7C552.2 494.7 554.8 494.6 556.9 494.4C559.0 494.1 561.8 493.9 563.9 493.2C566.0 492.5 567.6 491.4 569.3 490.2C571.0 489.0 572.6 487.5 574.0 485.9C575.4 484.4 576.3 482.7 577.5 480.7C578.6 478.7 579.5 476.7 580.7 474.0C582.0 471.3 583.5 467.8 584.9 464.7C586.3 461.6 588.0 457.8 589.1 455.4C590.3 453.0 591.0 452.4 592.0 450.3C593.0 448.3 593.8 447.1 595.3 443.0C596.9 438.9 599.3 431.9 601.3 425.7C603.4 419.6 605.8 412.0 607.6 406.2C609.5 400.4 610.8 395.7 612.3 390.7C613.8 385.6 615.1 381.1 616.8 375.7C618.6 370.3 620.8 363.8 622.8 358.4C624.7 353.1 626.8 347.3 628.4 343.5C630.0 339.7 631.3 337.6 632.4 335.6C633.5 333.6 634.6 332.3 635.0 331.7 M551.2 506.9C552.2 507.1 554.9 507.6 557.0 507.9C559.1 508.1 562.0 508.4 563.9 508.4C565.8 508.3 567.0 508.2 568.4 507.5C569.8 506.9 570.9 506.3 572.3 504.6C573.7 503.0 575.2 500.3 576.6 497.8C578.1 495.2 579.6 492.0 580.8 489.3C582.0 486.6 582.8 484.5 584.0 481.7C585.1 478.8 586.0 476.1 587.6 472.3C589.2 468.5 591.3 463.8 593.3 458.9C595.3 454.0 597.6 448.7 599.7 443.0C601.8 437.3 603.9 430.8 605.9 424.7C607.9 418.5 610.0 411.9 611.8 406.2C613.6 400.5 614.9 395.6 616.5 390.5C618.0 385.4 619.3 380.8 621.0 375.7C622.7 370.6 625.0 364.7 626.8 359.8C628.6 354.8 630.6 349.7 631.8 346.0C633.0 342.3 633.5 339.8 634.1 337.6C634.6 335.5 634.8 333.8 635.0 333.0 M551.2 525.0C551.9 524.9 553.8 524.7 555.3 524.3C556.9 524.0 558.9 523.5 560.5 522.7C562.1 521.8 563.4 520.5 564.8 519.2C566.2 518.0 567.6 516.6 569.0 515.1C570.4 513.6 571.9 511.7 573.3 510.3C574.7 508.8 576.1 507.1 577.4 506.2C578.7 505.4 579.7 505.2 580.9 504.9C582.2 504.6 583.4 504.6 585.0 504.5C586.6 504.3 588.1 504.2 590.2 504.0C592.4 503.9 594.3 503.9 597.7 503.8C601.1 503.7 606.2 503.7 610.5 503.6C614.7 503.6 619.7 503.6 623.1 503.5C626.5 503.4 628.7 503.3 630.6 503.2C632.6 503.1 634.3 503.0 635.0 503.0 M635.0 187.1C635.9 187.1 638.4 187.2 640.7 187.3C642.9 187.5 645.8 187.7 648.5 188.1C651.2 188.4 654.0 188.8 656.8 189.3C659.6 189.9 662.6 190.5 665.5 191.4C668.4 192.2 671.1 193.3 674.0 194.4C676.8 195.6 679.6 196.8 682.4 198.2C685.2 199.5 688.0 200.9 690.8 202.4C693.7 203.8 696.5 205.3 699.3 206.7C702.1 208.0 705.0 209.4 707.8 210.7C710.6 211.9 713.5 213.2 716.3 214.2C719.1 215.1 721.9 215.9 724.8 216.6C727.6 217.3 730.4 217.8 733.2 218.3C736.0 218.7 738.9 218.9 741.7 219.2C744.5 219.4 747.4 219.5 750.0 219.8C752.6 220.1 754.5 220.4 757.1 220.7C759.7 221.0 761.6 221.3 765.4 221.4C769.2 221.5 775.2 221.5 779.7 221.5C784.1 221.4 789.9 221.3 792.0 221.3 M635.0 202.9C635.9 203.0 638.4 203.1 640.7 203.4C642.9 203.8 645.8 204.1 648.5 204.9C651.2 205.7 654.2 207.0 657.1 208.2C659.9 209.5 663.0 211.0 665.5 212.4C668.0 213.8 670.0 215.2 672.1 216.6C674.1 218.0 676.1 219.5 678.0 220.9C679.9 222.3 681.7 223.7 683.7 225.1C685.7 226.4 687.5 227.8 690.0 228.9C692.5 230.1 695.6 231.2 698.6 232.2C701.6 233.2 704.9 234.1 708.0 234.9C711.1 235.8 714.2 236.8 717.2 237.5C720.2 238.3 723.3 239.0 726.0 239.4C728.7 239.9 731.1 240.3 733.5 240.4C735.9 240.6 738.2 240.6 740.4 240.4C742.6 240.3 744.4 240.0 746.5 239.4C748.6 238.8 750.4 238.1 753.0 237.0C755.6 235.8 759.2 233.8 762.2 232.3C765.2 230.7 768.7 228.8 771.0 227.7C773.3 226.6 774.4 226.2 775.9 225.6C777.4 225.1 778.2 224.8 780.0 224.4C781.8 224.0 784.6 223.4 786.6 223.1C788.6 222.7 791.1 222.3 792.0 222.1 M635.0 253.3C635.9 253.0 638.4 252.2 640.7 251.4C642.9 250.5 645.8 249.6 648.5 248.3C651.2 247.1 654.3 245.3 657.1 243.8C659.9 242.4 663.1 240.7 665.5 239.8C667.9 238.8 669.7 238.4 671.7 238.1C673.6 237.8 675.3 237.8 677.3 238.0C679.3 238.2 681.4 238.4 683.5 239.2C685.6 239.9 687.7 240.7 690.0 242.4C692.3 244.0 695.0 246.8 697.4 249.2C699.8 251.6 702.3 254.6 704.4 256.8C706.5 259.0 708.1 260.7 709.7 262.4C711.3 264.1 712.7 265.6 714.0 266.9C715.3 268.3 716.3 269.6 717.3 270.5C718.3 271.4 719.1 272.3 720.0 272.6C720.9 272.8 721.7 272.6 722.5 272.3C723.3 272.0 724.1 271.4 725.0 270.7C725.9 270.1 726.8 269.3 727.8 268.5C728.8 267.7 729.8 266.8 731.0 265.9C732.2 265.1 733.8 264.2 735.2 263.4C736.8 262.6 738.4 261.8 740.0 261.2C741.6 260.6 743.1 260.2 744.8 259.8C746.5 259.4 748.3 259.2 750.0 259.0C751.7 258.8 752.8 258.7 754.8 258.6C756.8 258.5 758.2 258.5 762.0 258.5C765.8 258.6 772.8 258.7 777.8 258.8C782.8 258.9 789.6 259.1 792.0 259.2 M635.0 254.9C635.9 254.6 638.4 253.8 640.7 253.0C642.9 252.1 645.8 251.2 648.5 250.0C651.2 248.7 654.3 247.0 657.1 245.5C659.9 244.1 662.9 242.4 665.5 241.5C668.1 240.5 670.5 240.3 672.5 240.0C674.4 239.6 676.5 239.6 677.3 239.5 M635.0 321.9C636.7 322.0 641.3 322.2 644.9 322.2C648.6 322.2 653.4 322.3 657.0 322.0C660.6 321.8 663.5 321.3 666.3 320.7C669.1 320.2 671.9 319.5 674.0 318.8C676.1 318.0 677.6 317.3 679.1 316.5C680.6 315.7 681.8 314.7 683.0 313.8C684.2 312.9 685.2 312.2 686.4 311.1C687.7 310.1 688.7 309.1 690.5 307.4C692.3 305.8 695.0 303.3 697.3 301.2C699.6 299.0 702.3 296.5 704.4 294.6C706.5 292.7 708.1 291.1 709.7 289.6C711.3 288.1 712.7 286.8 714.0 285.7C715.3 284.5 716.2 283.5 717.2 282.8C718.2 282.1 719.0 281.4 720.0 281.2C721.0 281.0 722.0 281.3 723.0 281.6C724.0 281.8 725.0 282.4 726.0 282.8C727.0 283.3 728.1 283.9 729.1 284.5C730.1 285.0 731.1 285.6 732.0 285.9C732.9 286.3 733.7 286.5 734.5 286.6C735.4 286.7 736.2 286.6 737.0 286.6C737.8 286.5 738.4 286.6 739.2 286.3C740.1 286.0 740.9 285.7 742.2 284.6C743.5 283.5 745.3 281.6 747.1 279.8C748.9 278.0 751.0 275.9 753.0 274.1C755.0 272.3 757.0 270.6 759.1 269.1C761.2 267.6 763.3 266.1 765.6 265.1C767.9 264.2 770.4 263.6 772.8 263.2C775.2 262.7 777.7 262.5 780.0 262.4C782.3 262.4 784.9 262.6 786.9 262.7C788.9 262.9 791.1 263.2 792.0 263.3 M635.0 331.4C637.3 331.1 643.6 330.3 648.7 329.6C653.8 328.9 660.5 328.0 665.5 327.1C670.5 326.2 674.4 325.1 678.5 324.2C682.6 323.2 686.5 322.2 690.0 321.6C693.5 320.9 696.4 320.6 699.4 320.3C702.4 320.0 705.0 319.8 708.0 319.6C711.0 319.3 714.7 319.2 717.7 318.9C720.7 318.7 723.9 318.6 726.0 318.2C728.1 317.7 729.0 317.0 730.2 316.4C731.4 315.8 732.0 315.1 733.2 314.6C734.4 314.1 736.0 313.7 737.5 313.4C739.0 313.1 740.6 312.9 742.2 312.9C743.8 312.9 745.2 313.1 747.0 313.4C748.8 313.7 750.6 314.0 753.0 314.7C755.4 315.4 758.4 316.4 761.4 317.3C764.4 318.2 767.5 319.3 771.0 320.0C774.5 320.7 779.1 321.0 782.6 321.3C786.1 321.7 790.4 321.9 792.0 322.0 M635.0 503.0C635.4 502.9 636.5 502.8 637.5 502.6C638.6 502.3 639.9 502.0 641.0 501.4C642.2 500.8 643.3 500.2 644.6 499.1C645.8 498.1 647.1 496.9 648.6 495.1C650.1 493.3 651.7 490.8 653.5 488.2C655.2 485.7 657.0 482.7 658.9 479.6C660.8 476.5 662.8 473.0 664.8 469.6C666.7 466.2 668.8 462.4 670.8 459.1C672.8 455.8 674.7 453.1 676.6 449.7C678.6 446.4 680.5 443.3 682.7 439.2C684.8 435.0 687.2 429.8 689.5 424.8C691.7 419.8 694.1 414.4 696.3 409.2C698.4 404.0 700.5 398.6 702.5 393.6C704.5 388.6 706.4 383.5 708.1 379.3C709.8 375.0 711.3 371.5 712.7 368.1C714.1 364.7 715.5 361.8 716.6 359.0C717.7 356.2 718.6 353.7 719.4 351.4C720.3 349.2 721.0 347.1 721.7 345.2C722.5 343.2 723.0 341.4 723.7 339.7C724.5 338.0 725.2 336.5 726.2 335.0C727.2 333.6 728.3 332.2 729.8 331.0C731.2 329.8 732.7 328.7 735.0 327.9C737.3 327.0 740.4 326.5 743.4 326.0C746.4 325.5 749.9 325.2 753.0 324.9C756.1 324.6 758.8 324.4 761.8 324.2C764.8 324.0 767.5 323.9 771.0 323.8C774.5 323.7 779.1 323.7 782.6 323.6C786.1 323.6 790.4 323.6 792.0 323.6 M792.0 221.3C793.1 221.3 796.2 221.2 798.8 221.3C801.4 221.4 804.8 221.5 807.7 222.0C810.6 222.5 813.3 223.4 816.1 224.3C819.0 225.3 821.9 226.4 824.7 227.6C827.5 228.9 830.3 230.2 833.2 231.6C836.0 233.1 838.8 234.6 841.6 236.1C844.4 237.7 847.2 239.3 850.0 240.9C852.9 242.5 855.7 244.1 858.5 245.6C861.3 247.1 864.2 248.5 867.0 249.9C869.8 251.2 872.6 252.5 875.5 253.6C878.4 254.8 881.5 255.8 884.4 256.8C887.2 257.7 890.0 258.5 892.4 259.1C894.8 259.7 896.9 259.9 898.7 260.2C900.4 260.4 902.1 260.5 902.8 260.6 M792.0 222.1C793.1 222.2 796.2 222.5 798.8 222.8C801.4 223.2 804.8 223.6 807.7 224.3C810.6 225.0 813.5 226.0 816.3 227.0C819.2 228.0 822.2 229.2 824.7 230.3C827.2 231.5 829.2 232.6 831.5 233.9C833.7 235.2 835.7 236.5 838.4 238.2C841.1 239.9 844.5 242.1 847.6 244.0C850.7 246.0 854.1 248.3 856.9 250.2C859.7 252.1 861.9 253.6 864.3 255.3C866.7 257.0 868.8 258.5 871.2 260.1C873.6 261.8 876.1 263.5 878.5 265.2C880.8 266.8 883.2 268.4 885.4 270.0C887.6 271.6 889.7 273.1 891.6 274.5C893.5 275.9 895.3 277.3 896.8 278.5C898.3 279.7 899.5 280.7 900.5 281.6C901.5 282.5 902.4 283.3 902.8 283.7 M792.0 259.2C794.5 259.0 801.8 258.6 807.3 258.4C812.7 258.2 820.2 257.9 824.7 257.9C829.2 257.9 831.3 258.1 834.1 258.5C837.0 258.8 838.9 259.4 841.6 260.0C844.3 260.7 847.2 261.4 850.0 262.2C852.9 263.0 855.7 263.8 858.5 264.6C861.3 265.5 864.2 266.5 867.0 267.3C869.8 268.2 872.6 269.1 875.5 269.6C878.4 270.2 881.5 270.6 884.4 270.8C887.2 271.1 890.0 271.3 892.4 271.2C894.8 271.1 896.9 270.6 898.7 270.3C900.4 270.0 902.1 269.4 902.8 269.2 M792.0 263.3C793.1 263.3 796.2 263.3 798.8 263.4C801.4 263.5 804.8 263.6 807.7 263.8C810.6 264.1 813.3 264.4 816.1 265.0C819.0 265.5 821.8 266.1 824.7 267.0C827.6 268.0 830.4 269.4 833.3 270.7C836.1 272.0 838.9 273.6 841.6 275.0C844.3 276.5 846.9 278.0 849.4 279.5C852.0 281.0 854.4 282.5 856.9 283.8C859.4 285.2 861.7 286.5 864.1 287.7C866.5 288.9 868.8 290.0 871.2 290.9C873.6 291.9 876.3 292.8 878.7 293.5C881.0 294.2 883.5 294.8 885.4 295.1C887.3 295.5 888.6 295.6 890.0 295.7C891.5 295.7 892.5 295.6 894.0 295.3C895.5 295.0 897.5 294.2 898.9 293.7C900.4 293.1 902.2 292.3 902.8 292.0 M792.0 323.0C794.6 323.0 802.1 323.1 807.8 323.0C813.5 322.9 821.2 322.8 826.2 322.3C831.2 321.8 834.2 320.9 837.7 320.0C841.3 319.1 844.2 318.1 847.7 316.9C851.2 315.7 854.9 314.3 858.4 313.0C862.0 311.7 865.5 310.3 869.2 309.3C872.9 308.2 877.0 307.4 880.6 306.7C884.2 306.0 887.9 305.3 890.8 305.0C893.7 304.6 896.1 304.5 898.1 304.4C900.1 304.3 902.0 304.4 902.8 304.4 M902.8 260.6C903.2 260.6 904.4 260.7 905.4 260.6C906.4 260.5 907.7 260.4 908.8 260.0C909.9 259.5 910.9 258.9 912.0 258.1C913.1 257.3 914.2 256.4 915.4 255.2C916.6 254.1 918.1 252.7 919.4 251.3C920.7 249.9 922.2 248.2 923.2 247.0C924.2 245.7 924.6 244.8 925.5 243.5C926.4 242.2 927.0 241.1 928.5 239.1C930.0 237.0 932.3 233.9 934.5 231.2C936.7 228.4 939.2 225.2 941.5 222.5C943.8 219.8 945.9 217.4 948.0 215.0C950.2 212.7 952.4 210.4 954.6 208.3C956.8 206.2 959.0 204.3 961.1 202.6C963.3 200.8 965.5 199.2 967.7 197.9C969.9 196.6 972.1 195.5 974.3 194.5C976.4 193.5 978.7 192.8 980.8 192.0C982.9 191.3 984.7 190.6 986.8 190.1C989.0 189.6 990.8 189.1 993.8 188.8C996.8 188.4 1001.4 188.1 1004.8 187.9C1008.2 187.7 1012.6 187.6 1014.2 187.5 M902.8 269.8C903.6 269.7 905.6 269.4 907.3 269.1C909.0 268.7 911.2 268.3 912.8 267.6C914.4 266.9 915.5 266.0 916.8 264.9C918.1 263.9 919.4 262.7 920.6 261.3C921.8 259.9 922.9 258.5 924.2 256.7C925.5 255.0 926.8 253.3 928.5 251.0C930.2 248.8 932.5 245.9 934.7 243.3C936.8 240.7 939.3 237.7 941.5 235.2C943.7 232.6 945.9 230.2 948.0 228.0C950.2 225.8 952.4 223.7 954.6 221.9C956.8 220.2 959.0 218.8 961.1 217.5C963.3 216.2 965.5 215.2 967.7 214.1C969.9 213.1 972.1 212.1 974.3 211.2C976.4 210.3 978.7 209.5 980.8 208.8C982.9 208.1 984.7 207.5 986.8 207.0C989.0 206.4 990.8 206.0 993.8 205.6C996.8 205.1 1001.4 204.7 1004.8 204.4C1008.2 204.0 1012.6 203.7 1014.2 203.6 M902.8 292.0C903.3 291.5 904.5 290.3 905.5 289.1C906.6 287.9 907.9 286.4 909.1 284.7C910.2 283.0 911.2 281.0 912.3 279.1C913.4 277.1 914.6 274.9 915.7 272.9C916.8 270.9 917.8 268.8 918.9 266.9C920.0 264.9 921.1 262.9 922.2 261.2C923.3 259.5 924.4 258.0 925.5 256.5C926.6 255.1 927.6 253.8 928.7 252.5C929.8 251.2 930.8 250.0 931.9 249.0C933.0 247.9 934.1 246.8 935.1 246.0C936.1 245.2 936.8 244.6 937.9 243.9C938.9 243.2 939.8 242.7 941.5 242.0C943.2 241.2 945.6 240.1 947.8 239.3C950.0 238.4 952.6 237.5 954.6 236.8C956.6 236.2 958.4 235.9 960.1 235.6C961.9 235.3 963.5 235.2 965.1 235.2C966.7 235.2 968.0 235.3 969.5 235.6C971.0 235.9 972.4 236.3 974.2 237.2C976.0 238.0 978.3 239.4 980.5 240.7C982.7 241.9 985.1 243.5 987.3 244.7C989.5 246.0 991.6 247.2 993.8 248.3C996.0 249.4 998.0 250.5 1000.4 251.3C1002.8 252.1 1005.8 252.6 1008.1 253.1C1010.4 253.5 1013.2 253.9 1014.2 254.0 M902.8 283.7C903.5 284.1 905.2 285.3 906.7 286.3C908.2 287.3 910.3 288.7 912.0 289.9C913.7 291.0 914.9 291.9 916.7 293.2C918.6 294.4 920.3 295.6 923.0 297.3C925.7 299.0 929.5 301.5 933.1 303.7C936.7 305.8 940.9 308.3 944.6 310.2C948.3 312.1 951.8 313.6 955.4 315.0C958.9 316.4 962.6 317.7 966.1 318.8C969.6 319.8 973.0 320.7 976.6 321.4C980.2 322.1 983.4 322.6 987.7 323.0C992.0 323.5 997.9 323.7 1002.3 323.9C1006.7 324.1 1012.2 324.2 1014.2 324.2 M902.8 304.4C904.4 304.9 908.6 306.1 912.3 307.4C916.0 308.6 920.8 310.1 925.0 311.6C929.2 313.2 933.2 315.1 937.3 316.8C941.5 318.5 945.8 320.3 950.0 321.7C954.2 323.1 958.3 324.2 962.5 325.2C966.7 326.2 970.7 327.0 975.0 327.8C979.3 328.5 984.0 329.1 988.2 329.6C992.3 330.1 996.6 330.5 1000.0 330.8C1003.4 331.1 1006.3 331.3 1008.7 331.5C1011.0 331.7 1013.3 331.8 1014.2 331.8 M902.8 305.5C903.3 306.0 904.8 307.2 905.9 308.4C907.1 309.7 908.7 311.2 909.9 313.1C911.2 315.0 912.3 317.3 913.4 319.6C914.5 322.0 915.7 324.7 916.7 327.0C917.8 329.3 918.6 331.1 919.6 333.4C920.6 335.8 921.5 337.9 922.8 341.1C924.2 344.3 926.2 348.9 927.8 352.9C929.5 356.8 931.4 361.5 932.7 364.8C934.0 368.1 934.7 370.4 935.6 372.9C936.5 375.4 937.2 377.5 938.2 380.0C939.3 382.5 940.6 385.1 941.9 387.7C943.1 390.3 944.5 392.9 945.7 395.5C947.0 398.1 948.0 400.2 949.3 403.0C950.5 405.7 951.7 408.3 953.2 412.0C954.7 415.7 956.4 420.7 958.2 425.4C959.9 430.1 961.8 435.3 963.7 440.0C965.6 444.7 967.6 449.3 969.6 453.7C971.6 458.1 973.8 462.5 975.8 466.4C977.9 470.3 979.9 473.8 981.9 477.0C983.9 480.2 986.0 483.2 988.0 485.8C990.0 488.5 991.9 490.8 993.9 492.8C995.9 494.8 997.7 496.6 1000.0 498.0C1002.3 499.4 1005.5 500.5 1007.9 501.4C1010.2 502.2 1013.1 502.9 1014.2 503.2"/>
<path stroke="#90c3dd" d="M173.6 142.1C174.8 142.1 178.1 142.1 180.9 142.1C183.6 142.1 187.2 142.1 190.0 142.1C192.8 142.0 195.0 141.9 197.5 141.8C200.0 141.6 202.4 141.5 205.0 141.3C207.6 141.1 210.3 140.7 212.9 140.5C215.6 140.3 218.3 140.1 221.0 140.2C223.7 140.4 226.2 140.9 228.9 141.4C231.5 141.9 234.2 142.6 237.0 143.3C239.8 144.1 242.4 145.0 245.4 145.9C248.4 146.7 251.4 147.7 255.0 148.6C258.6 149.5 262.9 150.6 267.1 151.4C271.2 152.3 275.8 153.2 280.0 153.7C284.2 154.3 288.3 154.5 292.5 154.7C296.6 154.9 300.5 155.0 305.0 155.0C309.5 155.1 315.0 155.1 319.3 155.1C323.5 155.1 328.5 155.1 330.4 155.0 M173.6 167.6C175.6 167.6 181.1 167.7 185.5 167.7C189.9 167.7 195.8 167.7 200.0 167.6C204.2 167.6 207.5 167.6 211.0 167.5C214.5 167.4 217.7 167.4 221.0 167.2C224.3 167.1 227.7 166.9 230.9 166.6C234.0 166.4 237.2 166.1 240.0 165.8C242.8 165.5 245.4 165.2 247.9 164.9C250.4 164.6 252.7 164.2 255.0 163.8C257.3 163.4 259.5 163.0 261.7 162.6C263.9 162.2 265.9 161.8 268.0 161.3C270.1 160.9 272.1 160.4 274.1 160.0C276.1 159.5 278.0 159.1 280.0 158.6C282.0 158.2 283.9 157.8 285.9 157.4C287.9 157.1 290.0 156.7 292.0 156.4C294.0 156.2 295.5 156.0 297.7 155.8C299.8 155.7 301.5 155.6 305.0 155.4C308.5 155.3 314.3 155.2 318.5 155.2C322.7 155.1 328.4 155.1 330.4 155.0 M173.6 187.8C176.0 187.7 182.9 187.6 188.0 187.6C193.1 187.6 200.1 187.5 204.0 187.8C207.9 188.0 209.4 188.7 211.6 189.2C213.8 189.7 215.1 190.5 217.0 191.1C218.9 191.6 221.0 191.7 223.2 192.3C225.3 192.8 227.4 193.2 230.0 194.3C232.6 195.3 235.8 197.2 238.9 198.7C242.0 200.3 245.4 202.2 248.6 203.6C251.8 204.9 254.8 205.9 257.9 207.0C261.0 208.1 264.1 209.0 267.2 210.1C270.3 211.1 273.4 212.2 276.5 213.3C279.6 214.4 282.7 215.4 285.8 216.6C288.9 217.7 292.3 219.0 295.3 220.0C298.4 221.1 301.6 222.3 304.3 223.1C307.0 223.9 309.4 224.4 311.7 224.8C314.0 225.3 316.0 225.6 318.3 225.9C320.6 226.1 323.2 226.2 325.2 226.3C327.2 226.4 329.5 226.3 330.4 226.3 M173.6 213.9C174.5 213.8 177.0 213.6 178.8 213.3C180.6 213.0 183.2 212.7 184.6 212.2C186.0 211.8 186.6 211.2 187.4 210.7C188.2 210.1 188.7 209.4 189.5 208.7C190.3 208.1 191.1 207.3 192.0 206.6C192.8 205.9 193.6 205.1 194.4 204.3C195.2 203.6 196.0 202.8 196.8 202.1C197.6 201.4 198.4 200.6 199.2 200.0C200.0 199.3 200.8 198.7 201.6 198.1C202.5 197.5 203.3 197.0 204.1 196.6C204.9 196.1 205.7 195.8 206.5 195.5C207.4 195.2 208.2 195.0 209.0 194.8C209.8 194.7 210.5 194.6 211.4 194.6C212.2 194.6 213.0 194.7 214.0 194.9C215.0 195.0 216.1 195.4 217.2 195.7C218.4 196.1 219.7 196.6 221.0 197.1C222.3 197.7 223.8 198.3 225.3 199.0C226.8 199.7 228.4 200.4 230.0 201.1C231.6 201.9 233.4 202.6 235.0 203.4C236.7 204.2 238.5 205.0 240.0 205.8C241.5 206.5 242.6 207.2 244.1 208.0C245.5 208.8 246.7 209.5 248.6 210.7C250.5 211.8 252.9 213.5 255.2 214.9C257.5 216.3 260.2 218.0 262.5 219.0C264.8 220.1 266.9 220.7 269.2 221.3C271.5 221.9 273.7 222.4 276.5 222.9C279.3 223.4 282.7 224.0 285.8 224.5C288.8 225.0 292.3 225.4 295.0 225.7C297.7 226.0 299.5 226.2 301.8 226.4C304.2 226.6 305.9 226.6 309.0 226.7C312.1 226.8 317.0 226.8 320.6 226.8C324.1 226.8 328.8 226.7 330.4 226.7 M173.6 220.2C178.1 220.3 191.0 220.4 200.4 220.5C209.8 220.7 222.7 220.9 230.0 220.9C237.3 220.9 240.3 220.7 244.2 220.6C248.0 220.6 250.3 220.5 253.0 220.7C255.7 220.9 257.9 221.4 260.3 221.9C262.6 222.5 264.3 223.1 267.0 224.0C269.7 224.9 273.3 226.1 276.4 227.2C279.5 228.3 283.0 229.6 285.8 230.5C288.6 231.5 290.7 232.2 293.0 232.8C295.3 233.5 297.4 234.0 299.6 234.4C301.8 234.7 304.1 234.8 306.4 234.8C308.7 234.9 310.9 234.8 313.6 234.8C316.3 234.8 320.1 234.7 322.9 234.6C325.7 234.6 329.1 234.5 330.4 234.4 M173.6 241.1C175.6 241.0 181.3 240.3 185.8 240.0C190.3 239.7 196.3 239.3 200.5 239.4C204.7 239.6 207.9 240.2 211.3 240.9C214.7 241.6 217.8 242.6 220.8 243.6C223.8 244.7 226.6 246.0 229.5 247.2C232.3 248.5 234.9 249.9 237.7 251.3C240.5 252.6 243.7 254.0 246.5 255.3C249.4 256.6 252.3 257.9 254.7 258.9C257.1 259.9 258.9 260.6 260.8 261.3C262.8 262.0 264.5 262.5 266.5 263.1C268.5 263.7 270.7 264.3 272.9 264.9C275.2 265.4 277.4 266.0 280.0 266.5C282.6 267.1 285.4 267.8 288.3 268.3C291.1 268.9 294.1 269.5 297.0 269.9C299.9 270.4 302.7 270.7 305.5 271.0C308.4 271.2 311.0 271.5 314.0 271.6C317.0 271.7 320.5 271.7 323.3 271.7C326.0 271.7 329.2 271.6 330.4 271.6 M173.6 254.4C175.2 254.9 179.8 256.0 183.4 257.0C187.1 258.0 191.9 259.3 195.4 260.4C198.9 261.5 201.5 262.6 204.4 263.6C207.2 264.6 209.9 265.6 212.3 266.3C214.7 267.0 216.6 267.5 218.9 267.9C221.2 268.2 223.1 268.4 225.9 268.5C228.7 268.6 232.4 268.5 235.7 268.3C239.1 268.1 242.9 267.7 246.2 267.2C249.5 266.7 252.7 266.1 255.8 265.4C258.9 264.7 262.0 263.8 264.8 263.0C267.6 262.2 270.0 261.5 272.5 260.5C275.0 259.5 277.3 258.5 280.0 257.2C282.7 255.8 285.8 254.0 288.6 252.3C291.4 250.6 294.4 248.7 297.0 247.0C299.6 245.2 302.0 243.4 304.3 241.9C306.5 240.3 308.7 238.7 310.6 237.7C312.5 236.7 313.9 236.3 315.5 235.9C317.1 235.4 318.3 235.3 320.0 235.1C321.7 234.9 324.1 234.7 325.8 234.6C327.5 234.5 329.6 234.5 330.4 234.4 M173.6 298.5C174.8 298.4 178.2 298.2 180.9 298.1C183.7 297.9 187.2 297.7 190.0 297.4C192.8 297.2 195.3 296.7 197.6 296.5C199.9 296.2 202.2 295.9 203.9 295.9C205.6 295.9 206.6 296.2 207.6 296.5C208.6 296.8 209.2 297.3 210.0 297.7C210.8 298.2 211.4 298.5 212.1 299.1C212.7 299.6 213.3 300.3 214.0 301.0C214.7 301.8 215.5 302.7 216.3 303.8C217.2 304.9 218.0 306.0 219.0 307.5C220.0 308.9 221.2 310.6 222.4 312.4C223.5 314.1 224.9 316.3 226.0 318.0C227.0 319.7 227.8 320.7 228.9 322.7C230.0 324.7 231.0 326.4 232.8 330.0C234.5 333.6 237.0 339.2 239.4 344.4C241.8 349.7 244.5 355.9 247.1 361.5C249.6 367.1 252.0 372.2 254.5 377.8C257.0 383.2 259.5 388.7 262.1 394.5C264.6 400.3 267.3 406.5 269.8 412.4C272.3 418.3 274.9 424.4 277.1 430.0C279.2 435.6 281.0 440.7 282.9 445.8C284.8 451.0 286.5 455.8 288.6 461.0C290.6 466.2 293.0 471.9 295.3 476.9C297.5 481.9 299.9 487.0 302.1 491.0C304.2 495.0 306.4 498.1 308.4 500.9C310.4 503.7 312.4 506.0 314.0 507.8C315.7 509.7 317.1 511.0 318.5 512.1C319.9 513.2 321.0 513.9 322.4 514.6C323.8 515.3 325.6 515.8 326.9 516.3C328.3 516.7 329.8 516.9 330.4 517.1 M173.6 494.0C174.1 494.0 175.5 494.0 176.8 493.6C178.0 493.3 179.6 493.0 181.0 492.1C182.4 491.2 183.7 489.7 185.1 488.1C186.5 486.5 188.0 484.5 189.5 482.7C191.0 481.0 192.4 479.6 194.1 477.5C195.8 475.3 197.6 472.9 199.7 470.0C201.8 467.1 203.9 464.4 206.5 459.9C209.2 455.4 211.8 451.3 215.7 443.0C219.6 434.7 225.4 421.0 230.2 409.9C235.0 398.7 240.7 385.0 244.5 376.0C248.3 367.0 250.8 361.6 253.2 356.1C255.6 350.6 257.5 346.5 259.0 343.0C260.5 339.5 261.5 337.4 262.4 335.2C263.3 333.0 263.8 331.9 264.4 330.0C265.0 328.1 265.6 326.0 266.2 324.0C266.8 322.0 267.3 320.1 268.2 318.0C269.1 315.9 270.3 313.6 271.4 311.4C272.5 309.2 273.9 306.9 275.0 305.0C276.1 303.1 277.1 301.5 278.2 299.7C279.3 298.0 280.4 296.5 281.8 294.4C283.2 292.3 285.1 289.5 286.8 287.3C288.5 285.0 290.5 282.4 292.0 280.8C293.5 279.2 294.6 278.3 296.0 277.5C297.4 276.6 298.6 276.1 300.4 275.5C302.2 274.9 304.4 274.4 306.7 273.9C309.0 273.5 311.4 273.2 314.0 273.0C316.6 272.9 319.4 272.9 322.1 272.9C324.9 272.8 327.8 273.0 330.4 272.9C333.0 272.8 335.4 272.6 337.9 272.4C340.3 272.2 342.5 272.0 345.0 271.9C347.5 271.8 350.5 271.7 352.9 271.7C355.2 271.6 357.9 271.6 358.9 271.6 M173.6 506.6C174.4 506.4 176.7 506.0 178.5 505.3C180.3 504.6 182.7 503.8 184.6 502.3C186.5 500.9 188.1 498.6 189.7 496.5C191.3 494.4 192.9 491.9 194.4 489.6C195.9 487.3 197.3 485.0 198.6 482.9C199.9 480.7 201.3 478.3 202.2 476.9C203.1 475.4 203.2 475.5 203.9 474.3C204.6 473.2 205.1 472.4 206.5 470.0C207.9 467.7 209.9 464.8 212.3 460.3C214.7 455.8 217.3 451.4 221.0 443.0C224.7 434.6 230.0 421.0 234.5 409.9C239.0 398.7 244.3 385.0 248.0 376.0C251.7 367.0 254.2 361.6 256.6 356.1C259.0 350.6 261.0 346.5 262.5 343.0C264.0 339.5 264.8 337.2 265.6 335.1C266.5 332.9 266.8 331.7 267.5 330.0C268.2 328.3 268.9 326.7 269.6 325.0C270.4 323.3 271.1 321.9 272.0 320.0C272.9 318.1 274.1 315.9 275.2 313.7C276.4 311.5 277.7 309.2 279.0 307.0C280.3 304.8 281.8 302.4 283.3 300.3C284.8 298.1 286.4 295.9 288.0 294.0C289.6 292.1 291.1 290.4 292.8 288.8C294.4 287.2 296.2 285.8 298.0 284.5C299.8 283.2 301.6 282.0 303.7 281.1C305.8 280.1 307.8 279.2 310.6 278.6C313.4 278.0 317.1 277.6 320.4 277.4C323.7 277.1 327.5 277.0 330.4 277.0C333.3 277.0 335.6 277.1 338.1 277.4C340.5 277.6 342.5 277.9 345.0 278.3C347.5 278.7 350.5 279.4 352.9 280.0C355.2 280.5 357.9 281.2 358.9 281.5 M173.6 524.0C174.5 523.8 176.9 523.4 178.7 522.9C180.6 522.4 183.1 521.8 184.6 521.2C186.1 520.6 186.8 520.2 187.8 519.3C188.8 518.5 189.6 517.7 190.6 516.3C191.6 514.9 192.9 513.0 194.1 510.9C195.3 508.9 196.5 506.6 197.7 504.1C198.9 501.6 200.1 498.9 201.3 496.1C202.4 493.4 203.7 490.3 204.8 487.5C205.9 484.7 206.8 482.3 207.9 479.4C209.1 476.5 210.2 473.3 211.7 470.0C213.2 466.7 214.8 464.1 216.9 459.6C219.0 455.1 221.1 451.3 224.5 443.0C228.0 434.7 233.2 421.0 237.6 409.9C242.1 398.7 247.3 385.0 251.0 376.0C254.7 367.0 257.4 361.6 259.9 356.1C262.4 350.6 264.5 346.5 266.0 343.0C267.5 339.5 268.2 337.1 269.0 335.0C269.7 332.8 270.0 331.6 270.6 330.0C271.3 328.4 272.1 327.0 273.0 325.6C273.8 324.2 274.6 323.0 275.5 321.4C276.5 319.8 277.6 317.6 278.7 315.7C279.8 313.8 281.0 311.7 282.0 310.0C283.1 308.3 284.0 307.1 285.0 305.6C286.1 304.2 287.1 302.9 288.5 301.1C289.9 299.3 291.6 296.8 293.3 294.7C295.0 292.6 296.9 290.3 298.7 288.5C300.5 286.8 302.1 285.5 304.1 284.3C306.0 283.1 307.7 282.1 310.6 281.3C313.5 280.6 317.9 280.1 321.2 279.7C324.5 279.2 328.9 279.0 330.4 278.9 M173.6 525.9C177.0 525.6 186.2 525.0 194.0 524.5C201.9 524.0 212.1 523.4 220.8 522.9C229.5 522.4 238.0 522.0 246.5 521.6C255.0 521.1 263.5 520.8 271.6 520.4C279.7 520.0 287.9 519.6 294.9 519.2C302.0 518.9 309.0 518.5 314.0 518.3C319.0 518.0 322.1 517.8 324.9 517.6C327.6 517.5 329.5 517.3 330.4 517.3 M330.4 155.0C339.6 155.0 367.2 154.9 385.6 154.8C404.0 154.7 431.6 154.6 440.8 154.5 M330.4 226.3C331.9 226.2 336.0 225.9 339.3 225.6C342.7 225.2 347.1 224.7 350.4 224.0C353.7 223.3 356.2 222.3 359.0 221.3C361.9 220.4 364.5 219.2 367.3 218.1C370.1 217.0 373.0 215.8 375.8 214.6C378.6 213.5 381.5 212.3 384.3 211.3C387.1 210.3 389.9 209.4 392.8 208.6C395.6 207.8 398.4 207.0 401.2 206.3C404.0 205.6 406.5 205.0 409.3 204.4C412.1 203.8 414.6 203.3 418.1 202.9C421.6 202.5 426.7 202.1 430.5 201.8C434.3 201.6 439.1 201.3 440.8 201.2 M330.4 234.4C331.9 234.7 336.0 235.2 339.3 235.9C342.7 236.6 347.1 237.4 350.4 238.5C353.7 239.7 356.2 241.1 359.0 242.7C361.9 244.2 364.5 246.0 367.3 247.8C370.1 249.7 373.0 251.6 375.8 253.6C378.6 255.6 381.5 257.7 384.3 259.7C387.1 261.7 389.9 263.8 392.8 265.7C395.6 267.7 398.3 269.6 401.2 271.5C404.1 273.4 407.1 275.4 410.0 277.1C412.8 278.8 415.7 280.6 418.1 281.8C420.5 283.0 422.4 283.7 424.4 284.4C426.4 285.1 428.0 285.5 430.0 286.0C432.0 286.5 434.3 287.0 436.1 287.3C437.9 287.7 440.0 288.0 440.8 288.1 M330.4 271.6C331.5 271.5 334.4 271.2 336.8 271.0C339.3 270.9 342.5 270.7 345.0 270.6C347.5 270.5 349.5 270.4 351.8 270.4C354.1 270.5 356.3 270.6 358.9 271.1C361.5 271.5 364.3 272.2 367.2 273.1C370.0 273.9 373.0 275.0 375.8 276.2C378.6 277.4 381.4 278.9 384.2 280.4C387.1 282.0 389.9 283.7 392.7 285.5C395.5 287.4 398.4 289.6 401.2 291.6C404.0 293.6 406.8 295.8 409.7 297.5C412.6 299.3 415.5 300.7 418.3 302.1C421.1 303.5 423.9 304.8 426.6 305.9C429.3 307.1 432.4 308.2 434.8 309.1C437.1 310.0 439.8 310.9 440.8 311.2 M330.4 278.9C331.5 278.9 334.4 278.9 336.8 279.0C339.3 279.2 342.5 279.3 345.0 279.5C347.5 279.8 349.5 279.9 351.8 280.3C354.1 280.7 356.4 281.2 358.9 282.0C361.4 282.9 364.2 284.0 367.0 285.4C369.8 286.8 372.7 288.4 375.8 290.5C378.9 292.6 382.2 295.4 385.4 298.2C388.7 301.0 392.1 304.2 395.1 307.1C398.1 310.1 400.9 312.9 403.7 316.1C406.5 319.2 409.1 322.2 412.0 325.9C414.9 329.6 418.0 334.2 420.8 338.2C423.7 342.2 426.5 346.5 429.0 349.9C431.5 353.3 434.0 356.2 436.0 358.7C437.9 361.1 440.0 363.4 440.8 364.4 M330.4 517.1C331.1 517.0 332.9 517.0 334.4 516.8C335.9 516.7 337.8 516.6 339.3 516.3C340.8 516.0 341.8 515.6 343.1 515.1C344.4 514.6 345.7 514.0 347.0 513.4C348.3 512.8 349.5 512.4 351.1 511.5C352.6 510.5 354.1 509.6 356.3 507.8C358.5 506.0 361.7 503.3 364.5 500.4C367.3 497.6 370.6 494.3 373.2 490.9C375.8 487.5 378.0 483.8 380.3 479.9C382.6 476.1 384.7 472.0 387.0 467.9C389.3 463.9 391.8 459.7 394.2 455.6C396.5 451.4 399.0 447.1 401.2 442.9C403.4 438.8 405.5 434.8 407.6 430.6C409.7 426.5 411.8 422.4 414.0 417.9C416.2 413.5 418.7 408.6 421.0 404.0C423.3 399.3 425.6 394.7 428.0 389.9C430.4 385.2 433.1 379.7 435.3 375.4C437.4 371.2 439.9 366.3 440.8 364.4 M440.8 153.7C442.3 153.2 446.3 151.8 449.6 150.7C452.9 149.6 457.2 148.1 460.5 146.9C463.8 145.8 466.3 144.7 469.1 143.7C471.9 142.8 474.6 141.8 477.4 141.0C480.2 140.3 483.0 139.6 485.8 139.2C488.7 138.7 491.5 138.3 494.3 138.2C497.1 138.1 500.0 138.3 502.8 138.5C505.6 138.7 508.5 139.0 511.3 139.4C514.1 139.8 516.6 140.3 519.4 140.8C522.2 141.2 524.6 141.7 528.2 142.1C531.8 142.4 536.9 142.5 540.8 142.7C544.6 142.8 549.5 142.9 551.2 143.0 M440.8 154.5C442.3 154.9 446.3 156.0 449.6 156.8C452.9 157.7 457.2 158.8 460.5 159.6C463.8 160.5 466.3 161.1 469.1 161.8C471.9 162.4 474.6 163.1 477.4 163.5C480.2 164.0 483.0 164.4 485.8 164.7C488.7 165.0 491.7 165.3 494.3 165.5C496.9 165.8 498.5 166.1 501.4 166.3C504.2 166.5 506.1 166.7 511.3 166.9C516.5 167.1 525.7 167.4 532.3 167.6C539.0 167.8 548.1 168.0 551.2 168.0 M440.8 201.2C442.3 201.0 446.3 200.4 449.6 200.0C452.9 199.5 457.2 199.0 460.5 198.6C463.8 198.2 466.3 198.0 469.1 197.8C471.9 197.7 474.6 197.6 477.4 197.8C480.2 198.0 483.0 198.6 485.8 199.1C488.7 199.7 491.5 200.5 494.3 201.2C497.1 201.9 500.0 202.6 502.8 203.4C505.6 204.2 508.5 205.0 511.3 205.9C514.1 206.7 516.6 207.7 519.4 208.7C522.2 209.6 524.6 210.5 528.2 211.4C531.8 212.2 536.9 213.0 540.8 213.7C544.6 214.4 549.5 215.1 551.2 215.4 M440.8 201.2C442.3 201.6 446.3 202.6 449.6 203.3C452.9 204.0 457.2 205.0 460.5 205.5C463.8 206.0 466.7 206.1 469.5 206.2C472.4 206.3 475.1 206.2 477.4 206.1C479.7 206.0 481.4 205.7 483.1 205.5C484.8 205.2 486.4 204.9 487.6 204.7C488.8 204.5 489.4 204.3 490.5 204.3C491.6 204.3 492.4 204.2 494.3 204.7C496.2 205.2 499.3 206.2 502.2 207.2C505.0 208.2 508.4 209.4 511.3 210.5C514.2 211.6 516.6 212.7 519.4 213.8C522.2 214.8 524.6 215.9 528.2 216.8C531.8 217.7 536.9 218.6 540.8 219.3C544.6 220.0 549.5 220.7 551.2 221.0 M440.8 287.7C441.2 287.2 442.3 285.9 443.3 284.5C444.3 283.0 445.5 281.3 446.8 278.8C448.1 276.4 449.4 273.2 450.8 270.0C452.2 266.9 453.8 263.2 455.2 260.0C456.6 256.7 458.0 253.5 459.4 250.4C460.8 247.2 462.2 244.1 463.6 241.1C465.0 238.1 466.3 235.2 467.7 232.4C469.1 229.6 470.4 226.9 472.0 224.3C473.6 221.7 475.4 219.0 477.1 216.5C478.9 214.1 480.7 211.7 482.5 209.6C484.3 207.5 486.0 205.6 487.8 203.9C489.5 202.1 491.2 200.5 493.0 199.1C494.8 197.6 496.5 196.1 498.2 194.9C500.0 193.7 501.8 192.5 503.5 191.7C505.2 190.8 507.0 190.2 508.8 189.7C510.5 189.2 512.4 188.9 514.0 188.6C515.6 188.3 516.5 188.0 518.2 187.8C520.0 187.7 521.1 187.6 524.5 187.6C527.9 187.6 534.1 187.7 538.5 187.8C543.0 187.9 549.1 188.1 551.2 188.2 M440.8 311.2C441.0 310.9 441.5 309.9 441.9 309.0C442.4 308.0 443.0 306.9 443.5 305.7C444.1 304.5 444.6 303.2 445.2 301.8C445.8 300.5 446.4 299.0 447.1 297.6C447.7 296.3 448.3 295.0 449.0 293.6C449.6 292.2 450.3 290.8 451.1 289.3C451.8 287.7 452.7 286.0 453.5 284.3C454.3 282.6 455.2 280.9 456.1 279.1C457.0 277.3 457.9 275.3 458.8 273.5C459.7 271.7 460.7 269.9 461.6 268.3C462.5 266.7 463.2 265.3 464.1 264.0C464.9 262.6 465.8 261.3 466.6 260.1C467.4 258.8 468.1 257.6 469.0 256.4C469.9 255.1 470.7 254.0 472.1 252.6C473.4 251.1 475.3 249.3 477.0 247.7C478.7 246.1 480.7 244.4 482.5 243.1C484.3 241.8 486.0 240.9 487.8 240.0C489.5 239.1 491.3 238.4 493.0 237.8C494.8 237.2 496.5 236.8 498.3 236.5C500.0 236.1 501.8 235.9 503.5 235.7C505.2 235.6 507.0 235.5 508.8 235.5C510.5 235.5 512.2 235.5 514.0 235.7C515.8 235.9 517.5 236.3 519.2 236.6C521.0 237.0 522.8 237.4 524.5 237.8C526.2 238.3 527.6 238.8 529.4 239.2C531.1 239.6 532.6 240.1 535.0 240.4C537.4 240.8 541.1 241.0 543.8 241.2C546.5 241.4 550.0 241.6 551.2 241.6 M440.8 364.4C441.2 363.6 442.2 361.3 443.0 359.4C443.9 357.5 445.0 354.9 446.0 352.9C447.0 350.9 447.8 349.2 448.8 347.4C449.8 345.6 450.8 343.8 451.9 341.9C453.0 340.1 454.2 338.3 455.4 336.5C456.7 334.6 458.0 332.8 459.3 331.0C460.6 329.1 462.0 327.3 463.5 325.5C464.9 323.6 466.4 321.8 468.0 320.0C469.6 318.1 471.2 316.3 472.9 314.4C474.5 312.6 476.2 310.8 477.9 308.8C479.6 306.7 481.4 304.4 483.0 302.4C484.6 300.3 486.3 298.0 487.5 296.4C488.7 294.9 489.3 294.0 490.2 292.8C491.1 291.6 491.7 290.8 493.0 289.1C494.3 287.5 496.2 285.1 497.9 283.0C499.7 280.9 501.7 278.5 503.5 276.5C505.3 274.5 507.0 272.7 508.8 271.0C510.5 269.2 512.2 267.5 514.0 266.0C515.8 264.5 517.5 263.2 519.2 262.0C521.0 260.8 522.8 259.7 524.5 258.7C526.2 257.8 527.6 257.0 529.4 256.3C531.1 255.7 532.6 255.1 535.0 254.7C537.4 254.3 541.1 254.1 543.8 254.0C546.5 253.8 550.0 253.8 551.2 253.7 M478.0 309.0C478.3 308.7 479.2 307.9 479.9 307.2C480.7 306.6 481.6 305.7 482.5 305.0C483.4 304.2 484.3 303.6 485.2 302.9C486.1 302.2 487.2 301.5 488.0 300.9C488.8 300.3 489.4 299.9 490.2 299.4C491.0 298.9 491.7 298.5 493.0 297.9C494.3 297.3 496.2 296.5 497.9 295.9C499.7 295.3 501.7 294.6 503.5 294.1C505.3 293.7 507.0 293.4 508.8 293.2C510.5 293.0 512.2 292.9 514.0 292.9C515.8 293.0 517.5 293.3 519.2 293.6C521.0 293.9 522.8 294.3 524.5 294.7C526.2 295.1 527.6 295.6 529.4 296.0C531.1 296.4 532.6 296.9 535.0 297.2C537.4 297.6 541.1 297.9 543.8 298.1C546.5 298.4 550.0 298.6 551.2 298.7 M440.8 288.1C441.1 288.9 442.1 291.1 442.9 292.9C443.7 294.6 444.7 297.0 445.5 298.8C446.3 300.5 446.9 301.9 447.7 303.5C448.4 305.0 449.2 306.4 450.0 308.0C450.8 309.6 451.8 311.4 452.7 312.9C453.7 314.5 454.7 316.0 455.6 317.3C456.5 318.6 457.4 319.7 458.3 320.5C459.2 321.4 460.1 322.2 461.0 322.6C461.9 323.0 462.8 323.0 463.6 322.9C464.4 322.8 465.2 322.6 466.0 322.0C466.8 321.5 467.6 320.5 468.3 319.7C469.0 319.0 469.7 317.9 470.0 317.5 M440.8 311.2C441.1 311.8 441.8 313.4 442.4 314.7C443.0 316.1 443.9 317.9 444.5 319.2C445.1 320.5 445.6 321.4 446.2 322.6C446.8 323.9 447.4 325.0 448.2 326.6C449.0 328.3 450.0 330.5 451.0 332.6C451.9 334.7 453.0 337.0 454.0 339.0C454.9 341.0 455.8 342.9 456.7 344.7C457.7 346.5 458.7 348.7 459.4 350.0C460.2 351.3 460.3 351.2 461.2 352.8C462.0 354.2 462.5 354.9 464.5 359.0C466.5 363.1 470.1 370.6 473.2 377.1C476.3 383.6 480.1 391.6 483.0 398.0C485.9 404.4 488.4 410.3 490.8 415.6C493.1 421.0 495.3 426.4 496.9 430.0C498.5 433.6 499.2 435.3 500.1 437.5C501.1 439.7 501.6 440.9 502.6 443.0C503.6 445.1 504.7 447.7 506.0 450.3C507.3 453.0 508.6 455.6 510.2 458.8C511.8 462.1 513.9 466.2 515.9 469.8C517.9 473.5 520.1 477.6 522.1 480.8C524.2 484.1 526.2 486.8 528.1 489.3C530.1 491.9 532.1 494.2 534.0 496.1C535.8 498.0 537.7 499.4 539.4 500.7C541.1 502.0 542.7 503.0 544.2 503.8C545.7 504.6 547.2 505.2 548.3 505.6C549.5 506.0 550.7 506.3 551.2 506.4 M464.0 343.0C464.3 343.4 465.1 344.4 465.8 345.4C466.6 346.4 467.6 347.9 468.5 349.0C469.4 350.1 469.9 350.3 471.0 351.9C472.2 353.6 473.1 354.8 475.3 359.0C477.5 363.2 481.1 370.6 484.2 377.1C487.3 383.6 491.1 391.6 493.9 398.0C496.7 404.4 498.9 410.3 501.0 415.6C503.1 421.0 505.0 426.3 506.5 430.0C508.0 433.7 509.1 435.6 510.2 437.7C511.3 439.9 512.1 441.1 513.0 443.0C513.9 444.9 514.6 447.1 515.4 449.2C516.3 451.2 517.0 453.2 518.0 455.4C519.0 457.6 520.3 460.0 521.6 462.2C522.9 464.5 524.2 466.8 525.6 469.0C527.0 471.2 528.3 473.2 529.7 475.2C531.1 477.1 532.6 479.0 534.0 480.8C535.4 482.6 536.8 484.4 538.2 486.0C539.6 487.5 541.0 489.0 542.5 490.2C544.0 491.3 545.9 492.1 547.4 492.8C548.8 493.5 550.6 494.1 551.2 494.3 M440.8 364.5C441.5 365.6 443.2 368.6 444.8 371.1C446.3 373.7 448.3 377.2 450.1 380.0C451.8 382.8 453.3 384.8 455.1 387.8C456.8 390.7 458.5 393.3 460.6 397.7C462.7 402.1 465.2 408.7 467.5 414.0C469.7 419.4 472.3 426.0 474.1 430.0C475.9 434.0 477.1 435.6 478.5 438.1C479.9 440.5 481.0 441.8 482.6 444.5C484.2 447.2 486.2 450.9 488.0 454.1C489.8 457.3 491.8 460.9 493.5 463.9C495.2 466.9 496.7 469.5 498.3 472.2C499.9 474.8 501.3 477.3 503.1 480.0C504.9 482.7 506.9 485.6 508.8 488.3C510.8 491.0 512.8 493.7 514.6 496.0C516.3 498.2 517.8 500.0 519.4 501.9C521.0 503.7 522.4 505.3 524.1 506.9C525.7 508.6 527.4 510.4 529.1 511.9C530.7 513.5 532.4 515.0 534.0 516.3C535.6 517.6 537.1 518.7 538.6 519.7C540.1 520.7 541.5 521.6 543.0 522.4C544.5 523.1 546.3 523.8 547.7 524.3C549.0 524.9 550.6 525.3 551.2 525.6 M551.2 143.0C552.1 143.0 554.4 143.0 556.5 143.3C558.6 143.6 561.3 143.9 563.9 144.6C566.5 145.3 569.3 146.4 572.1 147.7C574.9 149.0 577.9 150.4 580.8 152.2C583.7 153.9 586.4 156.1 589.2 158.2C592.1 160.3 594.8 162.6 597.7 164.9C600.6 167.1 603.6 169.4 606.4 171.5C609.2 173.6 612.1 175.8 614.7 177.6C617.3 179.3 619.8 180.8 622.1 182.0C624.3 183.3 626.5 184.4 628.2 185.2C629.9 185.9 631.3 186.2 632.4 186.5C633.6 186.8 634.6 186.8 635.0 186.9 M551.2 168.0C551.9 168.1 553.6 168.2 555.1 168.6C556.7 169.1 558.6 169.4 560.5 170.5C562.4 171.6 564.5 173.5 566.5 175.2C568.5 176.9 570.6 179.1 572.4 180.8C574.1 182.5 575.6 184.0 577.0 185.5C578.4 187.1 579.8 188.7 580.9 190.1C581.9 191.6 582.4 192.5 583.2 194.1C584.1 195.6 584.5 196.9 586.0 199.4C587.4 202.0 589.8 206.0 591.8 209.3C593.7 212.7 596.1 216.8 597.8 219.8C599.4 222.7 600.4 224.8 601.6 227.0C602.7 229.3 603.6 231.3 604.6 233.4C605.5 235.5 606.3 237.2 607.1 239.4C608.0 241.7 608.7 243.7 609.7 246.9C610.6 250.1 611.7 254.6 612.8 258.9C614.0 263.1 615.1 267.9 616.4 272.3C617.8 276.7 619.2 281.3 620.6 285.5C622.0 289.8 623.5 294.1 624.8 297.7C626.2 301.3 627.4 304.5 628.6 307.3C629.7 310.2 630.8 312.7 631.6 314.7C632.5 316.7 633.2 318.1 633.8 319.3C634.3 320.5 634.8 321.4 635.0 321.8 M551.2 188.2C553.6 188.3 560.5 188.8 565.4 189.2C570.4 189.5 577.3 190.0 580.8 190.3C584.3 190.6 585.0 190.8 586.5 191.0C588.0 191.2 588.5 191.4 590.0 191.6C591.5 191.9 593.8 192.2 595.8 192.4C597.8 192.7 599.9 193.0 602.0 193.1C604.1 193.2 606.3 193.3 608.5 193.3C610.6 193.3 612.8 193.2 614.7 193.1C616.6 192.9 618.3 192.6 620.0 192.3C621.7 192.0 623.2 191.6 625.0 191.1C626.8 190.5 629.0 189.7 630.6 189.1C632.3 188.5 634.3 187.6 635.0 187.4 M551.2 215.4C551.8 215.2 553.5 214.6 554.8 214.2C556.2 213.7 558.0 213.0 559.2 212.4C560.4 211.8 561.3 211.2 562.3 210.5C563.3 209.9 564.1 209.1 565.0 208.5C565.9 207.8 566.7 207.1 567.5 206.4C568.4 205.7 569.1 205.0 570.0 204.2C570.9 203.4 571.8 202.5 572.7 201.7C573.6 200.8 574.6 199.9 575.5 199.0C576.4 198.1 577.2 197.2 578.0 196.3C578.9 195.4 579.7 194.5 580.8 193.6C581.9 192.7 583.2 191.7 584.4 190.8C585.6 189.9 586.9 189.0 588.0 188.3C589.1 187.6 589.9 187.2 590.9 186.8C591.9 186.4 592.8 186.1 594.0 185.8C595.2 185.5 596.8 185.1 598.3 184.9C599.7 184.6 601.3 184.4 602.8 184.5C604.3 184.5 605.6 184.8 607.0 185.1C608.4 185.4 609.7 185.9 611.0 186.4C612.3 187.0 613.5 187.7 614.6 188.5C615.8 189.2 617.0 190.1 618.1 190.9C619.2 191.7 620.4 192.6 621.5 193.4C622.6 194.3 623.6 195.1 624.8 196.0C626.0 196.9 627.3 198.0 628.4 198.8C629.5 199.7 630.7 200.6 631.6 201.2C632.5 201.8 633.2 202.1 633.7 202.4C634.3 202.6 634.8 202.8 635.0 202.9 M551.2 253.7C552.8 253.5 557.4 253.1 560.9 252.6C564.4 252.2 569.2 251.6 572.3 250.9C575.4 250.3 577.4 249.6 579.7 248.8C581.9 247.9 583.8 247.1 585.9 245.9C588.0 244.8 590.3 243.4 592.2 242.0C594.2 240.7 596.2 239.2 597.7 238.0C599.2 236.8 600.3 236.0 601.4 235.0C602.5 233.9 603.4 233.0 604.6 231.7C605.7 230.4 607.0 228.7 608.2 227.1C609.5 225.5 610.8 223.7 612.1 222.0C613.4 220.3 614.7 218.5 616.0 216.8C617.4 215.1 618.7 213.4 620.1 212.0C621.4 210.6 622.8 209.4 624.1 208.3C625.5 207.2 626.7 206.2 628.0 205.5C629.4 204.8 630.9 204.2 632.0 203.8C633.2 203.4 634.5 203.0 635.0 202.9 M551.2 221.0C551.8 220.9 553.5 220.5 555.0 220.2C556.4 219.9 558.4 219.5 560.0 219.0C561.6 218.5 563.2 217.7 564.9 217.2C566.5 216.6 568.2 216.0 570.0 215.8C571.8 215.7 573.8 216.1 575.6 216.5C577.4 216.9 579.3 217.5 580.8 218.1C582.3 218.6 583.3 219.1 584.5 219.8C585.7 220.4 586.6 221.1 588.0 222.1C589.4 223.0 591.3 224.3 592.9 225.5C594.5 226.7 596.3 228.0 597.7 229.1C599.1 230.1 599.9 230.7 601.1 231.6C602.2 232.5 603.1 233.2 604.5 234.3C605.9 235.3 607.7 236.6 609.4 237.9C611.1 239.2 613.0 240.5 614.7 242.0C616.4 243.4 618.1 245.0 619.8 246.4C621.4 247.8 623.0 249.2 624.8 250.4C626.6 251.5 628.8 252.3 630.5 253.0C632.2 253.8 634.3 254.4 635.0 254.7 M551.2 241.6C552.8 241.8 557.4 242.3 560.9 242.8C564.4 243.3 569.2 243.9 572.3 244.5C575.4 245.1 577.4 245.6 579.7 246.3C581.9 247.0 583.8 247.7 585.9 248.7C588.0 249.7 590.1 251.0 592.1 252.4C594.1 253.8 596.0 255.4 597.7 257.1C599.4 258.9 600.8 260.8 602.2 262.7C603.6 264.7 604.9 266.8 606.3 269.0C607.6 271.2 609.1 273.4 610.5 275.7C611.9 278.1 613.4 280.5 614.8 283.0C616.2 285.5 617.6 288.2 619.0 290.8C620.4 293.5 621.7 296.2 623.2 299.0C624.6 301.8 626.3 305.1 627.7 307.9C629.1 310.6 630.6 313.5 631.7 315.5C632.7 317.5 633.3 318.6 633.9 319.7C634.5 320.7 634.9 321.4 635.1 321.8 M551.2 298.7C552.8 298.4 557.2 297.8 560.7 297.1C564.2 296.3 568.9 295.4 572.3 294.3C575.7 293.3 578.2 292.0 581.1 290.6C583.9 289.1 586.5 287.6 589.3 285.9C592.1 284.1 595.3 282.0 598.1 280.0C600.9 278.0 603.8 275.8 606.2 274.0C608.6 272.1 610.6 270.4 612.6 268.7C614.6 267.0 616.3 265.4 618.1 263.9C619.9 262.3 621.8 260.7 623.5 259.3C625.2 258.0 626.7 256.6 628.2 255.8C629.7 254.9 631.1 254.5 632.2 254.1C633.4 253.7 634.5 253.6 635.0 253.5 M551.2 494.3C552.2 494.3 554.8 494.2 556.9 494.0C559.0 493.7 561.8 493.5 563.9 492.8C566.0 492.1 567.6 491.2 569.3 490.0C571.0 488.9 572.6 487.5 574.0 485.9C575.4 484.4 576.4 482.7 577.5 480.7C578.6 478.7 579.5 476.7 580.8 474.0C582.0 471.3 583.6 467.8 585.1 464.7C586.5 461.6 588.1 457.8 589.3 455.4C590.4 453.0 591.1 452.4 592.1 450.3C593.2 448.3 593.9 447.1 595.5 443.0C597.0 438.9 599.4 431.9 601.4 425.7C603.5 419.6 605.9 412.0 607.8 406.2C609.6 400.4 610.9 395.7 612.4 390.7C613.9 385.6 615.2 381.1 617.0 375.7C618.7 370.3 621.0 363.8 622.9 358.4C624.8 353.1 626.9 347.3 628.5 343.5C630.1 339.7 631.4 337.6 632.5 335.6C633.5 333.6 634.6 332.3 635.0 331.7 M551.2 506.4C552.2 506.6 554.9 507.2 557.0 507.4C559.1 507.7 562.0 508.0 563.9 508.0C565.8 508.0 567.0 507.9 568.4 507.3C569.8 506.7 570.9 506.1 572.3 504.5C573.7 502.9 575.2 500.3 576.6 497.8C578.1 495.2 579.6 492.0 580.8 489.3C582.0 486.6 582.8 484.5 584.0 481.7C585.1 478.8 586.0 476.1 587.6 472.3C589.2 468.5 591.3 463.8 593.3 458.9C595.3 454.0 597.6 448.7 599.7 443.0C601.8 437.3 603.9 430.8 605.9 424.7C607.9 418.5 610.0 411.9 611.8 406.2C613.6 400.5 614.9 395.6 616.5 390.5C618.0 385.4 619.3 380.8 621.0 375.7C622.7 370.6 625.0 364.7 626.8 359.8C628.6 354.8 630.6 349.7 631.8 346.0C633.0 342.3 633.5 339.8 634.1 337.6C634.6 335.5 634.8 333.8 635.0 333.0 M551.2 525.6C551.9 525.4 553.8 525.2 555.3 524.8C556.9 524.3 558.9 523.8 560.5 522.9C562.1 522.0 563.4 520.6 564.8 519.3C566.2 517.9 567.6 516.4 569.0 514.8C570.4 513.2 571.9 511.3 573.3 509.8C574.7 508.3 576.1 506.5 577.4 505.6C578.7 504.6 579.7 504.4 580.9 504.1C582.2 503.8 583.4 503.9 585.0 503.7C586.6 503.6 588.1 503.4 590.2 503.3C592.4 503.2 594.3 503.1 597.7 503.0C601.1 503.0 606.2 502.9 610.5 502.9C614.7 502.8 619.7 502.8 623.1 502.7C626.5 502.7 628.7 502.5 630.6 502.5C632.6 502.4 634.3 502.3 635.0 502.2 M635.0 186.9C635.9 186.9 638.4 187.0 640.7 187.1C642.9 187.3 645.8 187.5 648.5 187.8C651.2 188.1 654.0 188.5 656.8 189.1C659.6 189.6 662.6 190.2 665.5 191.1C668.4 191.9 671.1 193.0 674.0 194.2C676.8 195.3 679.6 196.6 682.4 197.9C685.2 199.2 688.0 200.7 690.8 202.1C693.7 203.5 696.5 205.0 699.3 206.4C702.1 207.8 705.0 209.2 707.8 210.4C710.6 211.7 713.5 213.0 716.3 214.0C719.1 215.0 721.9 215.7 724.8 216.4C727.6 217.1 730.4 217.7 733.2 218.1C736.0 218.6 738.9 218.8 741.7 219.1C744.5 219.4 747.4 219.5 750.0 219.8C752.6 220.1 754.5 220.5 757.1 220.7C759.7 221.0 761.6 221.3 765.4 221.5C769.2 221.6 775.2 221.6 779.7 221.6C784.1 221.6 789.9 221.5 792.0 221.5 M635.0 202.9C635.9 203.0 638.4 203.0 640.7 203.3C642.9 203.6 645.8 203.9 648.5 204.7C651.2 205.4 654.2 206.7 657.1 208.0C659.9 209.2 663.0 210.7 665.5 212.1C668.0 213.5 670.0 214.9 672.1 216.3C674.1 217.7 676.1 219.2 678.0 220.6C679.9 222.0 681.7 223.4 683.7 224.7C685.7 226.1 687.5 227.4 690.0 228.6C692.5 229.8 695.6 230.8 698.6 231.8C701.6 232.8 704.9 233.7 708.0 234.6C711.1 235.5 714.2 236.4 717.2 237.2C720.2 237.9 723.3 238.6 726.0 239.1C728.7 239.6 731.1 239.9 733.5 240.1C735.9 240.3 738.2 240.3 740.4 240.1C742.6 239.9 744.4 239.6 746.5 239.1C748.6 238.5 750.4 237.9 753.0 236.8C755.6 235.6 759.2 233.7 762.2 232.2C765.2 230.7 768.7 228.8 771.0 227.7C773.3 226.6 774.4 226.2 775.9 225.7C777.4 225.1 778.2 224.9 780.0 224.5C781.8 224.1 784.6 223.5 786.6 223.2C788.6 222.8 791.1 222.4 792.0 222.3 M635.0 253.5C635.9 253.1 638.4 252.3 640.7 251.5C642.9 250.7 645.8 249.8 648.5 248.5C651.2 247.3 654.3 245.5 657.1 244.1C659.9 242.7 663.1 241.1 665.5 240.1C667.9 239.2 669.7 238.7 671.7 238.4C673.6 238.2 675.3 238.2 677.3 238.4C679.3 238.6 681.4 238.9 683.5 239.6C685.6 240.4 687.7 241.2 690.0 242.9C692.3 244.5 695.0 247.3 697.4 249.7C699.8 252.1 702.3 255.1 704.4 257.3C706.5 259.5 708.1 261.2 709.7 262.9C711.3 264.6 712.7 266.0 714.0 267.4C715.3 268.7 716.3 270.0 717.3 270.9C718.3 271.8 719.1 272.6 720.0 272.9C720.9 273.2 721.7 272.9 722.5 272.6C723.3 272.2 724.1 271.6 725.0 270.9C725.9 270.3 726.8 269.5 727.8 268.6C728.8 267.8 729.8 266.9 731.0 266.0C732.2 265.1 733.8 264.2 735.2 263.3C736.8 262.5 738.4 261.7 740.0 261.0C741.6 260.4 743.1 260.0 744.8 259.7C746.5 259.3 748.3 259.1 750.0 258.8C751.7 258.6 752.8 258.5 754.8 258.4C756.8 258.3 758.2 258.3 762.0 258.3C765.8 258.4 772.8 258.5 777.8 258.6C782.8 258.7 789.6 258.9 792.0 259.0 M635.0 254.7C635.9 254.3 638.4 253.6 640.7 252.8C642.9 252.0 645.8 251.1 648.5 249.8C651.2 248.6 654.3 246.9 657.1 245.4C659.9 244.0 662.9 242.3 665.5 241.4C668.1 240.5 670.5 240.3 672.5 239.9C674.4 239.6 676.5 239.6 677.3 239.5 M635.0 322.2C636.7 322.3 641.3 322.6 644.9 322.6C648.6 322.7 653.4 322.9 657.0 322.6C660.6 322.4 663.5 321.9 666.3 321.3C669.1 320.8 671.9 320.0 674.0 319.3C676.1 318.6 677.6 317.9 679.1 317.0C680.6 316.2 681.8 315.3 683.0 314.3C684.2 313.4 685.2 312.7 686.4 311.6C687.7 310.5 688.7 309.5 690.5 307.9C692.3 306.2 695.0 303.7 697.3 301.5C699.6 299.4 702.3 296.9 704.4 294.9C706.5 293.0 708.1 291.4 709.7 289.9C711.3 288.4 712.7 287.1 714.0 285.9C715.3 284.8 716.2 283.8 717.2 283.0C718.2 282.3 719.0 281.7 720.0 281.4C721.0 281.2 722.0 281.5 723.0 281.7C724.0 282.0 725.0 282.5 726.0 283.0C727.0 283.4 728.1 284.0 729.1 284.5C730.1 285.0 731.1 285.6 732.0 286.0C732.9 286.3 733.7 286.5 734.5 286.6C735.4 286.7 736.2 286.6 737.0 286.5C737.8 286.4 738.4 286.5 739.2 286.2C740.1 285.8 740.9 285.6 742.2 284.4C743.5 283.3 745.3 281.3 747.1 279.5C748.9 277.7 751.0 275.5 753.0 273.7C755.0 271.9 757.0 270.2 759.1 268.7C761.2 267.2 763.3 265.7 765.6 264.7C767.9 263.7 770.4 263.2 772.8 262.8C775.2 262.3 777.7 262.1 780.0 262.0C782.3 261.9 784.9 262.2 786.9 262.3C788.9 262.5 791.1 262.8 792.0 262.9 M635.0 331.6C637.3 331.3 643.6 330.5 648.7 329.8C653.8 329.1 660.5 328.3 665.5 327.4C670.5 326.5 674.4 325.4 678.5 324.5C682.6 323.6 686.5 322.5 690.0 321.9C693.5 321.3 696.4 321.0 699.4 320.6C702.4 320.3 705.0 320.1 708.0 319.9C711.0 319.7 714.7 319.5 717.7 319.3C720.7 319.1 723.9 318.9 726.0 318.5C728.1 318.1 729.0 317.3 730.2 316.7C731.4 316.1 732.0 315.4 733.2 314.9C734.4 314.4 736.0 314.0 737.5 313.7C739.0 313.4 740.6 313.1 742.2 313.1C743.8 313.1 745.2 313.3 747.0 313.6C748.8 313.9 750.6 314.3 753.0 314.9C755.4 315.6 758.4 316.7 761.4 317.6C764.4 318.5 767.5 319.6 771.0 320.3C774.5 321.0 779.1 321.3 782.6 321.7C786.1 322.0 790.4 322.3 792.0 322.4 M635.0 502.2C635.4 502.2 636.5 502.1 637.5 501.8C638.5 501.6 639.8 501.3 641.0 500.7C642.2 500.1 643.3 499.5 644.5 498.5C645.8 497.5 647.0 496.3 648.5 494.6C650.0 492.8 651.7 490.3 653.4 487.8C655.1 485.2 656.9 482.3 658.7 479.2C660.6 476.1 662.6 472.7 664.6 469.3C666.6 465.9 668.7 462.2 670.7 458.9C672.6 455.6 674.5 452.9 676.5 449.6C678.4 446.3 680.3 443.2 682.5 439.0C684.6 434.9 687.0 429.7 689.3 424.7C691.5 419.7 693.9 414.2 696.1 409.0C698.2 403.8 700.3 398.5 702.3 393.5C704.2 388.5 706.2 383.4 707.9 379.1C709.6 374.9 711.1 371.4 712.5 368.0C713.9 364.6 715.2 361.6 716.4 358.8C717.5 356.1 718.3 353.6 719.2 351.3C720.1 349.0 720.8 347.0 721.6 345.0C722.3 343.1 722.8 341.2 723.6 339.5C724.3 337.8 725.0 336.3 726.0 334.8C727.1 333.4 728.2 332.0 729.7 330.8C731.2 329.6 732.7 328.5 735.0 327.7C737.3 326.8 740.4 326.4 743.4 325.9C746.4 325.4 749.9 325.2 753.0 324.9C756.1 324.6 758.8 324.4 761.8 324.3C764.8 324.1 767.5 324.0 771.0 324.0C774.5 323.9 779.1 323.9 782.6 323.9C786.1 323.9 790.4 323.9 792.0 323.9 M792.0 221.5C793.1 221.5 796.2 221.4 798.8 221.5C801.4 221.6 804.8 221.7 807.7 222.2C810.6 222.7 813.3 223.6 816.1 224.6C819.0 225.5 821.9 226.7 824.7 227.9C827.5 229.1 830.3 230.5 833.2 231.9C836.0 233.3 838.8 234.9 841.6 236.4C844.4 238.0 847.2 239.6 850.0 241.2C852.9 242.8 855.7 244.4 858.5 245.9C861.3 247.4 864.2 248.8 867.0 250.2C869.8 251.5 872.6 252.8 875.5 253.9C878.4 255.1 881.5 256.2 884.4 257.1C887.2 258.0 890.0 258.8 892.4 259.4C894.8 260.0 896.9 260.3 898.7 260.5C900.4 260.8 902.1 260.8 902.8 260.9 M792.0 222.3C793.1 222.4 796.2 222.6 798.8 223.0C801.4 223.4 804.8 223.8 807.7 224.5C810.6 225.1 813.5 226.1 816.3 227.1C819.2 228.1 822.2 229.3 824.7 230.5C827.2 231.6 829.2 232.7 831.5 234.1C833.7 235.4 835.7 236.7 838.4 238.4C841.1 240.1 844.5 242.3 847.6 244.3C850.7 246.4 854.1 248.6 856.9 250.5C859.7 252.4 861.9 254.0 864.3 255.6C866.7 257.3 868.8 258.8 871.2 260.5C873.6 262.1 876.1 263.9 878.5 265.5C880.8 267.2 883.2 268.8 885.4 270.4C887.6 272.0 889.7 273.5 891.6 274.9C893.5 276.3 895.3 277.7 896.8 278.9C898.3 280.1 899.5 281.1 900.5 282.0C901.5 282.9 902.4 283.7 902.8 284.1 M792.0 259.0C794.5 258.8 801.8 258.5 807.3 258.3C812.7 258.1 820.2 257.8 824.7 257.9C829.2 258.0 831.3 258.3 834.1 258.7C837.0 259.1 838.9 259.7 841.6 260.3C844.3 260.9 847.2 261.7 850.0 262.5C852.9 263.2 855.7 264.1 858.5 264.9C861.3 265.8 864.2 266.8 867.0 267.6C869.8 268.4 872.6 269.3 875.5 269.9C878.4 270.5 881.5 270.9 884.4 271.1C887.2 271.4 890.0 271.5 892.4 271.4C894.8 271.3 896.9 270.9 898.7 270.5C900.4 270.2 902.1 269.6 902.8 269.4 M792.0 262.9C793.1 262.9 796.2 262.9 798.8 263.0C801.4 263.1 804.8 263.2 807.7 263.4C810.6 263.7 813.3 264.0 816.1 264.6C819.0 265.1 821.8 265.7 824.7 266.6C827.6 267.6 830.4 268.9 833.3 270.3C836.1 271.6 838.9 273.2 841.6 274.6C844.3 276.1 846.9 277.6 849.4 279.1C852.0 280.5 854.4 282.1 856.9 283.4C859.4 284.8 861.7 286.1 864.1 287.3C866.5 288.4 868.8 289.5 871.2 290.5C873.6 291.5 876.3 292.4 878.7 293.1C881.0 293.8 883.5 294.4 885.4 294.8C887.3 295.2 888.6 295.3 890.0 295.4C891.5 295.4 892.5 295.4 894.0 295.1C895.5 294.8 897.5 294.1 898.9 293.5C900.4 293.0 902.2 292.3 902.8 292.0 M792.0 323.4C794.6 323.4 802.1 323.5 807.8 323.4C813.5 323.3 821.2 323.2 826.2 322.7C831.2 322.2 834.2 321.3 837.7 320.4C841.3 319.5 844.2 318.5 847.7 317.3C851.2 316.1 854.9 314.7 858.4 313.4C862.0 312.1 865.5 310.7 869.2 309.7C872.9 308.6 877.0 307.8 880.6 307.1C884.2 306.4 887.9 305.8 890.8 305.4C893.7 305.0 896.1 304.9 898.1 304.8C900.1 304.7 902.0 304.8 902.8 304.8 M902.8 260.9C903.2 260.9 904.4 261.0 905.4 260.9C906.4 260.8 907.7 260.6 908.8 260.2C909.9 259.8 910.9 259.1 912.0 258.3C913.1 257.5 914.2 256.6 915.4 255.4C916.6 254.3 918.1 252.8 919.4 251.4C920.7 250.0 922.2 248.3 923.2 247.0C924.2 245.7 924.6 244.8 925.5 243.5C926.4 242.2 927.0 241.1 928.5 239.0C930.0 236.9 932.3 233.9 934.5 231.1C936.7 228.3 939.2 225.1 941.5 222.4C943.8 219.6 945.9 217.2 948.0 214.8C950.2 212.4 952.4 210.1 954.6 208.0C956.8 205.9 959.0 204.0 961.1 202.3C963.3 200.5 965.5 198.9 967.7 197.6C969.9 196.2 972.1 195.2 974.3 194.2C976.4 193.2 978.7 192.4 980.8 191.7C982.9 191.0 984.7 190.3 986.8 189.8C989.0 189.2 990.8 188.8 993.8 188.4C996.8 188.0 1001.4 187.8 1004.8 187.5C1008.2 187.3 1012.6 187.2 1014.2 187.1 M902.8 269.6C903.6 269.4 905.6 269.2 907.3 268.9C909.0 268.5 911.2 268.1 912.8 267.4C914.4 266.8 915.5 265.9 916.8 264.8C918.1 263.8 919.4 262.6 920.6 261.2C921.8 259.9 922.9 258.4 924.2 256.7C925.5 255.0 926.8 253.2 928.5 251.0C930.2 248.8 932.5 246.0 934.7 243.4C936.8 240.8 939.3 237.9 941.5 235.4C943.7 232.8 945.9 230.5 948.0 228.3C950.2 226.1 952.4 224.0 954.6 222.2C956.8 220.5 959.0 219.1 961.1 217.8C963.3 216.5 965.5 215.5 967.7 214.4C969.9 213.4 972.1 212.4 974.3 211.5C976.4 210.6 978.7 209.8 980.8 209.1C982.9 208.4 984.7 207.8 986.8 207.3C989.0 206.8 990.8 206.3 993.8 205.9C996.8 205.5 1001.4 205.0 1004.8 204.7C1008.2 204.4 1012.6 204.0 1014.2 203.9 M902.8 292.0C903.2 291.5 904.4 290.3 905.4 289.1C906.4 287.9 907.7 286.4 908.9 284.7C910.0 283.0 911.0 281.0 912.1 279.1C913.2 277.1 914.4 274.9 915.5 272.9C916.6 270.9 917.6 268.8 918.7 266.9C919.8 264.9 920.9 262.9 922.0 261.2C923.1 259.5 924.2 258.0 925.3 256.5C926.4 255.1 927.5 253.8 928.5 252.5C929.6 251.2 930.7 250.0 931.8 249.0C932.9 247.9 934.0 246.8 935.0 246.0C936.0 245.2 936.8 244.6 937.8 243.9C938.9 243.2 939.8 242.7 941.5 242.0C943.2 241.2 945.6 240.2 947.8 239.4C950.0 238.6 952.6 237.7 954.6 237.1C956.6 236.5 958.4 236.1 960.1 235.8C961.9 235.6 963.5 235.4 965.1 235.4C966.7 235.4 968.0 235.5 969.5 235.9C971.0 236.2 972.4 236.6 974.2 237.4C976.0 238.3 978.3 239.7 980.5 240.9C982.7 242.2 985.1 243.7 987.3 244.9C989.5 246.2 991.6 247.4 993.8 248.5C996.0 249.6 998.0 250.7 1000.4 251.4C1002.8 252.2 1005.8 252.8 1008.1 253.2C1010.4 253.7 1013.2 254.0 1014.2 254.2 M902.8 284.1C903.5 284.5 905.2 285.7 906.7 286.8C908.2 287.8 910.3 289.2 912.0 290.4C913.7 291.5 914.9 292.4 916.7 293.7C918.6 294.9 920.3 296.1 923.0 297.8C925.7 299.6 929.5 302.1 933.1 304.2C936.7 306.4 940.9 308.8 944.6 310.7C948.3 312.6 951.8 314.1 955.4 315.6C958.9 317.0 962.6 318.3 966.1 319.3C969.6 320.4 973.0 321.2 976.6 321.9C980.2 322.7 983.4 323.2 987.7 323.6C992.0 324.1 997.9 324.3 1002.3 324.5C1006.7 324.7 1012.2 324.8 1014.2 324.8 M902.8 304.8C904.4 305.3 908.6 306.5 912.3 307.7C916.0 308.9 920.8 310.4 925.0 311.9C929.2 313.5 933.2 315.3 937.3 317.0C941.5 318.7 945.8 320.5 950.0 321.9C954.2 323.3 958.3 324.4 962.5 325.4C966.7 326.4 970.7 327.2 975.0 327.9C979.3 328.7 984.0 329.3 988.2 329.8C992.3 330.3 996.6 330.6 1000.0 331.0C1003.4 331.3 1006.3 331.5 1008.7 331.6C1011.0 331.8 1013.3 331.9 1014.2 332.0 M902.8 305.5C903.3 306.0 904.8 307.2 906.0 308.4C907.2 309.7 908.8 311.2 910.1 313.1C911.3 315.0 912.4 317.3 913.6 319.6C914.7 322.0 915.9 324.7 916.9 327.0C918.0 329.3 918.8 331.1 919.8 333.4C920.8 335.8 921.7 337.9 923.0 341.1C924.4 344.3 926.4 348.9 928.0 352.9C929.7 356.8 931.6 361.5 932.9 364.8C934.2 368.1 934.9 370.4 935.8 372.9C936.8 375.4 937.4 377.5 938.4 380.0C939.5 382.5 940.8 385.1 942.1 387.7C943.3 390.3 944.7 392.9 945.9 395.5C947.2 398.1 948.3 400.2 949.5 403.0C950.8 405.7 952.0 408.3 953.4 412.0C954.9 415.7 956.7 420.7 958.4 425.4C960.2 430.1 962.0 435.3 963.9 440.0C965.8 444.7 967.8 449.3 969.8 453.7C971.8 458.1 973.9 462.5 976.0 466.3C978.0 470.2 980.0 473.6 982.0 476.8C984.0 480.0 986.0 483.0 988.0 485.6C990.0 488.2 991.9 490.5 993.9 492.5C995.9 494.5 997.7 496.2 1000.0 497.6C1002.3 499.0 1005.5 500.0 1007.9 500.9C1010.2 501.7 1013.1 502.4 1014.2 502.7"/>
<path stroke="#313695" d="M173.6 142.0C176.3 142.0 184.8 142.1 190.0 142.0C195.2 141.9 199.8 141.6 205.0 141.3C210.2 141.0 215.7 139.9 221.0 140.3C226.3 140.7 231.3 142.1 237.0 143.5C242.7 144.9 247.8 147.1 255.0 148.8C262.2 150.5 271.7 152.8 280.0 153.9C288.3 155.0 296.6 155.0 305.0 155.2C313.4 155.4 326.2 155.2 330.4 155.2 M173.6 167.8C178.0 167.8 192.1 167.9 200.0 167.8C207.9 167.7 214.3 167.7 221.0 167.4C227.7 167.1 234.3 166.6 240.0 166.0C245.7 165.4 250.3 164.8 255.0 164.0C259.7 163.2 263.8 162.4 268.0 161.5C272.2 160.6 276.0 159.6 280.0 158.8C284.0 158.0 287.8 157.1 292.0 156.6C296.2 156.1 298.6 155.8 305.0 155.6C311.4 155.4 326.2 155.3 330.4 155.2 M173.6 187.6C178.7 187.6 196.8 187.0 204.0 187.6C211.2 188.2 212.7 189.9 217.0 191.0C221.3 192.1 224.7 192.2 230.0 194.3C235.3 196.4 242.4 201.0 248.6 203.6C254.8 206.2 261.0 207.9 267.2 210.1C273.4 212.3 279.6 214.4 285.8 216.6C292.0 218.8 298.9 221.5 304.3 223.1C309.7 224.7 314.0 225.3 318.3 225.9C322.6 226.5 328.4 226.3 330.4 226.4 M173.6 214.0C175.4 213.7 181.9 213.2 184.6 212.3C187.2 211.4 187.9 210.1 189.5 208.8C191.1 207.5 192.8 205.9 194.4 204.4C196.0 202.9 197.6 201.3 199.2 200.0C200.8 198.7 202.5 197.5 204.1 196.6C205.7 195.7 207.3 195.1 209.0 194.8C210.7 194.5 212.0 194.4 214.0 194.8C216.0 195.2 218.3 196.0 221.0 197.0C223.7 198.0 226.8 199.6 230.0 201.0C233.2 202.4 236.9 204.0 240.0 205.6C243.1 207.2 244.8 208.3 248.6 210.5C252.3 212.7 257.9 216.8 262.5 218.8C267.1 220.8 271.1 221.5 276.5 222.6C281.9 223.7 289.6 224.8 295.0 225.4C300.4 226.0 303.1 226.2 309.0 226.4C314.9 226.6 326.8 226.4 330.4 226.4 M173.6 220.3C183.0 220.4 216.8 220.9 230.0 221.0C243.2 221.1 246.8 220.3 253.0 220.8C259.2 221.3 261.5 222.4 267.0 224.0C272.5 225.6 280.4 228.8 285.8 230.5C291.2 232.2 295.0 233.6 299.6 234.3C304.2 235.0 308.5 234.7 313.6 234.7C318.7 234.7 327.6 234.4 330.4 234.3 M173.6 241.0C178.1 240.7 192.6 238.9 200.5 239.3C208.4 239.7 214.6 241.5 220.8 243.5C227.0 245.5 232.0 248.6 237.7 251.2C243.3 253.8 249.9 256.8 254.7 258.8C259.5 260.8 262.3 261.7 266.5 263.0C270.7 264.3 274.9 265.3 280.0 266.4C285.1 267.5 291.3 268.9 297.0 269.8C302.7 270.7 308.4 271.2 314.0 271.5C319.6 271.8 327.7 271.5 330.4 271.5 M173.6 254.5C177.2 255.5 188.9 258.5 195.4 260.5C201.9 262.5 207.2 265.0 212.3 266.4C217.4 267.8 220.2 268.5 225.9 268.6C231.6 268.8 239.7 268.2 246.2 267.3C252.7 266.4 259.2 264.7 264.8 263.0C270.4 261.3 274.6 259.8 280.0 257.1C285.4 254.4 291.9 250.2 297.0 246.9C302.1 243.7 306.8 239.6 310.6 237.6C314.4 235.6 316.7 235.6 320.0 235.0C323.3 234.4 328.7 234.4 330.4 234.3 M173.6 298.6C176.3 298.4 184.9 297.9 190.0 297.5C195.1 297.1 200.6 295.9 203.9 296.0C207.2 296.1 208.3 296.9 210.0 297.8C211.7 298.7 212.5 299.5 214.0 301.1C215.5 302.7 217.0 304.7 219.0 307.5C221.0 310.3 223.6 314.2 225.9 318.0C228.2 321.8 229.2 322.8 232.7 330.0C236.2 337.2 242.1 350.8 247.0 361.5C251.9 372.2 257.0 383.1 262.0 394.5C267.0 405.9 272.6 418.9 277.0 430.0C281.4 441.1 284.3 450.8 288.5 461.0C292.7 471.2 297.8 483.2 302.0 491.0C306.2 498.8 310.6 503.9 314.0 507.9C317.4 511.8 319.7 513.2 322.4 514.7C325.1 516.2 329.1 516.8 330.4 517.2 M173.6 493.9C174.8 493.6 178.3 493.9 181.0 492.0C183.7 490.1 186.4 486.4 189.5 482.7C192.6 479.0 195.3 476.6 199.7 470.0C204.1 463.4 208.2 458.7 215.7 443.0C223.2 427.3 237.3 392.7 244.5 376.0C251.7 359.3 255.7 350.7 259.0 343.0C262.3 335.3 262.9 334.2 264.4 330.0C265.9 325.8 266.4 322.2 268.2 318.0C270.0 313.8 272.7 308.9 275.0 305.0C277.3 301.1 279.0 298.4 281.8 294.4C284.6 290.4 288.9 283.9 292.0 280.8C295.1 277.7 296.7 276.8 300.4 275.5C304.1 274.2 309.0 273.4 314.0 273.0C319.0 272.6 325.2 273.0 330.4 272.8C335.6 272.6 340.2 272.0 345.0 271.8C349.8 271.6 356.6 271.6 358.9 271.5 M173.6 506.5C175.4 505.8 181.1 505.0 184.6 502.2C188.1 499.4 191.5 493.7 194.4 489.5C197.3 485.3 200.2 480.1 202.2 476.8C204.2 473.6 203.4 475.6 206.5 470.0C209.6 464.4 214.1 458.7 221.0 443.0C227.9 427.3 241.1 392.7 248.0 376.0C254.9 359.3 259.2 350.7 262.5 343.0C265.8 335.3 265.9 333.8 267.5 330.0C269.1 326.2 270.1 323.8 272.0 320.0C273.9 316.2 276.3 311.3 279.0 307.0C281.7 302.7 284.8 297.8 288.0 294.0C291.2 290.2 294.2 287.1 298.0 284.5C301.8 281.9 305.2 279.9 310.6 278.6C316.0 277.4 324.7 277.1 330.4 277.0C336.1 276.9 340.2 277.6 345.0 278.3C349.8 279.1 356.6 281.0 358.9 281.5 M173.6 524.0C175.4 523.5 181.8 522.5 184.6 521.2C187.4 519.9 188.4 519.1 190.6 516.3C192.8 513.4 195.3 508.9 197.7 504.1C200.1 499.3 202.5 493.2 204.8 487.5C207.1 481.8 208.4 477.4 211.7 470.0C215.0 462.6 217.9 458.7 224.5 443.0C231.1 427.3 244.1 392.7 251.0 376.0C257.9 359.3 262.7 350.7 266.0 343.0C269.3 335.3 269.0 333.6 270.6 330.0C272.2 326.4 273.6 324.7 275.5 321.4C277.4 318.1 279.8 313.4 282.0 310.0C284.2 306.6 285.7 304.7 288.5 301.1C291.3 297.5 295.0 291.8 298.7 288.5C302.4 285.2 305.3 282.9 310.6 281.3C315.9 279.7 327.1 279.2 330.4 278.8 M173.6 526.0C181.5 525.5 204.5 523.9 220.8 523.0C237.1 522.1 256.1 521.3 271.6 520.5C287.1 519.7 304.2 518.9 314.0 518.4C323.8 517.9 327.7 517.6 330.4 517.4 M330.4 155.2C348.8 155.1 422.4 154.8 440.8 154.7 M330.4 226.4C333.7 226.0 344.2 225.5 350.4 224.1C356.5 222.7 361.6 220.3 367.3 218.2C373.0 216.1 378.7 213.4 384.3 211.4C389.9 209.4 395.6 207.8 401.2 206.4C406.8 205.0 411.5 203.8 418.1 203.0C424.7 202.2 437.0 201.6 440.8 201.3 M330.4 234.3C333.7 235.0 344.2 236.2 350.4 238.4C356.5 240.6 361.6 244.2 367.3 247.7C373.0 251.2 378.7 255.7 384.3 259.6C389.9 263.6 395.6 267.7 401.2 271.4C406.8 275.1 413.3 279.2 418.1 281.6C422.9 284.0 426.2 284.8 430.0 285.8C433.8 286.9 439.0 287.5 440.8 287.9 M330.4 271.5C332.8 271.3 340.2 270.6 345.0 270.5C349.8 270.4 353.8 270.1 358.9 271.0C364.0 271.9 370.2 273.7 375.8 276.1C381.4 278.5 387.1 281.9 392.7 285.4C398.3 288.9 404.0 293.9 409.7 297.3C415.4 300.7 421.4 303.4 426.6 305.7C431.8 308.0 438.4 310.1 440.8 311.0 M330.4 278.8C332.8 278.9 340.2 279.0 345.0 279.5C349.8 280.0 353.8 280.2 358.9 282.0C364.0 283.8 369.8 286.3 375.8 290.5C381.8 294.7 389.1 301.3 395.1 307.2C401.1 313.1 406.4 318.9 412.0 326.0C417.6 333.1 424.2 343.6 429.0 350.0C433.8 356.4 438.8 362.1 440.8 364.5 M330.4 517.2C331.9 517.1 336.5 517.0 339.3 516.4C342.1 515.8 344.2 514.9 347.0 513.5C349.8 512.1 351.9 511.6 356.3 507.9C360.7 504.1 368.1 497.6 373.2 491.0C378.3 484.4 382.3 476.0 387.0 468.0C391.7 460.0 396.7 451.3 401.2 443.0C405.7 434.7 409.5 426.8 414.0 418.0C418.5 409.2 423.5 398.9 428.0 390.0C432.5 381.1 438.7 368.8 440.8 364.5 M440.8 153.9C444.1 152.8 454.4 149.2 460.5 147.1C466.6 145.0 471.8 142.7 477.4 141.2C483.0 139.7 488.6 138.6 494.3 138.3C500.0 138.0 505.6 138.9 511.3 139.5C517.0 140.1 521.6 141.4 528.2 142.0C534.9 142.6 547.4 142.8 551.2 142.9 M440.8 154.7C444.1 155.5 454.4 158.3 460.5 159.8C466.6 161.3 471.8 162.7 477.4 163.7C483.0 164.7 488.6 165.1 494.3 165.7C500.0 166.3 501.8 166.7 511.3 167.1C520.8 167.5 544.6 168.0 551.2 168.2 M440.8 201.3C444.1 200.9 454.4 199.3 460.5 198.7C466.6 198.1 471.8 197.5 477.4 197.9C483.0 198.3 488.6 200.0 494.3 201.3C500.0 202.7 505.6 204.3 511.3 206.0C517.0 207.7 521.6 209.9 528.2 211.5C534.9 213.1 547.4 214.8 551.2 215.5 M440.8 201.3C444.1 202.0 454.4 204.8 460.5 205.6C466.6 206.4 472.9 206.3 477.4 206.2C481.9 206.1 484.8 205.1 487.6 204.8C490.4 204.6 490.4 203.8 494.3 204.7C498.2 205.6 505.6 208.5 511.3 210.5C517.0 212.5 521.6 215.1 528.2 216.8C534.9 218.6 547.4 220.3 551.2 221.0 M440.8 287.5C441.8 286.0 444.4 283.3 446.8 278.7C449.2 274.1 452.4 266.1 455.2 259.8C458.0 253.5 460.8 246.9 463.6 240.9C466.4 234.9 468.9 229.3 472.0 224.1C475.1 218.8 479.0 213.6 482.5 209.4C486.0 205.2 489.5 201.9 493.0 198.9C496.5 195.9 500.0 193.2 503.5 191.5C507.0 189.8 510.5 189.1 514.0 188.4C517.5 187.7 518.3 187.5 524.5 187.4C530.7 187.3 546.8 187.9 551.2 188.0 M440.8 311.0C441.2 310.1 442.5 307.8 443.5 305.5C444.5 303.2 445.8 300.2 447.0 297.5C448.2 294.8 449.5 292.3 451.0 289.2C452.5 286.1 454.2 282.5 456.0 279.0C457.8 275.5 459.8 271.4 461.5 268.2C463.2 265.0 464.8 262.6 466.5 260.0C468.2 257.4 469.3 255.3 472.0 252.5C474.7 249.7 479.0 245.5 482.5 243.0C486.0 240.5 489.5 238.9 493.0 237.7C496.5 236.5 500.0 235.9 503.5 235.6C507.0 235.2 510.5 235.2 514.0 235.6C517.5 235.9 521.0 236.9 524.5 237.7C528.0 238.5 530.5 239.7 535.0 240.3C539.5 240.9 548.5 241.3 551.2 241.5 M440.8 364.5C441.7 362.6 444.1 356.8 446.0 353.0C447.9 349.2 449.7 345.7 451.9 342.0C454.1 338.3 456.6 334.7 459.3 331.0C462.0 327.3 464.9 323.7 468.0 320.0C471.1 316.3 474.6 312.7 477.9 308.8C481.1 304.9 485.0 299.8 487.5 296.5C490.0 293.2 490.3 292.5 493.0 289.2C495.7 285.9 500.0 280.5 503.5 276.6C507.0 272.8 510.5 269.1 514.0 266.1C517.5 263.1 521.0 260.7 524.5 258.8C528.0 256.9 530.5 255.6 535.0 254.8C539.5 254.0 548.5 254.0 551.2 253.8 M478.0 309.0C478.8 308.3 480.8 306.3 482.5 305.0C484.2 303.7 486.2 302.2 488.0 301.0C489.8 299.8 490.4 299.1 493.0 298.0C495.6 296.9 500.0 295.0 503.5 294.2C507.0 293.4 510.5 292.9 514.0 293.0C517.5 293.1 521.0 294.1 524.5 294.8C528.0 295.5 530.5 296.6 535.0 297.3C539.5 298.0 548.5 298.6 551.2 298.8 M440.8 287.9C441.6 289.7 444.0 295.3 445.5 298.6C447.0 301.9 448.3 304.8 450.0 307.9C451.7 311.0 453.8 314.8 455.6 317.2C457.4 319.6 459.3 321.7 461.0 322.5C462.7 323.3 464.5 322.8 466.0 322.0C467.5 321.2 469.3 318.2 470.0 317.5 M440.8 311.0C441.4 312.3 443.3 316.4 444.5 319.0C445.7 321.6 446.6 323.2 448.2 326.5C449.8 329.8 452.1 335.1 454.0 339.0C455.9 342.9 457.7 346.7 459.5 350.0C461.3 353.3 460.7 351.0 464.6 359.0C468.5 367.0 477.7 386.2 483.1 398.0C488.5 409.8 493.7 422.5 497.0 430.0C500.3 437.5 500.5 438.2 502.7 443.0C504.9 447.8 507.1 452.5 510.3 458.8C513.6 465.1 518.2 474.6 522.2 480.8C526.2 487.0 530.3 492.2 534.0 496.0C537.7 499.8 541.3 502.0 544.2 503.7C547.1 505.4 550.0 505.9 551.2 506.3 M463.0 342.0C464.2 344.8 465.8 349.7 470.0 359.0C474.2 368.3 483.2 386.2 488.5 398.0C493.8 409.8 498.8 422.5 502.0 430.0C505.2 437.5 505.8 438.2 508.0 443.0C510.2 447.8 512.5 454.3 515.1 458.8C517.7 463.3 520.6 466.2 523.5 470.0C526.4 473.8 529.5 478.1 532.5 481.5C535.5 484.9 538.4 488.2 541.5 490.5C544.6 492.8 549.6 494.2 551.2 495.0 M464.0 343.0C464.8 344.0 466.6 346.3 468.5 349.0C470.4 351.7 471.1 350.8 475.3 359.0C479.5 367.2 488.7 386.2 493.9 398.0C499.1 409.8 503.3 422.5 506.5 430.0C509.7 437.5 511.1 438.8 513.0 443.0C514.9 447.2 515.9 451.1 518.0 455.4C520.1 459.7 522.9 464.8 525.6 469.0C528.3 473.2 531.2 477.3 534.0 480.8C536.8 484.3 539.6 487.9 542.5 490.1C545.4 492.3 549.8 493.5 551.2 494.2 M440.8 364.5C442.3 367.1 446.7 374.5 450.0 380.0C453.3 385.5 456.5 389.4 460.5 397.7C464.5 406.0 470.3 422.2 474.0 430.0C477.7 437.8 479.3 438.9 482.5 444.5C485.7 450.1 490.0 458.0 493.4 463.9C496.8 469.8 499.5 474.6 503.0 480.0C506.5 485.4 511.0 491.5 514.5 496.0C518.0 500.5 520.8 503.6 524.0 507.0C527.2 510.4 530.8 513.8 534.0 516.4C537.2 519.0 540.1 521.0 543.0 522.5C545.9 524.0 549.8 525.2 551.2 525.7 M493.4 463.9C495.2 466.5 500.2 474.3 504.0 479.5C507.8 484.7 512.3 490.6 516.0 495.0C519.7 499.4 522.7 502.7 526.0 506.0C529.3 509.3 532.9 512.6 536.0 515.0C539.1 517.4 542.0 519.0 544.5 520.5C547.0 522.0 550.1 523.4 551.2 524.0 M551.2 142.9C553.3 143.2 559.0 143.0 563.9 144.5C568.8 146.0 575.2 148.7 580.8 152.1C586.4 155.5 592.1 160.6 597.7 164.8C603.4 169.0 609.6 174.1 614.7 177.5C619.8 180.9 624.8 183.5 628.2 185.1C631.6 186.7 633.9 186.5 635.0 186.8 M551.2 168.2C552.8 168.6 557.0 168.6 560.5 170.7C564.0 172.8 568.9 177.7 572.3 180.9C575.7 184.2 578.5 187.1 580.8 190.2C583.1 193.3 583.1 194.6 585.9 199.5C588.7 204.4 594.6 214.2 597.7 219.8C600.8 225.5 602.5 228.9 604.5 233.4C606.5 237.9 607.6 240.4 609.6 246.9C611.6 253.4 613.9 263.8 616.4 272.3C618.9 280.8 622.3 290.6 624.8 297.7C627.3 304.8 629.9 310.7 631.6 314.7C633.3 318.7 634.4 320.6 635.0 321.8 M551.2 188.0C556.1 188.4 574.3 189.6 580.8 190.2C587.3 190.8 586.5 191.0 590.0 191.5C593.5 192.0 597.9 192.8 602.0 193.0C606.1 193.2 610.9 193.3 614.7 193.0C618.5 192.7 621.6 191.9 625.0 191.0C628.4 190.1 633.3 187.9 635.0 187.3 M551.2 215.5C552.5 215.0 556.9 213.7 559.2 212.5C561.5 211.3 563.2 209.9 565.0 208.5C566.8 207.1 568.2 205.8 570.0 204.2C571.8 202.6 573.7 200.8 575.5 199.0C577.3 197.2 578.7 195.4 580.8 193.6C582.9 191.8 585.8 189.6 588.0 188.3C590.2 187.0 591.5 186.4 594.0 185.8C596.5 185.2 600.0 184.4 602.8 184.5C605.6 184.6 608.5 185.4 611.0 186.5C613.5 187.6 615.8 189.4 618.1 191.0C620.4 192.6 622.5 194.4 624.8 196.1C627.0 197.8 629.9 200.1 631.6 201.2C633.3 202.3 634.4 202.6 635.0 202.9 M551.2 253.8C554.7 253.3 566.5 252.3 572.3 251.0C578.1 249.7 581.7 248.2 585.9 246.0C590.1 243.8 594.6 240.4 597.7 238.0C600.8 235.6 602.1 234.4 604.5 231.7C606.9 229.0 609.4 225.3 612.0 222.0C614.6 218.7 617.3 214.8 620.0 212.0C622.7 209.2 625.5 207.0 628.0 205.5C630.5 204.0 633.8 203.3 635.0 202.9 M551.2 221.0C552.7 220.7 556.9 219.9 560.0 219.0C563.1 218.1 566.5 216.0 570.0 215.8C573.5 215.6 577.8 217.0 580.8 218.0C583.8 219.0 585.2 220.2 588.0 222.0C590.8 223.8 595.0 227.0 597.7 229.0C600.5 231.0 601.7 232.0 604.5 234.2C607.3 236.3 611.3 239.2 614.7 241.9C618.1 244.6 621.4 248.2 624.8 250.3C628.2 252.4 633.3 253.9 635.0 254.6 M551.2 241.5C554.7 242.0 566.5 243.2 572.3 244.4C578.1 245.6 581.7 246.5 585.9 248.6C590.1 250.7 594.3 253.7 597.7 257.1C601.1 260.5 603.4 264.7 606.2 269.0C609.0 273.3 611.9 278.0 614.7 283.0C617.5 288.0 620.3 293.6 623.1 299.0C625.9 304.4 629.6 311.7 631.6 315.5C633.6 319.3 634.4 320.8 635.0 321.8 M551.2 298.8C554.7 298.1 565.9 296.5 572.3 294.4C578.6 292.2 583.6 289.3 589.3 285.9C594.9 282.5 601.4 277.7 606.2 274.0C611.0 270.3 614.4 266.9 618.1 263.9C621.8 260.9 625.4 257.5 628.2 255.8C631.0 254.1 633.9 253.9 635.0 253.5 M551.2 494.2C553.3 493.9 560.1 494.1 563.9 492.7C567.7 491.3 571.2 489.0 574.0 485.9C576.8 482.8 578.2 479.1 580.8 474.0C583.3 468.9 586.8 460.6 589.3 455.4C591.8 450.2 592.4 451.2 595.5 443.0C598.6 434.8 604.2 417.4 607.8 406.2C611.4 395.0 613.5 386.1 617.0 375.7C620.5 365.2 625.5 350.8 628.5 343.5C631.5 336.2 633.9 333.7 635.0 331.7 M551.2 506.3C553.3 506.6 560.4 508.2 563.9 507.9C567.4 507.6 569.5 507.6 572.3 504.5C575.1 501.4 578.2 494.7 580.8 489.3C583.3 483.9 584.5 480.0 587.6 472.3C590.8 464.6 595.7 454.0 599.7 443.0C603.7 432.0 608.2 417.4 611.8 406.2C615.3 395.0 617.7 385.7 621.0 375.7C624.3 365.7 629.5 353.1 631.8 346.0C634.1 338.9 634.5 335.2 635.0 333.0 M551.2 525.7C552.8 525.2 557.5 524.8 560.5 523.0C563.5 521.2 566.2 517.6 569.0 514.7C571.8 511.8 574.7 507.3 577.4 505.4C580.1 503.5 581.6 503.9 585.0 503.5C588.4 503.1 591.4 503.0 597.7 502.8C604.1 502.6 616.9 502.6 623.1 502.5C629.3 502.4 633.0 502.1 635.0 502.0 M551.2 524.0C552.8 523.6 557.5 523.2 560.5 521.5C563.5 519.8 566.2 516.3 569.0 513.5C571.8 510.7 574.7 506.6 577.4 504.9C580.1 503.2 581.6 503.6 585.0 503.2C588.4 502.8 591.4 502.7 597.7 502.6C604.1 502.5 616.9 502.5 623.1 502.4C629.3 502.3 633.0 502.1 635.0 502.0 M635.0 186.8C637.2 187.0 643.4 187.0 648.5 187.7C653.6 188.4 659.9 189.3 665.5 191.0C671.1 192.7 676.8 195.2 682.4 197.8C688.0 200.4 693.6 203.6 699.3 206.3C704.9 209.0 710.6 211.9 716.3 213.9C721.9 215.9 727.6 217.1 733.2 218.1C738.8 219.1 744.6 219.2 750.0 219.8C755.4 220.4 758.4 221.2 765.4 221.5C772.4 221.8 787.6 221.5 792.0 221.5 M635.0 202.9C637.2 203.2 643.4 203.1 648.5 204.6C653.6 206.1 660.6 209.3 665.5 212.0C670.4 214.7 673.9 217.8 678.0 220.5C682.1 223.2 685.0 226.2 690.0 228.5C695.0 230.8 702.0 232.8 708.0 234.5C714.0 236.2 720.6 238.1 726.0 239.0C731.4 239.9 735.9 240.4 740.4 240.0C744.9 239.6 747.9 238.8 753.0 236.7C758.1 234.6 766.5 229.7 771.0 227.7C775.5 225.7 776.5 225.4 780.0 224.5C783.5 223.6 790.0 222.7 792.0 222.3 M635.0 253.5C637.2 252.7 643.4 250.8 648.5 248.6C653.6 246.4 660.7 241.9 665.5 240.2C670.3 238.5 673.2 238.0 677.3 238.5C681.4 239.0 685.5 239.8 690.0 243.0C694.5 246.2 700.4 253.3 704.4 257.4C708.4 261.5 711.4 264.9 714.0 267.5C716.6 270.1 718.2 272.4 720.0 273.0C721.8 273.6 723.2 272.2 725.0 271.0C726.8 269.8 728.5 267.7 731.0 266.0C733.5 264.3 736.8 262.2 740.0 261.0C743.2 259.8 746.3 259.2 750.0 258.8C753.7 258.4 755.0 258.3 762.0 258.3C769.0 258.3 787.0 258.8 792.0 258.9 M635.0 254.6C637.2 253.8 643.4 252.0 648.5 249.8C653.6 247.6 660.7 243.1 665.5 241.4C670.3 239.7 675.3 239.8 677.3 239.5 M635.0 322.3C638.7 322.4 650.5 323.3 657.0 322.8C663.5 322.3 669.7 320.9 674.0 319.5C678.3 318.1 680.2 316.4 683.0 314.5C685.8 312.6 686.9 311.2 690.5 308.0C694.1 304.8 700.5 298.7 704.4 295.0C708.3 291.3 711.4 288.2 714.0 286.0C716.6 283.8 718.0 282.0 720.0 281.5C722.0 281.0 724.0 282.2 726.0 283.0C728.0 283.8 730.2 285.4 732.0 286.0C733.8 286.6 735.3 286.8 737.0 286.5C738.7 286.2 739.5 286.5 742.2 284.4C744.9 282.2 749.1 276.9 753.0 273.6C756.9 270.3 761.1 266.6 765.6 264.6C770.1 262.7 775.6 262.2 780.0 261.9C784.4 261.6 790.0 262.6 792.0 262.8 M635.0 331.6C640.1 330.9 656.3 329.1 665.5 327.5C674.7 325.9 682.9 323.2 690.0 322.0C697.1 320.8 702.0 320.6 708.0 320.0C714.0 319.4 721.8 319.4 726.0 318.6C730.2 317.8 730.5 315.9 733.2 315.0C735.9 314.1 738.9 313.2 742.2 313.2C745.5 313.2 748.2 313.8 753.0 315.0C757.8 316.2 764.5 319.1 771.0 320.4C777.5 321.6 788.5 322.1 792.0 322.5 M635.0 502.0C636.0 501.8 638.8 501.8 641.0 500.5C643.2 499.2 645.5 498.0 648.5 494.4C651.5 490.8 655.0 485.0 658.7 479.1C662.4 473.2 666.7 465.5 670.6 458.8C674.5 452.1 678.2 447.3 682.4 439.0C686.6 430.7 691.8 419.0 696.0 409.0C700.2 399.0 704.4 387.5 707.8 379.1C711.2 370.7 714.0 364.5 716.3 358.8C718.6 353.1 719.9 349.0 721.5 345.0C723.1 341.0 723.8 337.7 726.0 334.8C728.2 331.9 730.5 329.2 735.0 327.6C739.5 326.0 747.0 325.5 753.0 324.9C759.0 324.3 764.5 324.1 771.0 324.0C777.5 323.9 788.5 324.0 792.0 324.0 M792.0 221.5C794.6 221.6 802.2 221.2 807.7 222.3C813.2 223.4 819.1 225.6 824.7 228.0C830.4 230.4 836.0 233.5 841.6 236.5C847.2 239.5 852.9 243.1 858.5 246.0C864.1 248.9 869.9 251.8 875.5 254.0C881.1 256.2 887.9 258.3 892.4 259.5C896.9 260.7 901.1 260.8 902.8 261.0 M792.0 222.3C794.6 222.7 802.2 223.1 807.7 224.5C813.2 225.9 819.6 228.2 824.7 230.5C829.8 232.8 833.0 235.2 838.4 238.5C843.8 241.8 851.4 246.9 856.9 250.6C862.4 254.3 866.5 257.3 871.2 260.6C876.0 263.9 881.1 267.4 885.4 270.5C889.7 273.6 893.9 276.7 896.8 279.0C899.7 281.3 901.8 283.3 902.8 284.2 M792.0 258.9C797.5 258.7 816.4 257.6 824.7 257.9C833.0 258.1 836.0 259.2 841.6 260.4C847.2 261.6 852.9 263.4 858.5 265.0C864.1 266.6 869.9 268.9 875.5 270.0C881.1 271.1 887.9 271.6 892.4 271.5C896.9 271.4 901.1 269.8 902.8 269.5 M792.0 262.8C794.6 262.9 802.2 262.7 807.7 263.3C813.2 263.9 819.1 264.6 824.7 266.5C830.4 268.4 836.2 271.7 841.6 274.5C847.0 277.3 852.0 280.7 856.9 283.3C861.8 285.9 866.5 288.5 871.2 290.4C876.0 292.3 881.6 293.9 885.4 294.7C889.2 295.5 891.1 295.4 894.0 295.0C896.9 294.6 901.3 292.5 902.8 292.0 M792.0 323.5C797.7 323.4 816.9 323.8 826.2 322.8C835.5 321.8 840.5 319.6 847.7 317.4C854.9 315.2 862.0 311.8 869.2 309.8C876.4 307.8 885.2 306.3 890.8 305.5C896.4 304.7 900.8 305.0 902.8 304.9 M902.8 261.0C903.8 260.9 906.7 261.2 908.8 260.3C910.9 259.4 913.0 257.7 915.4 255.5C917.8 253.3 921.0 249.8 923.2 247.0C925.4 244.2 925.5 243.1 928.5 239.0C931.5 234.9 937.1 227.5 941.5 222.3C945.9 217.1 950.2 212.0 954.6 207.9C959.0 203.8 963.3 200.2 967.7 197.5C972.1 194.8 976.4 193.1 980.8 191.6C985.1 190.1 988.2 189.1 993.8 188.3C999.4 187.5 1010.8 187.2 1014.2 187.0 M902.8 269.5C904.5 269.1 909.8 268.8 912.8 267.4C915.8 266.0 918.0 263.9 920.6 261.2C923.2 258.5 925.0 255.3 928.5 251.0C932.0 246.7 937.1 240.2 941.5 235.4C945.9 230.6 950.2 225.8 954.6 222.3C959.0 218.8 963.3 216.7 967.7 214.5C972.1 212.3 976.4 210.6 980.8 209.2C985.1 207.8 988.2 206.9 993.8 206.0C999.4 205.1 1010.8 204.3 1014.2 204.0 M902.8 292.0C903.8 290.8 906.7 287.9 908.8 284.7C910.9 281.5 913.2 276.8 915.4 272.9C917.6 269.0 919.7 264.6 921.9 261.2C924.1 257.8 926.3 255.0 928.5 252.5C930.7 250.0 932.8 247.8 935.0 246.0C937.2 244.2 938.2 243.5 941.5 242.0C944.8 240.5 950.7 238.3 954.6 237.2C958.5 236.1 961.8 235.4 965.1 235.5C968.4 235.6 970.5 235.9 974.2 237.5C977.9 239.1 982.9 242.7 987.3 245.0C991.7 247.3 995.9 250.0 1000.4 251.5C1004.9 253.0 1011.9 253.8 1014.2 254.2 M902.8 284.2C904.3 285.2 908.6 288.2 912.0 290.5C915.4 292.8 917.6 294.6 923.0 298.0C928.4 301.4 937.4 307.3 944.6 310.9C951.8 314.5 958.9 317.4 966.1 319.5C973.3 321.6 979.7 322.9 987.7 323.8C995.7 324.7 1009.8 324.8 1014.2 325.0 M902.8 304.9C906.5 306.1 917.1 309.1 925.0 312.0C932.9 314.9 941.7 319.3 950.0 322.0C958.3 324.7 966.7 326.5 975.0 328.0C983.3 329.5 993.5 330.3 1000.0 331.0C1006.5 331.7 1011.8 331.8 1014.2 332.0 M902.8 305.5C904.0 306.8 907.7 309.5 910.1 313.1C912.5 316.7 914.8 322.3 917.0 327.0C919.2 331.7 920.4 334.8 923.1 341.1C925.8 347.4 930.4 358.3 933.0 364.8C935.6 371.3 936.3 374.9 938.5 380.0C940.7 385.1 943.5 390.2 946.0 395.5C948.5 400.8 950.5 404.6 953.5 412.0C956.5 419.4 960.2 430.9 964.0 440.0C967.8 449.1 972.0 458.7 976.0 466.3C980.0 473.9 984.0 480.3 988.0 485.5C992.0 490.7 995.6 494.7 1000.0 497.5C1004.4 500.3 1011.8 501.7 1014.2 502.5"/>
</g>
<g clip-path="url(#cd)" fill="none" stroke-linejoin="round">
<line x1="1067.2" y1="376.3" x2="1275.8" y2="376.3" stroke="#808080" stroke-opacity="0.5" stroke-width="6.25" stroke-dasharray="22.9 9.77"/><path d="M1067.2 60.0L1125.0 60.0L1117.0 63.4L1098.0 67.0L1094.4 79.0L1093.2 91.0L1104.0 92.9L1092.0 94.6L1089.6 103.0L1088.4 112.6L1081.2 117.9L1069.0 119.3L1067.2 119.5Z M1067.2 130.5L1070.4 131.3L1086.0 133.0L1110.0 142.6L1134.0 147.4L1164.0 148.6L1146.0 152.2L1150.8 157.0L1171.2 161.0L1146.0 164.2L1129.2 172.6L1134.0 177.4L1160.4 179.8L1141.2 183.4L1158.0 189.4L1194.0 193.0L1230.0 196.6L1256.4 197.8L1249.2 200.2L1285.0 205.0L1285.0 218.6L1242.0 223.4L1213.2 229.4L1230.0 234.2L1285.0 241.4L1285.0 246.0L1249.2 248.6L1270.8 252.2L1258.8 257.0L1263.6 264.2L1232.4 270.2L1285.0 274.3L1285.0 275.0L1258.8 277.4L1285.0 280.0L1285.0 281.0L1230.0 290.6L1194.0 302.6L1165.2 315.8L1167.6 326.6L1162.8 330.0L1146.0 349.2L1138.8 360.0L1137.0 366.0L1140.0 372.0L1131.6 380.4L1122.0 402.0L1114.8 426.0L1107.6 450.0L1101.6 474.0L1098.0 490.0L1094.4 504.4L1090.8 509.2L1078.8 512.8L1070.4 520.0L1067.2 521.5Z" fill="#a50026" fill-opacity="0.3" stroke="none"/><path d="M1067.2 130.5L1070.4 131.3L1086.0 134.2L1098.0 140.2L1117.2 146.2L1137.6 148.6L1122.0 152.2L1129.0 155.5L1142.4 160.6L1122.0 165.4L1108.8 173.8L1117.2 179.8L1137.6 180.2L1119.6 185.8L1134.0 188.2L1158.0 193.0L1182.0 195.4L1203.5 197.3L1204.0 201.5L1230.0 206.4L1222.7 211.4L1242.0 215.0L1218.0 218.6L1194.0 223.4L1170.0 229.4L1186.8 233.0L1179.6 236.6L1218.0 241.4L1226.4 245.0L1196.4 248.6L1218.0 253.4L1208.4 257.0L1213.2 264.2L1180.8 269.0L1228.8 275.0L1206.0 277.4L1213.2 282.2L1189.2 288.2L1183.0 291.0L1155.6 300.2L1160.4 303.8L1137.6 317.0L1141.2 323.0L1131.6 338.6L1129.2 344.4L1122.0 356.4L1117.2 361.2L1118.4 367.2L1123.2 372.0L1117.2 376.8L1112.4 387.6L1107.6 411.6L1102.8 435.6L1100.4 454.0L1095.6 478.0L1092.0 504.4L1090.8 509.2L1078.8 512.8L1070.4 520.0L1067.2 521.5L1067.2 600.0" stroke="#ff7f0e" stroke-width="6.25"/><path d="M1090.5 60.0L1089.6 63.0L1086.5 72.0L1086.0 79.0L1086.0 91.0L1089.6 93.4L1086.5 96.0L1083.6 99.4L1082.4 110.2L1081.0 115.0L1074.0 117.9L1068.0 118.8L1067.7 125.0L1069.0 131.0L1070.4 140.0L1070.8 185.0L1074.0 194.6L1073.0 205.0L1077.6 215.0L1072.8 225.8L1072.8 257.0L1071.6 281.0L1071.6 345.0L1070.0 370.0L1068.5 395.0L1067.2 420.0L1067.2 600.0" stroke="#9467bd" stroke-width="6.25"/><path d="M1072.5 60.0L1071.6 80.0L1071.8 91.0L1073.5 93.5L1071.6 97.0L1071.0 110.0L1068.5 120.0L1067.8 127.0L1070.4 133.0L1076.4 141.4L1086.0 147.4L1082.5 151.0L1086.0 155.5L1090.8 160.6L1083.6 165.4L1078.8 175.0L1086.0 179.8L1080.0 184.6L1086.0 190.5L1102.8 197.0L1104.5 201.0L1110.0 206.6L1112.4 215.0L1105.0 219.5L1094.4 229.4L1100.0 234.5L1107.6 241.4L1100.4 248.6L1105.2 252.2L1104.0 261.8L1095.6 269.0L1110.0 275.0L1105.2 282.2L1093.2 293.0L1089.6 302.6L1083.6 317.0L1082.4 333.8L1080.0 354.0L1078.8 366.0L1076.4 390.0L1072.8 426.0L1071.6 462.0L1070.4 490.0L1069.2 526.0L1068.7 598.0" stroke="#1f77b4" stroke-width="6.25"/>
</g>
<g stroke="#000" stroke-width="3.30" fill="none" stroke-linecap="square">
<rect x="173.6" y="61.9" width="840.6" height="536.7"/>
<rect x="1067.2" y="61.9" width="208.6" height="536.7"/>
</g>
<g stroke="#000" stroke-width="3.30" stroke-linecap="butt">
<line x1="173.6" y1="598.6" x2="173.6" y2="613.2"/>
<line x1="330.4" y1="598.6" x2="330.4" y2="613.2"/>
<line x1="440.8" y1="598.6" x2="440.8" y2="613.2"/>
<line x1="551.2" y1="598.6" x2="551.2" y2="613.2"/>
<line x1="635.0" y1="598.6" x2="635.0" y2="613.2"/>
<line x1="792.0" y1="598.6" x2="792.0" y2="613.2"/>
<line x1="902.8" y1="598.6" x2="902.8" y2="613.2"/>
<line x1="1014.2" y1="598.6" x2="1014.2" y2="613.2"/>
<line x1="1067.2" y1="598.6" x2="1067.2" y2="613.2"/>
<line x1="1275.8" y1="598.6" x2="1275.8" y2="613.2"/>
<line x1="159.0" y1="98.8" x2="173.6" y2="98.8"/>
<line x1="1052.6" y1="98.8" x2="1067.2" y2="98.8"/>
<line x1="159.0" y1="191.3" x2="173.6" y2="191.3"/>
<line x1="1052.6" y1="191.3" x2="1067.2" y2="191.3"/>
<line x1="159.0" y1="283.8" x2="173.6" y2="283.8"/>
<line x1="1052.6" y1="283.8" x2="1067.2" y2="283.8"/>
<line x1="159.0" y1="376.3" x2="173.6" y2="376.3"/>
<line x1="1052.6" y1="376.3" x2="1067.2" y2="376.3"/>
<line x1="159.0" y1="468.8" x2="173.6" y2="468.8"/>
<line x1="1052.6" y1="468.8" x2="1067.2" y2="468.8"/>
<line x1="159.0" y1="561.3" x2="173.6" y2="561.3"/>
<line x1="1052.6" y1="561.3" x2="1067.2" y2="561.3"/>
</g>
<g font-size="41.7">
<text x="173.6" y="656" text-anchor="middle">Γ</text>
<text x="330.4" y="656" text-anchor="middle">M</text>
<text x="440.8" y="656" text-anchor="middle">X</text>
<text x="551.2" y="656" text-anchor="middle">Γ</text>
<text x="635.0" y="656" text-anchor="middle">Z</text>
<text x="792.0" y="656" text-anchor="middle">A</text>
<text x="902.8" y="656" text-anchor="middle">R</text>
<text x="1014.2" y="656" text-anchor="middle">Z</text>
<text x="1067.2" y="656" text-anchor="middle">0</text>
<text x="1275.8" y="656" text-anchor="middle">25</text>
<text x="144" y="113.6" text-anchor="end">1.5</text>
<text x="144" y="206.1" text-anchor="end">1.0</text>
<text x="144" y="298.6" text-anchor="end">0.5</text>
<text x="144" y="391.1" text-anchor="end">0.0</text>
<text transform="translate(91.4,486.6) scale(1.27,1)" text-anchor="end">−</text><text x="144" y="483.6" text-anchor="end">0.5</text>
<text transform="translate(91.4,579.1) scale(1.27,1)" text-anchor="end">−</text><text x="144" y="576.1" text-anchor="end">1.0</text>
<text x="1171.5" y="37" text-anchor="middle" font-size="50">DOS</text>
<text transform="translate(34,331.5) rotate(-90)" text-anchor="middle" letter-spacing="0.8"><tspan font-style="italic">ω</tspan> (eV)</text>
<text x="802.5" y="145" font-size="43.5" letter-spacing="0.9">CaVO<tspan font-size="30" dy="6.3">3</tspan></text>
</g>
<rect x="832.9" y="303.6" width="166.7" height="278.9" rx="6" ry="6" fill="#fff" fill-opacity="0.8" stroke="#ccc" stroke-opacity="0.8" stroke-width="4.2"/>
<line x1="841.2" y1="331.5" x2="904.7" y2="331.5" stroke="#a50026" stroke-width="6.25"/>
<text x="926" y="342.0" font-size="29" font-style="italic">ϵ</text><text x="941" y="351.3" font-size="23" font-style="italic">μ</text><text x="940.5" y="331.0" font-size="24" letter-spacing="2">(0)</text>
<line x1="841.2" y1="386.2" x2="904.7" y2="386.2" stroke="#f88e52" stroke-width="6.25"/>
<text x="926" y="396.7" font-size="29" font-style="italic">ϵ</text><text x="941" y="406.0" font-size="23" font-style="italic">μ</text><text x="940.5" y="385.7" font-size="24" letter-spacing="2">(7)</text>
<line x1="841.2" y1="441.0" x2="904.7" y2="441.0" stroke="#ffffbf" stroke-width="6.25"/>
<text x="926" y="451.5" font-size="29" font-style="italic">ϵ</text><text x="941" y="460.8" font-size="23" font-style="italic">μ</text><text x="940.5" y="440.5" font-size="24" letter-spacing="2">(14)</text>
<line x1="841.2" y1="495.7" x2="904.7" y2="495.7" stroke="#90c3dd" stroke-width="6.25"/>
<text x="926" y="506.2" font-size="29" font-style="italic">ϵ</text><text x="941" y="515.5" font-size="23" font-style="italic">μ</text><text x="940.5" y="495.2" font-size="24" letter-spacing="2">(21)</text>
<line x1="841.2" y1="550.3" x2="904.7" y2="550.3" stroke="#313695" stroke-width="6.25"/>
<text x="926" y="560.8" font-size="29" font-style="italic">ϵ</text><text x="941" y="570.1" font-size="23" font-style="italic">μ</text><text x="940.5" y="549.8" font-size="24" letter-spacing="2">(28)</text>
<rect x="1109.4" y="442" width="154.6" height="143.7" rx="6" ry="6" fill="#fff" fill-opacity="0.8" stroke="#ccc" stroke-opacity="0.8" stroke-width="4.2"/>
<rect x="1117" y="449" width="48" height="17" fill="#e6b8c8"/>
<text transform="translate(1185.6,466) scale(1.3,1)" font-size="25" letter-spacing="1.5">total</text>
<line x1="1115" y1="491" x2="1168" y2="491" stroke="#ff7f0e" stroke-width="6.25"/>
<text transform="translate(1185.6,499) scale(1.3,1)" font-size="25" letter-spacing="1.5">V-<tspan font-style="italic">t</tspan><tspan font-size="17" dy="5">2<tspan font-style="italic">g</tspan></tspan></text>
<line x1="1115" y1="528" x2="1168" y2="528" stroke="#9467bd" stroke-width="6.25"/>
<text transform="translate(1185.6,536) scale(1.3,1)" font-size="25" letter-spacing="1.5">V-<tspan font-style="italic">e</tspan><tspan font-size="17" font-style="italic" dy="5">g</tspan></text>
<line x1="1115" y1="564" x2="1168" y2="564" stroke="#1f77b4" stroke-width="6.25"/>
<text transform="translate(1185.6,572) scale(1.3,1)" font-size="25" letter-spacing="1.5">O-<tspan font-style="italic">p</tspan></text>
</svg></body></html>
